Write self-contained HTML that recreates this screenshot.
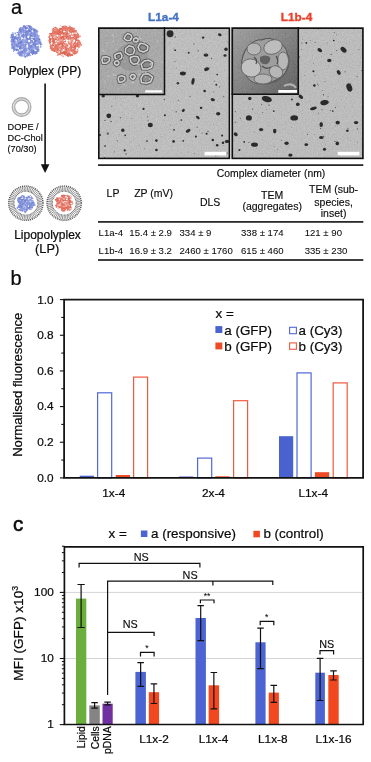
<!DOCTYPE html>
<html><head><meta charset="utf-8"><style>
html,body{margin:0;padding:0;background:#fff;width:371px;height:762px;overflow:hidden}
svg{display:block;font-family:"Liberation Sans",sans-serif;will-change:transform}
text{stroke:#0a0a0a;stroke-width:0.22px}
text[fill="#4472c4"]{stroke:#4472c4;stroke-width:0.35px}
text[fill="#e8402a"]{stroke:#e8402a;stroke-width:0.35px}
</style></head><body>
<svg width="371" height="762" viewBox="0 0 371 762" font-family="Liberation Sans, sans-serif"><text x="11" y="14.2" font-size="20" fill="#0a0a0a" text-anchor="start" font-weight="normal" style="stroke-width:0.22px" >a</text>
<g><circle cx="21.88" cy="52.40" r="4.22" fill="#8090dc"/><circle cx="16.15" cy="46.99" r="4.20" fill="#8090dc"/><circle cx="15.40" cy="41.22" r="4.76" fill="#8090dc"/><circle cx="16.22" cy="37.31" r="4.74" fill="#8090dc"/><circle cx="22.82" cy="31.66" r="4.45" fill="#8090dc"/><circle cx="28.22" cy="29.91" r="4.97" fill="#8090dc"/><circle cx="33.34" cy="32.43" r="4.19" fill="#8090dc"/><circle cx="36.07" cy="40.46" r="4.33" fill="#8090dc"/><circle cx="36.03" cy="43.38" r="5.32" fill="#8090dc"/><circle cx="33.62" cy="49.37" r="5.06" fill="#8090dc"/><circle cx="27.27" cy="52.63" r="4.21" fill="#8090dc"/><circle cx="28.79" cy="42.89" r="5.18" fill="#8090dc"/><circle cx="21.58" cy="43.52" r="4.97" fill="#8090dc"/><circle cx="21.42" cy="42.84" r="5.43" fill="#8090dc"/><circle cx="24.29" cy="37.95" r="4.94" fill="#8090dc"/><circle cx="18.31" cy="40.45" r="5.29" fill="#8090dc"/><circle cx="23.68" cy="49.09" r="3.94" fill="#8090dc"/><circle cx="19.60" cy="44.93" r="4.01" fill="#8090dc"/><circle cx="23.96" cy="41.71" r="5.15" fill="#8090dc"/><circle cx="26.04" cy="35.73" r="5.61" fill="#8090dc"/><circle cx="22.97" cy="47.58" r="4.99" fill="#8090dc"/><circle cx="20.89" cy="39.07" r="5.53" fill="#8090dc"/><circle cx="25.50" cy="41.60" r="8.09" fill="#8090dc"/><circle cx="30.99" cy="44.20" r="0.94" fill="#7f8fda"/><circle cx="30.05" cy="44.64" r="0.67" fill="#6a7acc"/><circle cx="24.19" cy="41.27" r="0.71" fill="#6a7acc"/><circle cx="27.23" cy="36.81" r="0.58" fill="#93a0e2"/><circle cx="32.17" cy="43.37" r="0.55" fill="#6a7acc"/><circle cx="21.79" cy="39.73" r="0.99" fill="#7383d4"/><circle cx="19.06" cy="47.93" r="0.91" fill="#93a0e2"/><circle cx="23.77" cy="42.92" r="0.59" fill="#7383d4"/><circle cx="21.36" cy="43.57" r="0.61" fill="#a3aee6"/><circle cx="37.47" cy="49.47" r="0.87" fill="#93a0e2"/><circle cx="31.21" cy="51.43" r="1.07" fill="#a3aee6"/><circle cx="22.36" cy="46.36" r="0.98" fill="#ffffff"/><circle cx="18.64" cy="45.71" r="0.88" fill="#6a7acc"/><circle cx="17.93" cy="51.55" r="0.60" fill="#6a7acc"/><circle cx="26.00" cy="51.69" r="0.59" fill="#a3aee6"/><circle cx="20.37" cy="35.93" r="1.02" fill="#7f8fda"/><circle cx="22.29" cy="39.42" r="0.86" fill="#93a0e2"/><circle cx="22.41" cy="44.45" r="0.79" fill="#6a7acc"/><circle cx="35.25" cy="50.35" r="0.94" fill="#93a0e2"/><circle cx="19.50" cy="38.25" r="0.62" fill="#7f8fda"/><circle cx="21.20" cy="52.03" r="0.95" fill="#7f8fda"/><circle cx="39.10" cy="48.63" r="1.01" fill="#ffffff"/><circle cx="22.41" cy="50.50" r="0.82" fill="#7383d4"/><circle cx="22.63" cy="51.01" r="0.98" fill="#7383d4"/><circle cx="21.40" cy="40.74" r="0.80" fill="#a3aee6"/><circle cx="26.29" cy="52.11" r="0.66" fill="#6a7acc"/><circle cx="21.09" cy="38.17" r="1.09" fill="#ffffff"/><circle cx="30.49" cy="43.84" r="0.62" fill="#6a7acc"/><circle cx="28.48" cy="32.96" r="1.00" fill="#a3aee6"/><circle cx="21.38" cy="38.48" r="0.55" fill="#ffffff"/><circle cx="23.85" cy="41.84" r="0.95" fill="#ffffff"/><circle cx="21.45" cy="37.82" r="0.70" fill="#ffffff"/><circle cx="16.68" cy="44.67" r="0.93" fill="#7f8fda"/><circle cx="29.18" cy="29.87" r="1.04" fill="#a3aee6"/><circle cx="26.21" cy="51.82" r="0.89" fill="#6a7acc"/><circle cx="31.30" cy="46.64" r="0.51" fill="#7f8fda"/><circle cx="27.03" cy="50.63" r="0.76" fill="#7383d4"/><circle cx="34.38" cy="30.42" r="0.63" fill="#93a0e2"/><circle cx="23.89" cy="52.63" r="0.83" fill="#93a0e2"/><circle cx="27.00" cy="33.34" r="0.90" fill="#6a7acc"/><circle cx="19.78" cy="51.21" r="0.58" fill="#a3aee6"/><circle cx="22.12" cy="31.56" r="0.97" fill="#6a7acc"/><circle cx="31.93" cy="35.88" r="0.58" fill="#7383d4"/><circle cx="25.27" cy="30.87" r="0.91" fill="#93a0e2"/><circle cx="19.82" cy="47.69" r="1.03" fill="#7f8fda"/><circle cx="16.17" cy="49.59" r="0.80" fill="#7f8fda"/><circle cx="24.00" cy="45.71" r="0.77" fill="#7f8fda"/><circle cx="31.10" cy="34.88" r="0.92" fill="#7383d4"/><circle cx="19.07" cy="37.68" r="1.06" fill="#a3aee6"/><circle cx="16.69" cy="40.31" r="1.05" fill="#93a0e2"/><circle cx="34.31" cy="30.89" r="0.74" fill="#7f8fda"/><circle cx="29.45" cy="53.70" r="0.63" fill="#7f8fda"/><circle cx="34.81" cy="43.87" r="1.06" fill="#7383d4"/><circle cx="21.78" cy="45.70" r="1.08" fill="#7383d4"/><circle cx="36.04" cy="38.89" r="0.60" fill="#6a7acc"/><circle cx="22.18" cy="36.80" r="1.10" fill="#6a7acc"/><circle cx="20.21" cy="45.71" r="0.56" fill="#93a0e2"/><circle cx="33.29" cy="43.45" r="0.92" fill="#6a7acc"/><circle cx="19.32" cy="47.54" r="1.08" fill="#a3aee6"/><circle cx="21.16" cy="36.84" r="0.55" fill="#7f8fda"/><circle cx="41.38" cy="44.74" r="0.95" fill="#93a0e2"/><circle cx="24.50" cy="38.58" r="0.74" fill="#93a0e2"/><circle cx="22.72" cy="43.20" r="0.70" fill="#ffffff"/><circle cx="40.88" cy="45.21" r="1.04" fill="#6a7acc"/><circle cx="40.64" cy="41.49" r="0.55" fill="#93a0e2"/><circle cx="40.40" cy="42.38" r="0.51" fill="#6a7acc"/><circle cx="15.68" cy="47.16" r="0.58" fill="#a3aee6"/><circle cx="22.55" cy="44.75" r="0.66" fill="#7383d4"/><circle cx="29.19" cy="33.02" r="0.82" fill="#93a0e2"/><circle cx="32.47" cy="35.80" r="0.66" fill="#7383d4"/><circle cx="22.84" cy="52.36" r="0.94" fill="#7f8fda"/><circle cx="22.95" cy="44.47" r="1.06" fill="#7383d4"/><circle cx="13.77" cy="33.53" r="0.80" fill="#ffffff"/><circle cx="24.77" cy="42.92" r="1.09" fill="#7383d4"/><circle cx="28.75" cy="57.04" r="0.88" fill="#ffffff"/><circle cx="27.36" cy="43.13" r="0.51" fill="#7383d4"/><circle cx="22.80" cy="44.62" r="0.53" fill="#7383d4"/><circle cx="24.18" cy="33.97" r="1.08" fill="#ffffff"/><circle cx="26.21" cy="39.30" r="0.61" fill="#6a7acc"/><circle cx="33.00" cy="44.45" r="1.08" fill="#93a0e2"/><circle cx="19.21" cy="45.72" r="0.63" fill="#93a0e2"/><circle cx="31.82" cy="29.93" r="0.67" fill="#6a7acc"/><circle cx="24.23" cy="51.55" r="0.55" fill="#7f8fda"/><circle cx="18.05" cy="44.59" r="0.51" fill="#6a7acc"/><circle cx="32.43" cy="48.12" r="1.01" fill="#a3aee6"/><circle cx="20.39" cy="27.96" r="0.73" fill="#a3aee6"/><circle cx="26.63" cy="49.21" r="0.93" fill="#93a0e2"/><circle cx="26.24" cy="51.78" r="1.04" fill="#ffffff"/><circle cx="18.53" cy="49.69" r="0.58" fill="#a3aee6"/><circle cx="23.74" cy="45.60" r="1.00" fill="#7f8fda"/><circle cx="25.48" cy="36.83" r="0.89" fill="#ffffff"/><circle cx="17.40" cy="41.62" r="1.08" fill="#93a0e2"/><circle cx="23.82" cy="39.77" r="0.51" fill="#ffffff"/><circle cx="18.21" cy="41.94" r="0.77" fill="#7f8fda"/><circle cx="15.35" cy="37.25" r="0.56" fill="#a3aee6"/><circle cx="27.32" cy="50.69" r="0.99" fill="#93a0e2"/><circle cx="36.54" cy="48.79" r="0.94" fill="#7383d4"/><circle cx="20.69" cy="38.09" r="1.05" fill="#6a7acc"/><circle cx="34.12" cy="44.73" r="0.62" fill="#ffffff"/><circle cx="28.04" cy="38.39" r="0.92" fill="#ffffff"/><circle cx="25.37" cy="35.43" r="0.79" fill="#7f8fda"/><circle cx="23.35" cy="40.85" r="0.67" fill="#6a7acc"/><circle cx="22.98" cy="52.17" r="1.10" fill="#7f8fda"/><circle cx="21.07" cy="49.37" r="0.51" fill="#6a7acc"/><circle cx="27.96" cy="39.86" r="1.10" fill="#6a7acc"/><circle cx="23.00" cy="49.02" r="0.54" fill="#7383d4"/><circle cx="17.94" cy="44.37" r="0.58" fill="#93a0e2"/><circle cx="17.45" cy="47.27" r="0.72" fill="#ffffff"/><circle cx="21.78" cy="37.85" r="0.60" fill="#7f8fda"/><circle cx="16.66" cy="36.85" r="0.58" fill="#ffffff"/><circle cx="27.28" cy="44.38" r="0.50" fill="#93a0e2"/><circle cx="28.18" cy="51.18" r="0.93" fill="#7383d4"/><circle cx="33.59" cy="50.89" r="1.10" fill="#6a7acc"/><circle cx="29.13" cy="44.40" r="1.01" fill="#93a0e2"/><circle cx="40.61" cy="46.79" r="0.88" fill="#93a0e2"/><circle cx="22.83" cy="34.36" r="0.69" fill="#a3aee6"/><circle cx="29.66" cy="39.01" r="0.99" fill="#7f8fda"/><circle cx="18.53" cy="50.80" r="0.83" fill="#a3aee6"/><circle cx="19.95" cy="42.69" r="0.87" fill="#6a7acc"/><circle cx="21.10" cy="29.46" r="1.05" fill="#7f8fda"/><circle cx="21.86" cy="47.26" r="0.67" fill="#93a0e2"/><circle cx="35.60" cy="37.21" r="0.74" fill="#93a0e2"/><circle cx="34.88" cy="44.07" r="0.57" fill="#6a7acc"/><circle cx="24.38" cy="49.85" r="0.83" fill="#6a7acc"/><circle cx="29.12" cy="34.72" r="0.76" fill="#6a7acc"/><circle cx="20.11" cy="46.26" r="0.83" fill="#93a0e2"/><circle cx="27.44" cy="55.14" r="0.62" fill="#a3aee6"/><circle cx="21.88" cy="49.20" r="0.95" fill="#6a7acc"/><circle cx="31.29" cy="34.43" r="0.80" fill="#7f8fda"/><circle cx="26.07" cy="41.27" r="0.82" fill="#a3aee6"/><circle cx="37.23" cy="34.99" r="0.74" fill="#6a7acc"/><circle cx="21.33" cy="39.30" r="0.58" fill="#7f8fda"/><circle cx="19.90" cy="36.99" r="1.08" fill="#6a7acc"/><circle cx="22.20" cy="40.46" r="1.01" fill="#a3aee6"/><circle cx="24.31" cy="39.87" r="0.59" fill="#7383d4"/><circle cx="25.47" cy="42.80" r="0.89" fill="#ffffff"/><circle cx="28.70" cy="40.56" r="0.97" fill="#7f8fda"/><circle cx="35.18" cy="40.04" r="0.68" fill="#ffffff"/><circle cx="20.16" cy="28.95" r="0.92" fill="#6a7acc"/><circle cx="18.70" cy="39.09" r="0.62" fill="#a3aee6"/><circle cx="36.83" cy="48.16" r="0.82" fill="#7f8fda"/><circle cx="23.70" cy="41.17" r="0.79" fill="#7383d4"/><circle cx="35.24" cy="40.20" r="0.92" fill="#6a7acc"/><circle cx="36.09" cy="50.27" r="0.89" fill="#ffffff"/><circle cx="15.19" cy="45.79" r="0.64" fill="#93a0e2"/><circle cx="14.75" cy="43.04" r="0.91" fill="#93a0e2"/><circle cx="35.99" cy="32.54" r="0.54" fill="#a3aee6"/><circle cx="21.72" cy="39.80" r="0.64" fill="#7383d4"/><circle cx="35.62" cy="45.24" r="1.07" fill="#7f8fda"/><circle cx="13.77" cy="36.70" r="0.75" fill="#6a7acc"/><circle cx="25.60" cy="40.81" r="0.53" fill="#6a7acc"/><circle cx="23.73" cy="52.09" r="0.93" fill="#7f8fda"/><circle cx="23.88" cy="33.35" r="0.94" fill="#93a0e2"/><circle cx="18.31" cy="39.88" r="0.89" fill="#7383d4"/><circle cx="23.66" cy="48.26" r="0.94" fill="#ffffff"/><circle cx="32.82" cy="42.51" r="0.50" fill="#7f8fda"/><circle cx="39.57" cy="45.35" r="0.84" fill="#7f8fda"/><circle cx="30.19" cy="35.38" r="0.99" fill="#93a0e2"/><circle cx="25.99" cy="45.65" r="0.72" fill="#7383d4"/><circle cx="25.52" cy="41.24" r="0.52" fill="#6a7acc"/><circle cx="21.48" cy="47.89" r="0.52" fill="#6a7acc"/><circle cx="11.83" cy="47.98" r="0.65" fill="#7f8fda"/><circle cx="18.01" cy="39.28" r="0.70" fill="#93a0e2"/><circle cx="31.53" cy="37.27" r="0.69" fill="#ffffff"/><circle cx="34.47" cy="48.46" r="1.05" fill="#a3aee6"/><circle cx="24.38" cy="47.08" r="0.56" fill="#7383d4"/><circle cx="34.45" cy="39.11" r="0.97" fill="#6a7acc"/><circle cx="22.34" cy="40.70" r="0.61" fill="#6a7acc"/><circle cx="35.93" cy="44.68" r="0.64" fill="#a3aee6"/><circle cx="23.02" cy="53.70" r="0.55" fill="#a3aee6"/><circle cx="31.80" cy="33.67" r="0.54" fill="#6a7acc"/><circle cx="12.52" cy="47.40" r="1.09" fill="#7383d4"/><circle cx="19.09" cy="37.09" r="0.63" fill="#7f8fda"/><circle cx="16.04" cy="42.89" r="0.60" fill="#6a7acc"/><circle cx="19.25" cy="33.72" r="0.64" fill="#ffffff"/><circle cx="21.80" cy="41.78" r="0.97" fill="#7f8fda"/><circle cx="32.40" cy="53.68" r="0.65" fill="#93a0e2"/><circle cx="37.00" cy="46.33" r="0.64" fill="#7383d4"/><circle cx="37.00" cy="46.36" r="0.54" fill="#93a0e2"/><circle cx="40.48" cy="43.17" r="0.89" fill="#7383d4"/><circle cx="13.05" cy="32.75" r="0.50" fill="#7f8fda"/><circle cx="38.70" cy="36.35" r="1.03" fill="#7f8fda"/><circle cx="37.70" cy="41.97" r="0.62" fill="#a3aee6"/><circle cx="11.78" cy="44.97" r="0.86" fill="#6a7acc"/><circle cx="22.88" cy="38.36" r="0.93" fill="#a3aee6"/><circle cx="29.53" cy="46.51" r="0.53" fill="#7383d4"/><circle cx="41.23" cy="44.65" r="0.99" fill="#7383d4"/><circle cx="24.73" cy="54.26" r="0.69" fill="#a3aee6"/><circle cx="36.73" cy="33.11" r="0.54" fill="#6a7acc"/><circle cx="17.52" cy="32.95" r="0.88" fill="#7383d4"/><circle cx="13.38" cy="38.33" r="0.75" fill="#93a0e2"/><circle cx="31.72" cy="46.03" r="0.69" fill="#7f8fda"/><circle cx="26.87" cy="39.10" r="1.02" fill="#7f8fda"/><circle cx="26.44" cy="39.89" r="0.62" fill="#6a7acc"/><circle cx="20.08" cy="53.19" r="0.99" fill="#7f8fda"/><circle cx="18.46" cy="41.86" r="0.58" fill="#7383d4"/><circle cx="12.39" cy="45.73" r="0.55" fill="#6a7acc"/><circle cx="31.12" cy="33.23" r="0.59" fill="#7383d4"/><circle cx="34.92" cy="51.47" r="0.57" fill="#7f8fda"/><circle cx="18.43" cy="34.92" r="0.68" fill="#7383d4"/><circle cx="19.54" cy="46.46" r="0.86" fill="#7f8fda"/><circle cx="18.72" cy="51.19" r="0.91" fill="#a3aee6"/><circle cx="24.78" cy="25.74" r="0.74" fill="#a3aee6"/><circle cx="34.34" cy="30.58" r="0.53" fill="#7383d4"/><circle cx="25.22" cy="51.40" r="0.65" fill="#7383d4"/><circle cx="36.91" cy="33.37" r="0.52" fill="#ffffff"/><circle cx="30.11" cy="55.21" r="1.01" fill="#a3aee6"/><circle cx="31.66" cy="46.71" r="0.76" fill="#7383d4"/><circle cx="17.78" cy="42.48" r="0.51" fill="#7383d4"/><circle cx="30.52" cy="35.34" r="0.96" fill="#6a7acc"/><circle cx="27.00" cy="33.47" r="0.56" fill="#6a7acc"/><circle cx="20.83" cy="34.12" r="0.80" fill="#6a7acc"/><circle cx="25.91" cy="40.38" r="1.05" fill="#7f8fda"/><circle cx="27.88" cy="49.14" r="0.95" fill="#7f8fda"/><circle cx="18.61" cy="39.28" r="1.01" fill="#7f8fda"/><circle cx="25.37" cy="29.81" r="0.58" fill="#7383d4"/><circle cx="16.99" cy="45.89" r="0.91" fill="#7383d4"/><circle cx="38.84" cy="41.66" r="0.60" fill="#93a0e2"/><circle cx="25.11" cy="41.62" r="0.65" fill="#7383d4"/><circle cx="19.13" cy="43.53" r="0.64" fill="#a3aee6"/><circle cx="31.32" cy="43.49" r="0.88" fill="#7383d4"/><circle cx="33.49" cy="38.03" r="0.98" fill="#7383d4"/><circle cx="39.44" cy="46.39" r="1.01" fill="#ffffff"/><circle cx="20.12" cy="36.44" r="0.65" fill="#7f8fda"/><circle cx="17.57" cy="42.78" r="0.66" fill="#93a0e2"/><circle cx="25.56" cy="41.18" r="0.77" fill="#7f8fda"/><circle cx="23.94" cy="26.12" r="0.99" fill="#93a0e2"/><circle cx="33.76" cy="49.09" r="1.06" fill="#a3aee6"/><circle cx="26.82" cy="48.37" r="0.59" fill="#7383d4"/><circle cx="23.04" cy="32.71" r="1.04" fill="#93a0e2"/><circle cx="18.74" cy="31.96" r="0.51" fill="#7f8fda"/><circle cx="19.39" cy="51.27" r="0.71" fill="#a3aee6"/><circle cx="33.68" cy="41.91" r="0.62" fill="#7383d4"/><circle cx="27.28" cy="33.42" r="1.06" fill="#7f8fda"/><circle cx="35.17" cy="37.16" r="0.88" fill="#7f8fda"/><circle cx="21.72" cy="35.03" r="1.08" fill="#93a0e2"/><circle cx="13.87" cy="44.06" r="0.86" fill="#93a0e2"/><circle cx="18.46" cy="43.74" r="0.80" fill="#ffffff"/><circle cx="29.22" cy="29.21" r="0.52" fill="#a3aee6"/><circle cx="28.32" cy="31.32" r="0.51" fill="#7f8fda"/><circle cx="18.44" cy="43.19" r="0.62" fill="#6a7acc"/><circle cx="22.72" cy="31.58" r="0.99" fill="#6a7acc"/><circle cx="26.74" cy="29.83" r="0.53" fill="#ffffff"/><circle cx="18.20" cy="39.97" r="0.95" fill="#6a7acc"/><circle cx="28.41" cy="40.23" r="0.64" fill="#7383d4"/><circle cx="15.90" cy="41.77" r="0.70" fill="#7f8fda"/><circle cx="30.07" cy="39.88" r="0.66" fill="#7f8fda"/><circle cx="17.92" cy="41.41" r="1.08" fill="#a3aee6"/><circle cx="29.95" cy="44.82" r="0.55" fill="#7383d4"/><circle cx="26.03" cy="49.32" r="1.01" fill="#7383d4"/><circle cx="37.34" cy="30.98" r="0.62" fill="#93a0e2"/><circle cx="20.23" cy="46.03" r="1.05" fill="#ffffff"/><circle cx="23.48" cy="35.07" r="1.00" fill="#6a7acc"/><circle cx="27.05" cy="41.66" r="0.64" fill="#ffffff"/><circle cx="34.53" cy="45.76" r="0.55" fill="#a3aee6"/><circle cx="28.80" cy="30.67" r="0.87" fill="#7f8fda"/><circle cx="26.98" cy="31.73" r="0.52" fill="#7f8fda"/><circle cx="21.35" cy="27.77" r="0.54" fill="#ffffff"/><circle cx="19.63" cy="48.51" r="0.62" fill="#93a0e2"/><circle cx="20.54" cy="44.17" r="1.07" fill="#ffffff"/><circle cx="16.28" cy="39.82" r="0.52" fill="#7f8fda"/><circle cx="27.31" cy="50.23" r="0.67" fill="#ffffff"/><circle cx="19.56" cy="40.98" r="0.62" fill="#ffffff"/><circle cx="25.96" cy="54.80" r="0.65" fill="#93a0e2"/><circle cx="38.57" cy="50.93" r="0.96" fill="#93a0e2"/><circle cx="19.95" cy="35.59" r="0.95" fill="#a3aee6"/><circle cx="25.93" cy="43.73" r="0.71" fill="#7f8fda"/><circle cx="32.33" cy="43.73" r="1.02" fill="#ffffff"/><circle cx="12.72" cy="39.87" r="0.50" fill="#6a7acc"/><circle cx="32.32" cy="36.57" r="0.50" fill="#7f8fda"/><circle cx="22.58" cy="43.38" r="1.08" fill="#7383d4"/><circle cx="20.79" cy="46.23" r="0.85" fill="#93a0e2"/><circle cx="27.65" cy="32.56" r="0.64" fill="#ffffff"/><circle cx="31.81" cy="32.88" r="0.79" fill="#7f8fda"/><circle cx="22.65" cy="40.44" r="0.71" fill="#93a0e2"/><circle cx="26.55" cy="41.12" r="0.55" fill="#ffffff"/><circle cx="25.60" cy="48.00" r="0.76" fill="#93a0e2"/><circle cx="16.70" cy="44.91" r="0.64" fill="#ffffff"/><circle cx="27.42" cy="41.16" r="0.95" fill="#ffffff"/><circle cx="27.34" cy="48.52" r="0.59" fill="#a3aee6"/><circle cx="21.66" cy="33.68" r="0.78" fill="#7383d4"/><circle cx="26.56" cy="34.44" r="0.70" fill="#7383d4"/><circle cx="25.12" cy="45.69" r="0.66" fill="#7383d4"/><circle cx="28.96" cy="34.97" r="0.59" fill="#ffffff"/><circle cx="35.41" cy="36.56" r="0.60" fill="#93a0e2"/><circle cx="29.70" cy="51.94" r="1.10" fill="#ffffff"/><circle cx="30.03" cy="29.47" r="0.59" fill="#6a7acc"/><circle cx="24.07" cy="27.36" r="0.66" fill="#6a7acc"/><circle cx="15.04" cy="35.91" r="1.03" fill="#7383d4"/><circle cx="27.88" cy="38.73" r="0.92" fill="#6a7acc"/><circle cx="26.18" cy="48.79" r="0.59" fill="#7f8fda"/><circle cx="26.00" cy="35.24" r="1.04" fill="#7383d4"/><circle cx="19.94" cy="38.17" r="0.75" fill="#ffffff"/><circle cx="34.04" cy="36.88" r="0.92" fill="#ffffff"/><circle cx="34.33" cy="36.77" r="0.76" fill="#6a7acc"/><circle cx="34.67" cy="41.96" r="0.65" fill="#6a7acc"/><circle cx="20.52" cy="39.00" r="1.01" fill="#93a0e2"/><circle cx="13.60" cy="41.81" r="0.81" fill="#6a7acc"/><circle cx="23.41" cy="37.89" r="0.70" fill="#ffffff"/><circle cx="19.22" cy="54.63" r="0.52" fill="#7f8fda"/><circle cx="20.40" cy="48.85" r="0.81" fill="#7383d4"/><circle cx="18.39" cy="34.22" r="0.93" fill="#7383d4"/><circle cx="27.78" cy="49.51" r="0.81" fill="#93a0e2"/><circle cx="21.21" cy="38.52" r="0.61" fill="#ffffff"/><circle cx="23.81" cy="47.47" r="0.71" fill="#a3aee6"/><circle cx="16.10" cy="50.04" r="0.51" fill="#7f8fda"/><circle cx="25.79" cy="40.27" r="0.71" fill="#ffffff"/><circle cx="38.69" cy="45.56" r="1.06" fill="#6a7acc"/><circle cx="28.22" cy="48.27" r="0.78" fill="#6a7acc"/><circle cx="31.76" cy="33.65" r="0.62" fill="#ffffff"/><circle cx="20.39" cy="46.52" r="0.71" fill="#7383d4"/><circle cx="25.51" cy="43.00" r="0.78" fill="#6a7acc"/><circle cx="33.92" cy="44.59" r="0.71" fill="#6a7acc"/><circle cx="35.73" cy="43.56" r="1.09" fill="#93a0e2"/><circle cx="21.02" cy="39.38" r="0.98" fill="#ffffff"/><circle cx="28.89" cy="46.24" r="0.79" fill="#6a7acc"/><circle cx="22.56" cy="31.66" r="0.59" fill="#93a0e2"/><circle cx="34.49" cy="48.25" r="1.04" fill="#a3aee6"/><circle cx="19.81" cy="31.08" r="0.51" fill="#a3aee6"/><circle cx="22.22" cy="53.69" r="0.65" fill="#93a0e2"/><circle cx="11.68" cy="34.86" r="0.97" fill="#7383d4"/><circle cx="29.39" cy="40.18" r="0.98" fill="#6a7acc"/><circle cx="24.47" cy="26.83" r="0.90" fill="#7f8fda"/><circle cx="20.63" cy="40.73" r="0.80" fill="#7383d4"/><circle cx="29.17" cy="31.62" r="0.90" fill="#6a7acc"/><circle cx="13.52" cy="36.33" r="1.00" fill="#7383d4"/><circle cx="16.81" cy="40.52" r="1.04" fill="#6a7acc"/><circle cx="18.79" cy="41.96" r="0.86" fill="#a3aee6"/><circle cx="23.39" cy="54.78" r="0.84" fill="#ffffff"/><circle cx="19.60" cy="43.32" r="0.75" fill="#6a7acc"/><circle cx="25.51" cy="41.44" r="0.89" fill="#ffffff"/><circle cx="18.72" cy="49.79" r="0.99" fill="#93a0e2"/><circle cx="12.35" cy="37.05" r="0.52" fill="#7383d4"/><circle cx="22.58" cy="43.31" r="1.02" fill="#7f8fda"/><circle cx="25.87" cy="47.41" r="0.96" fill="#a3aee6"/><circle cx="32.72" cy="35.24" r="0.83" fill="#93a0e2"/><circle cx="32.18" cy="54.59" r="0.70" fill="#6a7acc"/><circle cx="38.59" cy="40.75" r="0.89" fill="#7383d4"/><circle cx="14.69" cy="40.05" r="0.58" fill="#93a0e2"/><circle cx="27.96" cy="50.64" r="0.93" fill="#6a7acc"/><circle cx="20.33" cy="43.15" r="0.57" fill="#93a0e2"/><circle cx="17.90" cy="51.40" r="0.96" fill="#a3aee6"/><circle cx="17.29" cy="42.41" r="0.73" fill="#a3aee6"/><circle cx="19.77" cy="28.54" r="1.03" fill="#a3aee6"/><circle cx="16.46" cy="45.66" r="0.88" fill="#6a7acc"/><circle cx="30.22" cy="31.39" r="0.75" fill="#7f8fda"/><circle cx="20.10" cy="34.98" r="1.02" fill="#93a0e2"/><circle cx="23.72" cy="27.84" r="1.02" fill="#93a0e2"/><circle cx="25.31" cy="31.47" r="0.84" fill="#6a7acc"/><circle cx="25.26" cy="41.14" r="0.81" fill="#a3aee6"/><circle cx="16.76" cy="33.73" r="1.05" fill="#ffffff"/><circle cx="28.66" cy="39.92" r="0.86" fill="#a3aee6"/><circle cx="25.34" cy="38.53" r="0.83" fill="#6a7acc"/><circle cx="13.81" cy="39.19" r="0.88" fill="#7383d4"/><circle cx="26.70" cy="42.99" r="1.09" fill="#7f8fda"/><circle cx="15.78" cy="43.13" r="0.51" fill="#6a7acc"/><circle cx="24.21" cy="46.89" r="1.05" fill="#7383d4"/><circle cx="29.56" cy="37.81" r="0.94" fill="#7383d4"/><circle cx="14.28" cy="45.25" r="0.78" fill="#6a7acc"/><circle cx="37.25" cy="42.63" r="0.51" fill="#7f8fda"/><circle cx="24.94" cy="49.64" r="0.55" fill="#a3aee6"/><circle cx="31.86" cy="53.63" r="0.87" fill="#6a7acc"/><circle cx="24.74" cy="55.41" r="0.78" fill="#6a7acc"/><circle cx="31.42" cy="34.03" r="1.07" fill="#93a0e2"/><circle cx="25.62" cy="27.16" r="0.97" fill="#6a7acc"/><circle cx="29.13" cy="36.20" r="0.70" fill="#a3aee6"/><circle cx="41.76" cy="45.67" r="0.98" fill="#ffffff"/><circle cx="23.51" cy="40.20" r="1.00" fill="#7f8fda"/><circle cx="28.54" cy="31.35" r="0.73" fill="#7383d4"/><circle cx="16.82" cy="43.08" r="0.98" fill="#7383d4"/><circle cx="32.35" cy="46.25" r="0.75" fill="#93a0e2"/><circle cx="28.61" cy="39.17" r="0.67" fill="#7f8fda"/><circle cx="24.67" cy="27.15" r="0.59" fill="#a3aee6"/><circle cx="17.80" cy="40.80" r="0.82" fill="#93a0e2"/><circle cx="15.63" cy="43.54" r="0.97" fill="#7383d4"/><circle cx="35.63" cy="41.59" r="0.78" fill="#6a7acc"/><circle cx="36.71" cy="30.74" r="0.97" fill="#7f8fda"/><circle cx="20.17" cy="36.88" r="0.96" fill="#93a0e2"/><circle cx="33.12" cy="42.65" r="1.03" fill="#93a0e2"/><circle cx="22.26" cy="52.06" r="0.61" fill="#7383d4"/><circle cx="37.04" cy="34.85" r="0.72" fill="#93a0e2"/><circle cx="20.58" cy="45.85" r="0.65" fill="#7383d4"/><circle cx="16.88" cy="41.89" r="0.78" fill="#ffffff"/><circle cx="17.80" cy="44.81" r="0.67" fill="#93a0e2"/><circle cx="27.24" cy="35.89" r="0.79" fill="#a3aee6"/><circle cx="25.28" cy="47.38" r="0.76" fill="#93a0e2"/><circle cx="24.86" cy="32.72" r="0.65" fill="#7383d4"/><circle cx="13.53" cy="51.17" r="0.55" fill="#6a7acc"/><circle cx="19.08" cy="47.64" r="0.77" fill="#ffffff"/><circle cx="18.31" cy="37.83" r="0.92" fill="#7f8fda"/><circle cx="15.21" cy="45.42" r="0.55" fill="#ffffff"/><circle cx="18.11" cy="38.96" r="0.72" fill="#7383d4"/><circle cx="38.47" cy="40.33" r="1.07" fill="#7f8fda"/><circle cx="33.01" cy="44.54" r="1.00" fill="#7f8fda"/><circle cx="15.97" cy="50.52" r="0.89" fill="#ffffff"/><circle cx="20.53" cy="41.26" r="1.06" fill="#7f8fda"/><circle cx="20.83" cy="34.07" r="0.95" fill="#6a7acc"/><circle cx="12.88" cy="37.93" r="0.57" fill="#6a7acc"/><circle cx="15.30" cy="43.29" r="1.05" fill="#7383d4"/><circle cx="17.23" cy="53.35" r="0.59" fill="#7f8fda"/><circle cx="39.61" cy="42.34" r="1.03" fill="#93a0e2"/><circle cx="23.73" cy="26.63" r="1.01" fill="#6a7acc"/><circle cx="28.12" cy="50.21" r="0.99" fill="#93a0e2"/><circle cx="21.12" cy="42.95" r="0.63" fill="#93a0e2"/><circle cx="17.56" cy="49.99" r="0.76" fill="#7383d4"/><circle cx="22.48" cy="35.00" r="0.52" fill="#7383d4"/><circle cx="25.83" cy="38.74" r="0.66" fill="#7383d4"/><circle cx="14.02" cy="42.13" r="0.59" fill="#7f8fda"/><circle cx="27.79" cy="50.62" r="1.06" fill="#ffffff"/><circle cx="17.10" cy="45.29" r="0.95" fill="#93a0e2"/><circle cx="25.95" cy="44.18" r="1.06" fill="#7383d4"/><circle cx="13.45" cy="39.59" r="0.53" fill="#7383d4"/><circle cx="36.55" cy="53.12" r="0.98" fill="#6a7acc"/><circle cx="23.98" cy="52.41" r="0.67" fill="#a3aee6"/><circle cx="23.45" cy="45.19" r="0.67" fill="#7383d4"/><circle cx="29.82" cy="31.80" r="0.93" fill="#7383d4"/><circle cx="29.72" cy="29.78" r="0.94" fill="#a3aee6"/><circle cx="37.07" cy="45.44" r="0.92" fill="#ffffff"/><circle cx="31.41" cy="31.33" r="0.92" fill="#7f8fda"/><circle cx="20.38" cy="51.24" r="0.81" fill="#7f8fda"/><circle cx="25.94" cy="47.70" r="0.55" fill="#6a7acc"/><circle cx="25.15" cy="40.48" r="0.66" fill="#ffffff"/><circle cx="22.87" cy="27.67" r="0.60" fill="#7f8fda"/><circle cx="23.76" cy="40.33" r="0.81" fill="#93a0e2"/><circle cx="25.81" cy="37.65" r="0.93" fill="#93a0e2"/><circle cx="28.11" cy="48.09" r="0.95" fill="#a3aee6"/><circle cx="15.73" cy="48.55" r="0.80" fill="#ffffff"/><circle cx="27.78" cy="49.76" r="0.51" fill="#7383d4"/><circle cx="15.79" cy="43.58" r="0.69" fill="#7f8fda"/><circle cx="19.94" cy="44.19" r="1.06" fill="#7f8fda"/><circle cx="33.01" cy="36.93" r="0.85" fill="#ffffff"/><circle cx="23.91" cy="52.17" r="1.02" fill="#93a0e2"/><circle cx="27.65" cy="46.08" r="0.80" fill="#6a7acc"/><circle cx="23.79" cy="47.56" r="0.74" fill="#7f8fda"/><circle cx="20.41" cy="31.02" r="0.59" fill="#7383d4"/><circle cx="20.25" cy="42.61" r="1.06" fill="#7f8fda"/><circle cx="20.02" cy="39.28" r="0.82" fill="#a3aee6"/><circle cx="22.89" cy="43.27" r="0.70" fill="#93a0e2"/><circle cx="38.35" cy="36.80" r="0.98" fill="#a3aee6"/><circle cx="29.08" cy="48.45" r="0.69" fill="#7f8fda"/><circle cx="27.70" cy="30.34" r="1.02" fill="#7383d4"/><circle cx="18.25" cy="36.16" r="0.61" fill="#a3aee6"/><circle cx="24.06" cy="54.07" r="0.64" fill="#7f8fda"/><circle cx="26.95" cy="41.77" r="0.88" fill="#6a7acc"/><circle cx="20.01" cy="47.83" r="1.05" fill="#93a0e2"/><circle cx="25.33" cy="40.54" r="0.87" fill="#7f8fda"/><circle cx="36.55" cy="43.88" r="1.07" fill="#7383d4"/><circle cx="36.28" cy="51.66" r="0.57" fill="#7383d4"/><circle cx="32.16" cy="34.12" r="0.55" fill="#93a0e2"/><circle cx="21.68" cy="41.21" r="0.81" fill="#7f8fda"/><circle cx="37.52" cy="47.09" r="0.65" fill="#93a0e2"/><circle cx="15.21" cy="38.23" r="0.87" fill="#6a7acc"/><circle cx="24.63" cy="45.41" r="0.93" fill="#a3aee6"/><circle cx="26.78" cy="35.93" r="0.78" fill="#6a7acc"/><circle cx="36.99" cy="50.04" r="0.81" fill="#7383d4"/><circle cx="25.19" cy="42.82" r="0.60" fill="#93a0e2"/><circle cx="34.77" cy="43.05" r="0.67" fill="#93a0e2"/><circle cx="32.11" cy="36.58" r="0.83" fill="#7383d4"/><circle cx="29.06" cy="32.57" r="0.81" fill="#7f8fda"/><circle cx="21.20" cy="41.98" r="0.64" fill="#a3aee6"/><circle cx="20.71" cy="36.52" r="0.90" fill="#93a0e2"/><circle cx="20.97" cy="28.00" r="0.99" fill="#93a0e2"/><circle cx="27.22" cy="51.50" r="0.66" fill="#6a7acc"/><circle cx="21.52" cy="42.16" r="0.75" fill="#7383d4"/><circle cx="21.10" cy="37.44" r="0.57" fill="#a3aee6"/><circle cx="25.88" cy="42.49" r="1.01" fill="#6a7acc"/><circle cx="39.42" cy="39.88" r="1.01" fill="#6a7acc"/><circle cx="17.69" cy="43.72" r="0.71" fill="#93a0e2"/><circle cx="20.98" cy="48.11" r="0.50" fill="#93a0e2"/><circle cx="15.82" cy="42.77" r="0.68" fill="#a3aee6"/><circle cx="19.87" cy="32.93" r="0.55" fill="#7383d4"/><circle cx="25.24" cy="56.70" r="1.08" fill="#7383d4"/><circle cx="37.91" cy="31.62" r="0.52" fill="#7f8fda"/><circle cx="31.98" cy="41.63" r="0.96" fill="#a3aee6"/><circle cx="17.33" cy="42.80" r="0.94" fill="#a3aee6"/><circle cx="18.49" cy="45.28" r="0.91" fill="#a3aee6"/><circle cx="28.82" cy="36.41" r="0.64" fill="#a3aee6"/><circle cx="18.57" cy="45.71" r="1.06" fill="#a3aee6"/><circle cx="26.56" cy="28.14" r="0.74" fill="#6a7acc"/><circle cx="30.11" cy="32.74" r="0.82" fill="#ffffff"/><circle cx="16.90" cy="43.99" r="1.00" fill="#7f8fda"/><circle cx="25.37" cy="52.44" r="0.91" fill="#93a0e2"/><circle cx="25.97" cy="47.15" r="0.81" fill="#7383d4"/><circle cx="24.83" cy="53.31" r="0.61" fill="#6a7acc"/><circle cx="21.21" cy="46.82" r="1.10" fill="#a3aee6"/><circle cx="22.14" cy="42.77" r="0.97" fill="#7f8fda"/><circle cx="32.54" cy="45.08" r="0.74" fill="#93a0e2"/><circle cx="12.32" cy="34.95" r="0.61" fill="#7383d4"/><circle cx="15.58" cy="43.13" r="0.81" fill="#a3aee6"/><circle cx="19.83" cy="30.15" r="0.59" fill="#7f8fda"/><circle cx="23.77" cy="47.58" r="0.55" fill="#7f8fda"/><circle cx="20.52" cy="49.28" r="0.98" fill="#6a7acc"/><circle cx="13.74" cy="43.67" r="0.69" fill="#a3aee6"/><circle cx="25.87" cy="46.58" r="0.66" fill="#7f8fda"/><circle cx="19.67" cy="33.11" r="0.71" fill="#7f8fda"/><circle cx="23.71" cy="37.38" r="1.03" fill="#7383d4"/><circle cx="24.07" cy="40.44" r="0.87" fill="#7f8fda"/><circle cx="36.42" cy="42.46" r="1.01" fill="#a3aee6"/><circle cx="31.88" cy="52.81" r="0.68" fill="#6a7acc"/><circle cx="25.96" cy="41.94" r="0.65" fill="#7f8fda"/><circle cx="19.55" cy="39.54" r="0.69" fill="#6a7acc"/><circle cx="17.07" cy="42.43" r="0.55" fill="#7383d4"/><circle cx="26.63" cy="31.87" r="0.74" fill="#93a0e2"/><circle cx="32.13" cy="45.83" r="0.70" fill="#6a7acc"/><circle cx="24.86" cy="48.40" r="0.83" fill="#93a0e2"/><circle cx="22.70" cy="46.42" r="0.76" fill="#7383d4"/><circle cx="34.15" cy="40.24" r="0.65" fill="#7383d4"/><circle cx="25.09" cy="33.16" r="0.83" fill="#7383d4"/><circle cx="26.98" cy="33.48" r="0.72" fill="#7383d4"/><circle cx="32.82" cy="29.45" r="0.62" fill="#a3aee6"/><circle cx="15.35" cy="40.36" r="0.91" fill="#6a7acc"/><circle cx="32.84" cy="41.50" r="0.85" fill="#6a7acc"/><circle cx="25.01" cy="42.06" r="0.63" fill="#a3aee6"/><circle cx="15.48" cy="35.79" r="0.94" fill="#93a0e2"/><circle cx="26.45" cy="44.41" r="0.69" fill="#7383d4"/><circle cx="20.39" cy="38.79" r="0.69" fill="#7383d4"/><circle cx="22.21" cy="38.00" r="0.98" fill="#93a0e2"/><circle cx="35.39" cy="54.10" r="0.64" fill="#7f8fda"/><circle cx="24.17" cy="28.65" r="0.74" fill="#93a0e2"/><circle cx="25.14" cy="32.55" r="1.06" fill="#7383d4"/><circle cx="32.95" cy="30.80" r="0.91" fill="#ffffff"/><circle cx="26.71" cy="43.68" r="0.65" fill="#6a7acc"/><circle cx="18.81" cy="47.23" r="0.67" fill="#7383d4"/><circle cx="40.60" cy="40.58" r="0.91" fill="#ffffff"/><circle cx="23.86" cy="44.10" r="0.95" fill="#7383d4"/><circle cx="22.06" cy="32.37" r="0.88" fill="#93a0e2"/><circle cx="25.65" cy="28.81" r="0.93" fill="#6a7acc"/><circle cx="40.60" cy="41.07" r="0.71" fill="#a3aee6"/><circle cx="25.20" cy="55.20" r="0.67" fill="#ffffff"/><circle cx="18.82" cy="44.31" r="0.53" fill="#ffffff"/><circle cx="35.66" cy="39.57" r="0.63" fill="#93a0e2"/><circle cx="28.78" cy="41.10" r="0.95" fill="#ffffff"/><circle cx="27.70" cy="32.65" r="0.71" fill="#7f8fda"/><circle cx="17.94" cy="44.15" r="0.94" fill="#a3aee6"/><circle cx="20.03" cy="44.60" r="0.92" fill="#ffffff"/><circle cx="18.69" cy="37.63" r="0.79" fill="#7383d4"/><circle cx="37.31" cy="33.55" r="0.66" fill="#a3aee6"/><circle cx="21.75" cy="48.51" r="0.83" fill="#7383d4"/><circle cx="38.11" cy="39.98" r="0.75" fill="#93a0e2"/><circle cx="32.14" cy="31.05" r="0.92" fill="#ffffff"/><circle cx="15.46" cy="39.66" r="0.81" fill="#7f8fda"/><circle cx="27.41" cy="41.40" r="0.68" fill="#ffffff"/><circle cx="29.99" cy="47.16" r="0.88" fill="#93a0e2"/><circle cx="11.58" cy="35.85" r="0.91" fill="#7383d4"/><circle cx="19.93" cy="29.60" r="1.00" fill="#6a7acc"/><circle cx="16.00" cy="36.73" r="0.62" fill="#6a7acc"/><circle cx="18.31" cy="45.33" r="0.92" fill="#7f8fda"/><circle cx="26.56" cy="37.41" r="0.78" fill="#6a7acc"/><circle cx="27.67" cy="47.30" r="0.51" fill="#7f8fda"/><circle cx="22.86" cy="43.10" r="0.84" fill="#ffffff"/><circle cx="12.88" cy="32.99" r="0.61" fill="#6a7acc"/><circle cx="18.37" cy="47.48" r="0.89" fill="#7f8fda"/><circle cx="19.17" cy="44.30" r="0.65" fill="#ffffff"/><circle cx="39.96" cy="42.53" r="0.96" fill="#7f8fda"/><circle cx="22.18" cy="33.82" r="0.82" fill="#ffffff"/><circle cx="23.72" cy="44.09" r="0.95" fill="#93a0e2"/><circle cx="24.38" cy="55.37" r="0.69" fill="#93a0e2"/><circle cx="32.61" cy="47.31" r="0.64" fill="#93a0e2"/><circle cx="19.61" cy="49.75" r="0.74" fill="#ffffff"/><circle cx="19.42" cy="45.81" r="0.94" fill="#6a7acc"/><circle cx="29.86" cy="46.54" r="0.91" fill="#7383d4"/><circle cx="31.23" cy="33.47" r="0.55" fill="#6a7acc"/><circle cx="18.17" cy="44.22" r="0.93" fill="#7383d4"/><circle cx="25.69" cy="53.17" r="0.76" fill="#a3aee6"/><circle cx="34.88" cy="49.98" r="0.75" fill="#ffffff"/><circle cx="27.70" cy="52.81" r="1.04" fill="#7383d4"/><circle cx="27.94" cy="30.17" r="0.91" fill="#a3aee6"/><circle cx="24.56" cy="43.37" r="0.81" fill="#93a0e2"/><circle cx="27.41" cy="41.74" r="1.08" fill="#7383d4"/><circle cx="21.70" cy="31.67" r="0.93" fill="#7f8fda"/><circle cx="25.18" cy="50.92" r="0.75" fill="#a3aee6"/><circle cx="23.92" cy="43.48" r="1.02" fill="#93a0e2"/><circle cx="24.26" cy="48.58" r="0.63" fill="#7383d4"/><circle cx="23.49" cy="35.87" r="0.72" fill="#a3aee6"/><circle cx="27.37" cy="40.44" r="0.84" fill="#7383d4"/><circle cx="21.39" cy="46.30" r="0.83" fill="#7383d4"/><circle cx="17.14" cy="42.33" r="0.56" fill="#ffffff"/><circle cx="21.81" cy="45.67" r="0.83" fill="#7383d4"/><circle cx="31.96" cy="39.37" r="0.81" fill="#ffffff"/><circle cx="18.86" cy="39.43" r="0.54" fill="#ffffff"/><circle cx="27.03" cy="41.03" r="0.93" fill="#a3aee6"/><circle cx="12.40" cy="33.40" r="0.56" fill="#a3aee6"/><circle cx="18.80" cy="40.76" r="0.84" fill="#7383d4"/><circle cx="18.61" cy="44.96" r="0.74" fill="#7f8fda"/><circle cx="15.72" cy="47.42" r="1.07" fill="#a3aee6"/><circle cx="22.78" cy="42.60" r="1.05" fill="#6a7acc"/><circle cx="11.61" cy="37.62" r="0.57" fill="#a3aee6"/><circle cx="31.38" cy="47.47" r="0.98" fill="#93a0e2"/><circle cx="24.17" cy="39.31" r="0.72" fill="#7383d4"/><circle cx="27.41" cy="47.83" r="0.99" fill="#7f8fda"/><circle cx="32.44" cy="45.54" r="0.57" fill="#a3aee6"/><circle cx="21.07" cy="42.94" r="0.77" fill="#ffffff"/><circle cx="18.95" cy="43.69" r="0.57" fill="#6a7acc"/><circle cx="37.87" cy="47.65" r="1.02" fill="#93a0e2"/><circle cx="19.08" cy="40.75" r="0.82" fill="#93a0e2"/><circle cx="25.85" cy="36.68" r="0.51" fill="#6a7acc"/><circle cx="30.73" cy="52.51" r="1.02" fill="#6a7acc"/><circle cx="19.62" cy="48.74" r="0.91" fill="#ffffff"/><circle cx="24.75" cy="38.72" r="1.01" fill="#ffffff"/><circle cx="22.33" cy="49.19" r="0.55" fill="#a3aee6"/><circle cx="24.55" cy="52.14" r="0.85" fill="#7383d4"/><circle cx="17.22" cy="51.33" r="0.78" fill="#ffffff"/><circle cx="18.21" cy="42.86" r="0.50" fill="#93a0e2"/><circle cx="21.09" cy="42.01" r="0.78" fill="#7383d4"/><circle cx="28.46" cy="36.44" r="0.59" fill="#ffffff"/><circle cx="20.98" cy="47.61" r="0.71" fill="#93a0e2"/><circle cx="18.13" cy="40.66" r="0.52" fill="#ffffff"/><circle cx="20.80" cy="44.10" r="0.96" fill="#7383d4"/><circle cx="21.31" cy="46.77" r="0.98" fill="#93a0e2"/><circle cx="39.51" cy="36.92" r="0.54" fill="#ffffff"/><circle cx="27.04" cy="49.10" r="0.65" fill="#ffffff"/><circle cx="19.02" cy="42.27" r="0.70" fill="#ffffff"/><circle cx="30.53" cy="49.70" r="0.72" fill="#a3aee6"/><circle cx="37.92" cy="35.72" r="0.58" fill="#7383d4"/><circle cx="25.00" cy="49.78" r="0.77" fill="#6a7acc"/><circle cx="24.78" cy="35.92" r="0.54" fill="#a3aee6"/><circle cx="33.06" cy="46.44" r="0.83" fill="#a3aee6"/><circle cx="29.21" cy="53.59" r="0.85" fill="#7f8fda"/><circle cx="28.45" cy="46.51" r="1.08" fill="#93a0e2"/><circle cx="17.52" cy="45.46" r="1.00" fill="#7f8fda"/><circle cx="29.37" cy="51.09" r="0.83" fill="#93a0e2"/><circle cx="26.22" cy="27.88" r="0.63" fill="#7f8fda"/><circle cx="16.35" cy="45.29" r="1.02" fill="#93a0e2"/><circle cx="25.31" cy="49.27" r="1.08" fill="#7f8fda"/><circle cx="27.74" cy="36.27" r="0.70" fill="#a3aee6"/><circle cx="25.54" cy="31.75" r="1.03" fill="#ffffff"/><circle cx="22.54" cy="48.45" r="0.70" fill="#93a0e2"/><circle cx="20.01" cy="49.85" r="0.98" fill="#ffffff"/><circle cx="31.73" cy="31.24" r="0.55" fill="#7f8fda"/><circle cx="23.69" cy="39.73" r="0.74" fill="#a3aee6"/><circle cx="24.94" cy="37.28" r="0.84" fill="#93a0e2"/><circle cx="30.92" cy="53.97" r="1.00" fill="#ffffff"/><circle cx="30.14" cy="31.19" r="0.82" fill="#7383d4"/><circle cx="13.29" cy="43.84" r="0.82" fill="#93a0e2"/><circle cx="25.54" cy="39.94" r="0.84" fill="#a3aee6"/><circle cx="35.93" cy="37.87" r="0.79" fill="#ffffff"/><circle cx="16.59" cy="44.27" r="1.09" fill="#a3aee6"/><circle cx="21.03" cy="36.68" r="1.06" fill="#a3aee6"/><circle cx="22.75" cy="35.57" r="0.89" fill="#7f8fda"/><circle cx="31.61" cy="46.81" r="0.95" fill="#6a7acc"/><circle cx="19.47" cy="39.52" r="0.54" fill="#7f8fda"/><circle cx="24.82" cy="53.01" r="1.06" fill="#93a0e2"/><circle cx="28.34" cy="37.12" r="1.01" fill="#ffffff"/><circle cx="24.81" cy="29.29" r="0.65" fill="#ffffff"/><circle cx="19.67" cy="46.23" r="0.78" fill="#6a7acc"/><circle cx="27.47" cy="51.85" r="0.94" fill="#ffffff"/><circle cx="17.26" cy="36.21" r="1.02" fill="#ffffff"/><circle cx="16.56" cy="49.99" r="1.07" fill="#6a7acc"/><circle cx="23.63" cy="46.79" r="0.66" fill="#7f8fda"/><circle cx="21.62" cy="46.63" r="0.96" fill="#93a0e2"/><circle cx="21.98" cy="52.99" r="0.63" fill="#6a7acc"/><circle cx="25.02" cy="37.66" r="1.07" fill="#93a0e2"/><circle cx="24.05" cy="29.17" r="0.50" fill="#93a0e2"/><circle cx="38.29" cy="44.03" r="1.07" fill="#a3aee6"/><circle cx="29.27" cy="30.22" r="1.01" fill="#7383d4"/><circle cx="33.92" cy="44.43" r="0.61" fill="#6a7acc"/><circle cx="25.67" cy="31.57" r="0.98" fill="#7f8fda"/><circle cx="23.32" cy="31.58" r="0.59" fill="#93a0e2"/><circle cx="30.83" cy="44.33" r="0.74" fill="#ffffff"/><circle cx="18.16" cy="48.01" r="0.74" fill="#ffffff"/><circle cx="28.16" cy="52.51" r="0.62" fill="#7383d4"/><circle cx="22.54" cy="46.52" r="0.86" fill="#a3aee6"/><circle cx="22.18" cy="42.54" r="0.53" fill="#7f8fda"/><circle cx="28.78" cy="53.28" r="1.08" fill="#6a7acc"/><circle cx="21.92" cy="49.94" r="0.82" fill="#ffffff"/><circle cx="22.66" cy="43.44" r="0.82" fill="#7f8fda"/><circle cx="19.98" cy="39.99" r="1.01" fill="#7383d4"/><circle cx="35.76" cy="37.81" r="0.51" fill="#7383d4"/><circle cx="37.21" cy="43.92" r="0.53" fill="#a3aee6"/><circle cx="21.93" cy="44.21" r="0.91" fill="#93a0e2"/><circle cx="19.98" cy="48.47" r="0.91" fill="#93a0e2"/><circle cx="24.78" cy="47.74" r="0.75" fill="#a3aee6"/><circle cx="20.36" cy="33.78" r="0.98" fill="#6a7acc"/><circle cx="27.54" cy="47.73" r="0.92" fill="#93a0e2"/><circle cx="26.88" cy="43.22" r="0.57" fill="#ffffff"/><circle cx="27.37" cy="29.59" r="0.74" fill="#7f8fda"/><circle cx="17.89" cy="48.32" r="0.90" fill="#a3aee6"/><circle cx="24.46" cy="37.92" r="0.89" fill="#ffffff"/><circle cx="13.53" cy="40.15" r="0.64" fill="#6a7acc"/><circle cx="24.38" cy="42.29" r="0.93" fill="#93a0e2"/><circle cx="24.56" cy="43.06" r="0.91" fill="#ffffff"/><circle cx="31.25" cy="54.56" r="0.63" fill="#ffffff"/><circle cx="26.36" cy="32.37" r="1.01" fill="#6a7acc"/><circle cx="24.62" cy="42.31" r="1.10" fill="#7383d4"/><circle cx="19.05" cy="39.43" r="0.62" fill="#a3aee6"/><circle cx="29.32" cy="27.28" r="0.59" fill="#7383d4"/><circle cx="15.85" cy="40.36" r="1.02" fill="#ffffff"/><circle cx="14.85" cy="49.66" r="0.57" fill="#6a7acc"/><circle cx="21.88" cy="28.60" r="0.71" fill="#93a0e2"/><circle cx="20.59" cy="48.67" r="0.67" fill="#7f8fda"/><circle cx="38.58" cy="49.28" r="0.88" fill="#6a7acc"/><circle cx="28.34" cy="27.65" r="0.58" fill="#ffffff"/><circle cx="15.30" cy="40.06" r="0.81" fill="#93a0e2"/><circle cx="21.50" cy="47.88" r="0.84" fill="#7f8fda"/><circle cx="13.84" cy="45.51" r="0.66" fill="#a3aee6"/><circle cx="27.18" cy="55.18" r="0.55" fill="#6a7acc"/><circle cx="21.22" cy="47.65" r="0.75" fill="#7383d4"/><circle cx="30.94" cy="46.93" r="0.93" fill="#7f8fda"/><circle cx="18.27" cy="47.17" r="1.08" fill="#93a0e2"/><circle cx="17.99" cy="38.22" r="0.64" fill="#93a0e2"/><circle cx="27.24" cy="45.17" r="0.85" fill="#ffffff"/><circle cx="13.77" cy="38.45" r="0.55" fill="#7f8fda"/><circle cx="21.23" cy="40.85" r="1.06" fill="#6a7acc"/><circle cx="23.01" cy="46.64" r="0.84" fill="#a3aee6"/><circle cx="23.12" cy="34.29" r="0.61" fill="#6a7acc"/><circle cx="11.75" cy="42.67" r="0.95" fill="#a3aee6"/><circle cx="19.83" cy="48.64" r="0.82" fill="#6a7acc"/><circle cx="19.87" cy="42.67" r="0.96" fill="#6a7acc"/><circle cx="20.56" cy="40.06" r="0.99" fill="#a3aee6"/><circle cx="11.09" cy="37.40" r="0.84" fill="#7383d4"/><circle cx="17.14" cy="45.01" r="0.79" fill="#93a0e2"/><circle cx="12.08" cy="45.65" r="0.58" fill="#a3aee6"/><circle cx="23.85" cy="37.39" r="0.69" fill="#7383d4"/><circle cx="32.96" cy="32.39" r="0.66" fill="#a3aee6"/><circle cx="39.34" cy="45.38" r="1.02" fill="#ffffff"/><circle cx="16.10" cy="47.66" r="0.53" fill="#ffffff"/><circle cx="33.65" cy="53.04" r="1.01" fill="#6a7acc"/><circle cx="35.26" cy="45.51" r="0.82" fill="#7383d4"/><circle cx="33.28" cy="40.86" r="0.85" fill="#ffffff"/><circle cx="32.01" cy="41.39" r="1.05" fill="#6a7acc"/><circle cx="17.53" cy="41.48" r="0.82" fill="#7f8fda"/><circle cx="26.95" cy="41.09" r="0.66" fill="#7f8fda"/><circle cx="23.02" cy="42.69" r="0.87" fill="#a3aee6"/><circle cx="25.16" cy="41.97" r="0.53" fill="#7383d4"/><circle cx="22.84" cy="41.08" r="1.02" fill="#7383d4"/><circle cx="16.95" cy="37.59" r="1.05" fill="#7f8fda"/><circle cx="19.45" cy="43.03" r="0.90" fill="#7383d4"/><circle cx="20.84" cy="33.25" r="1.00" fill="#a3aee6"/><circle cx="23.58" cy="27.31" r="0.56" fill="#a3aee6"/><circle cx="16.73" cy="38.92" r="0.75" fill="#7f8fda"/><circle cx="23.63" cy="34.34" r="0.91" fill="#6a7acc"/><circle cx="26.22" cy="27.96" r="0.53" fill="#7383d4"/><circle cx="23.53" cy="40.65" r="0.98" fill="#a3aee6"/><circle cx="22.03" cy="40.21" r="0.69" fill="#93a0e2"/><circle cx="35.88" cy="36.02" r="0.73" fill="#7383d4"/><circle cx="15.23" cy="48.71" r="0.63" fill="#93a0e2"/><circle cx="18.88" cy="42.96" r="0.94" fill="#7383d4"/><circle cx="19.40" cy="46.34" r="1.00" fill="#7f8fda"/><circle cx="14.82" cy="35.17" r="1.06" fill="#ffffff"/><circle cx="26.59" cy="50.52" r="0.95" fill="#7f8fda"/><circle cx="22.87" cy="36.65" r="0.79" fill="#7383d4"/><circle cx="30.05" cy="46.85" r="0.62" fill="#7f8fda"/><circle cx="17.53" cy="46.28" r="0.85" fill="#7383d4"/><circle cx="38.13" cy="50.30" r="0.71" fill="#7f8fda"/><circle cx="22.17" cy="30.69" r="0.71" fill="#93a0e2"/><circle cx="18.40" cy="45.81" r="0.57" fill="#7383d4"/><circle cx="35.45" cy="44.66" r="0.56" fill="#6a7acc"/><circle cx="21.04" cy="46.17" r="0.78" fill="#6a7acc"/><circle cx="19.79" cy="47.91" r="0.89" fill="#6a7acc"/><circle cx="18.70" cy="34.09" r="0.72" fill="#7f8fda"/><circle cx="20.51" cy="35.19" r="1.06" fill="#ffffff"/><circle cx="31.25" cy="52.75" r="0.68" fill="#6a7acc"/><circle cx="40.90" cy="46.64" r="0.59" fill="#7f8fda"/><circle cx="33.94" cy="42.90" r="0.65" fill="#6a7acc"/><circle cx="19.76" cy="40.75" r="1.07" fill="#93a0e2"/><circle cx="31.41" cy="50.90" r="1.05" fill="#7383d4"/><circle cx="15.15" cy="44.88" r="0.56" fill="#7f8fda"/><circle cx="11.76" cy="47.31" r="0.63" fill="#a3aee6"/><circle cx="37.87" cy="41.55" r="1.10" fill="#93a0e2"/><circle cx="17.82" cy="45.69" r="0.84" fill="#93a0e2"/><circle cx="19.88" cy="39.45" r="0.65" fill="#7383d4"/><circle cx="23.40" cy="47.97" r="0.54" fill="#7383d4"/><circle cx="28.27" cy="52.52" r="0.96" fill="#a3aee6"/><circle cx="29.57" cy="26.77" r="0.86" fill="#6a7acc"/><circle cx="33.87" cy="30.29" r="0.97" fill="#6a7acc"/><circle cx="18.23" cy="48.27" r="0.81" fill="#ffffff"/><circle cx="30.21" cy="32.70" r="0.62" fill="#7383d4"/><circle cx="34.40" cy="36.51" r="1.10" fill="#7f8fda"/><circle cx="22.69" cy="41.51" r="1.04" fill="#93a0e2"/><circle cx="24.11" cy="33.51" r="0.53" fill="#ffffff"/><circle cx="29.21" cy="41.09" r="1.08" fill="#ffffff"/><circle cx="27.08" cy="46.78" r="0.96" fill="#ffffff"/><circle cx="22.05" cy="44.70" r="1.04" fill="#93a0e2"/><circle cx="26.87" cy="33.42" r="0.60" fill="#a3aee6"/><circle cx="23.94" cy="38.91" r="0.68" fill="#a3aee6"/><circle cx="18.19" cy="40.54" r="0.54" fill="#7f8fda"/><circle cx="36.05" cy="37.62" r="0.62" fill="#7383d4"/><circle cx="19.24" cy="35.89" r="1.04" fill="#a3aee6"/><circle cx="22.01" cy="38.14" r="0.97" fill="#ffffff"/><circle cx="20.64" cy="42.38" r="0.74" fill="#6a7acc"/><circle cx="16.02" cy="45.76" r="0.90" fill="#93a0e2"/><circle cx="21.53" cy="42.42" r="0.86" fill="#6a7acc"/><circle cx="19.00" cy="34.64" r="0.86" fill="#6a7acc"/><circle cx="26.90" cy="41.36" r="0.71" fill="#7f8fda"/><circle cx="21.99" cy="35.81" r="1.10" fill="#7f8fda"/><circle cx="27.04" cy="26.21" r="0.82" fill="#ffffff"/><circle cx="39.13" cy="43.35" r="0.73" fill="#7f8fda"/><circle cx="25.62" cy="32.06" r="0.72" fill="#7383d4"/><circle cx="33.33" cy="44.15" r="0.69" fill="#6a7acc"/><circle cx="30.66" cy="51.66" r="0.61" fill="#a3aee6"/><circle cx="27.79" cy="30.26" r="0.56" fill="#7383d4"/><circle cx="31.68" cy="41.75" r="0.94" fill="#93a0e2"/><circle cx="24.79" cy="41.93" r="0.90" fill="#a3aee6"/><circle cx="27.28" cy="29.52" r="0.75" fill="#ffffff"/><circle cx="21.48" cy="46.92" r="0.72" fill="#93a0e2"/><circle cx="19.53" cy="33.86" r="0.99" fill="#a3aee6"/><circle cx="19.06" cy="45.06" r="0.91" fill="#93a0e2"/><circle cx="26.14" cy="53.99" r="0.57" fill="#ffffff"/><circle cx="16.79" cy="45.15" r="0.94" fill="#7383d4"/><circle cx="27.52" cy="38.68" r="0.50" fill="#7383d4"/></g>
<g><circle cx="73.88" cy="36.67" r="5.47" fill="#e47866"/><circle cx="76.62" cy="43.68" r="4.37" fill="#e47866"/><circle cx="73.31" cy="50.06" r="5.04" fill="#e47866"/><circle cx="68.82" cy="52.48" r="4.16" fill="#e47866"/><circle cx="61.16" cy="51.89" r="4.24" fill="#e47866"/><circle cx="54.77" cy="47.12" r="4.84" fill="#e47866"/><circle cx="53.95" cy="40.80" r="5.45" fill="#e47866"/><circle cx="53.80" cy="37.18" r="4.85" fill="#e47866"/><circle cx="57.31" cy="33.26" r="5.43" fill="#e47866"/><circle cx="63.61" cy="29.94" r="4.21" fill="#e47866"/><circle cx="70.23" cy="31.96" r="5.12" fill="#e47866"/><circle cx="69.69" cy="38.33" r="5.82" fill="#e47866"/><circle cx="65.49" cy="37.00" r="5.21" fill="#e47866"/><circle cx="63.67" cy="48.88" r="4.72" fill="#e47866"/><circle cx="59.26" cy="36.44" r="4.57" fill="#e47866"/><circle cx="62.75" cy="37.34" r="4.38" fill="#e47866"/><circle cx="66.14" cy="36.44" r="3.92" fill="#e47866"/><circle cx="70.19" cy="38.84" r="4.78" fill="#e47866"/><circle cx="62.09" cy="43.30" r="5.64" fill="#e47866"/><circle cx="68.66" cy="42.72" r="4.86" fill="#e47866"/><circle cx="60.91" cy="35.51" r="4.58" fill="#e47866"/><circle cx="69.02" cy="43.85" r="5.26" fill="#e47866"/><circle cx="64.70" cy="41.60" r="8.09" fill="#e47866"/><circle cx="62.26" cy="36.39" r="0.57" fill="#ffffff"/><circle cx="59.40" cy="35.36" r="0.84" fill="#ffffff"/><circle cx="66.40" cy="35.87" r="1.03" fill="#de6a5a"/><circle cx="73.78" cy="41.33" r="1.00" fill="#d86454"/><circle cx="68.73" cy="44.99" r="0.61" fill="#ffffff"/><circle cx="60.82" cy="33.66" r="0.74" fill="#d86454"/><circle cx="66.79" cy="34.46" r="0.71" fill="#ec8c7e"/><circle cx="54.26" cy="45.02" r="0.81" fill="#ffffff"/><circle cx="72.00" cy="42.38" r="0.70" fill="#de6a5a"/><circle cx="74.67" cy="49.36" r="1.01" fill="#e6786a"/><circle cx="69.39" cy="47.90" r="0.84" fill="#de6a5a"/><circle cx="58.47" cy="28.12" r="0.59" fill="#de6a5a"/><circle cx="70.79" cy="41.40" r="1.04" fill="#e6786a"/><circle cx="76.42" cy="39.02" r="0.73" fill="#ffffff"/><circle cx="66.43" cy="32.99" r="0.73" fill="#ffffff"/><circle cx="55.99" cy="27.81" r="0.99" fill="#f2a296"/><circle cx="52.58" cy="29.46" r="0.56" fill="#ec8c7e"/><circle cx="63.73" cy="41.40" r="0.72" fill="#e6786a"/><circle cx="61.40" cy="41.24" r="0.63" fill="#ec8c7e"/><circle cx="57.88" cy="34.99" r="0.80" fill="#ec8c7e"/><circle cx="55.76" cy="34.22" r="0.52" fill="#e6786a"/><circle cx="61.21" cy="38.07" r="1.06" fill="#ffffff"/><circle cx="67.40" cy="31.41" r="0.98" fill="#f2a296"/><circle cx="52.70" cy="47.00" r="0.82" fill="#f2a296"/><circle cx="74.33" cy="39.30" r="0.66" fill="#f2a296"/><circle cx="74.70" cy="40.42" r="0.55" fill="#ffffff"/><circle cx="65.99" cy="54.54" r="0.75" fill="#f2a296"/><circle cx="73.18" cy="39.29" r="1.08" fill="#ec8c7e"/><circle cx="68.58" cy="29.43" r="0.79" fill="#ffffff"/><circle cx="56.69" cy="53.94" r="0.87" fill="#ffffff"/><circle cx="52.43" cy="43.15" r="0.60" fill="#d86454"/><circle cx="59.33" cy="43.61" r="0.76" fill="#e6786a"/><circle cx="55.33" cy="35.46" r="0.62" fill="#ec8c7e"/><circle cx="67.42" cy="37.19" r="1.05" fill="#e6786a"/><circle cx="68.38" cy="41.32" r="0.75" fill="#de6a5a"/><circle cx="60.16" cy="31.30" r="0.83" fill="#ec8c7e"/><circle cx="63.12" cy="39.19" r="0.68" fill="#ec8c7e"/><circle cx="76.34" cy="39.41" r="1.04" fill="#d86454"/><circle cx="61.78" cy="42.45" r="1.01" fill="#e6786a"/><circle cx="70.50" cy="33.70" r="1.05" fill="#e6786a"/><circle cx="64.83" cy="32.77" r="1.01" fill="#de6a5a"/><circle cx="63.10" cy="35.17" r="0.71" fill="#de6a5a"/><circle cx="74.87" cy="44.64" r="0.67" fill="#ffffff"/><circle cx="62.49" cy="37.97" r="0.60" fill="#d86454"/><circle cx="64.09" cy="49.35" r="0.94" fill="#de6a5a"/><circle cx="69.80" cy="39.21" r="0.78" fill="#e6786a"/><circle cx="77.74" cy="47.41" r="1.02" fill="#e6786a"/><circle cx="66.22" cy="27.96" r="0.96" fill="#d86454"/><circle cx="56.84" cy="40.94" r="0.73" fill="#ec8c7e"/><circle cx="72.56" cy="55.13" r="0.76" fill="#de6a5a"/><circle cx="57.54" cy="40.58" r="1.05" fill="#ffffff"/><circle cx="68.76" cy="47.92" r="0.60" fill="#d86454"/><circle cx="58.79" cy="31.48" r="0.93" fill="#de6a5a"/><circle cx="61.49" cy="34.04" r="0.57" fill="#de6a5a"/><circle cx="61.70" cy="36.59" r="0.98" fill="#de6a5a"/><circle cx="58.08" cy="37.32" r="0.99" fill="#ffffff"/><circle cx="60.60" cy="31.18" r="0.56" fill="#de6a5a"/><circle cx="54.35" cy="39.62" r="0.74" fill="#e6786a"/><circle cx="53.99" cy="36.00" r="0.88" fill="#f2a296"/><circle cx="63.49" cy="51.05" r="0.79" fill="#e6786a"/><circle cx="69.10" cy="47.90" r="0.61" fill="#e6786a"/><circle cx="67.86" cy="39.27" r="0.81" fill="#e6786a"/><circle cx="65.74" cy="36.85" r="0.83" fill="#e6786a"/><circle cx="68.64" cy="49.99" r="0.98" fill="#f2a296"/><circle cx="71.35" cy="39.45" r="0.87" fill="#f2a296"/><circle cx="58.88" cy="36.72" r="0.63" fill="#ffffff"/><circle cx="57.23" cy="42.62" r="0.63" fill="#d86454"/><circle cx="62.16" cy="38.10" r="1.09" fill="#d86454"/><circle cx="72.83" cy="42.10" r="0.91" fill="#ec8c7e"/><circle cx="72.63" cy="44.64" r="0.55" fill="#e6786a"/><circle cx="55.50" cy="38.54" r="0.80" fill="#de6a5a"/><circle cx="67.86" cy="42.51" r="0.55" fill="#e6786a"/><circle cx="79.86" cy="46.49" r="0.63" fill="#f2a296"/><circle cx="61.73" cy="38.07" r="0.84" fill="#f2a296"/><circle cx="58.69" cy="38.06" r="1.05" fill="#e6786a"/><circle cx="76.44" cy="42.80" r="0.58" fill="#ffffff"/><circle cx="64.08" cy="47.64" r="1.07" fill="#f2a296"/><circle cx="59.19" cy="38.41" r="1.01" fill="#ec8c7e"/><circle cx="72.99" cy="38.43" r="0.60" fill="#d86454"/><circle cx="58.84" cy="32.43" r="1.00" fill="#f2a296"/><circle cx="69.78" cy="34.94" r="0.82" fill="#d86454"/><circle cx="70.92" cy="37.59" r="0.50" fill="#ec8c7e"/><circle cx="57.71" cy="33.94" r="0.60" fill="#f2a296"/><circle cx="77.94" cy="41.12" r="0.70" fill="#ffffff"/><circle cx="67.64" cy="48.71" r="0.63" fill="#de6a5a"/><circle cx="74.41" cy="40.63" r="1.06" fill="#d86454"/><circle cx="64.46" cy="32.22" r="0.89" fill="#e6786a"/><circle cx="52.53" cy="46.74" r="0.93" fill="#e6786a"/><circle cx="62.49" cy="43.48" r="0.87" fill="#de6a5a"/><circle cx="66.82" cy="38.34" r="0.67" fill="#ffffff"/><circle cx="65.52" cy="40.10" r="0.56" fill="#e6786a"/><circle cx="50.76" cy="36.90" r="0.89" fill="#ffffff"/><circle cx="63.19" cy="44.66" r="0.92" fill="#e6786a"/><circle cx="67.35" cy="31.93" r="0.51" fill="#f2a296"/><circle cx="74.25" cy="40.63" r="0.80" fill="#ffffff"/><circle cx="65.21" cy="34.21" r="0.61" fill="#d86454"/><circle cx="68.73" cy="55.55" r="0.91" fill="#ffffff"/><circle cx="64.28" cy="36.10" r="0.71" fill="#d86454"/><circle cx="59.67" cy="41.92" r="0.56" fill="#de6a5a"/><circle cx="55.66" cy="35.85" r="0.87" fill="#ec8c7e"/><circle cx="55.67" cy="41.65" r="0.90" fill="#ffffff"/><circle cx="62.50" cy="28.16" r="0.79" fill="#de6a5a"/><circle cx="73.54" cy="46.47" r="0.85" fill="#f2a296"/><circle cx="77.20" cy="43.93" r="1.06" fill="#de6a5a"/><circle cx="65.88" cy="42.73" r="0.72" fill="#de6a5a"/><circle cx="55.52" cy="35.16" r="0.57" fill="#ffffff"/><circle cx="55.75" cy="35.93" r="1.06" fill="#d86454"/><circle cx="74.34" cy="39.46" r="0.96" fill="#de6a5a"/><circle cx="70.06" cy="44.79" r="1.02" fill="#ec8c7e"/><circle cx="79.19" cy="45.53" r="0.64" fill="#ec8c7e"/><circle cx="69.46" cy="37.44" r="0.78" fill="#e6786a"/><circle cx="58.65" cy="41.90" r="0.79" fill="#d86454"/><circle cx="57.91" cy="45.12" r="0.57" fill="#e6786a"/><circle cx="72.91" cy="53.99" r="1.06" fill="#de6a5a"/><circle cx="73.95" cy="40.25" r="0.95" fill="#d86454"/><circle cx="57.00" cy="39.03" r="0.57" fill="#d86454"/><circle cx="60.98" cy="48.45" r="0.81" fill="#de6a5a"/><circle cx="70.64" cy="33.65" r="0.78" fill="#ec8c7e"/><circle cx="59.68" cy="34.54" r="0.88" fill="#d86454"/><circle cx="69.93" cy="56.31" r="0.54" fill="#ec8c7e"/><circle cx="71.27" cy="40.94" r="0.81" fill="#de6a5a"/><circle cx="58.69" cy="32.34" r="0.89" fill="#e6786a"/><circle cx="68.75" cy="39.33" r="0.96" fill="#de6a5a"/><circle cx="65.07" cy="40.79" r="0.73" fill="#de6a5a"/><circle cx="69.90" cy="26.39" r="0.89" fill="#ec8c7e"/><circle cx="61.98" cy="37.85" r="0.78" fill="#f2a296"/><circle cx="68.12" cy="51.77" r="0.76" fill="#ec8c7e"/><circle cx="62.62" cy="49.56" r="0.85" fill="#ec8c7e"/><circle cx="69.32" cy="52.88" r="0.72" fill="#e6786a"/><circle cx="63.13" cy="40.88" r="1.01" fill="#f2a296"/><circle cx="61.64" cy="35.24" r="0.62" fill="#de6a5a"/><circle cx="64.28" cy="42.26" r="0.66" fill="#d86454"/><circle cx="72.72" cy="32.46" r="0.90" fill="#d86454"/><circle cx="68.75" cy="34.31" r="1.00" fill="#de6a5a"/><circle cx="77.15" cy="41.46" r="0.77" fill="#f2a296"/><circle cx="66.85" cy="37.80" r="0.64" fill="#ec8c7e"/><circle cx="68.35" cy="55.60" r="1.10" fill="#de6a5a"/><circle cx="57.06" cy="49.59" r="0.60" fill="#e6786a"/><circle cx="65.78" cy="52.57" r="0.97" fill="#d86454"/><circle cx="61.28" cy="29.91" r="1.07" fill="#de6a5a"/><circle cx="62.59" cy="32.18" r="0.53" fill="#e6786a"/><circle cx="73.37" cy="51.54" r="0.67" fill="#e6786a"/><circle cx="57.30" cy="44.43" r="0.73" fill="#f2a296"/><circle cx="65.02" cy="26.19" r="0.85" fill="#f2a296"/><circle cx="59.43" cy="40.80" r="0.91" fill="#f2a296"/><circle cx="75.09" cy="34.34" r="0.76" fill="#de6a5a"/><circle cx="66.10" cy="40.29" r="1.02" fill="#de6a5a"/><circle cx="54.77" cy="30.05" r="0.65" fill="#f2a296"/><circle cx="72.88" cy="48.71" r="0.78" fill="#ffffff"/><circle cx="66.22" cy="49.09" r="0.79" fill="#d86454"/><circle cx="69.43" cy="37.82" r="0.78" fill="#de6a5a"/><circle cx="70.88" cy="29.13" r="0.55" fill="#d86454"/><circle cx="50.03" cy="39.73" r="1.04" fill="#de6a5a"/><circle cx="50.49" cy="40.66" r="0.90" fill="#d86454"/><circle cx="71.93" cy="40.65" r="1.03" fill="#de6a5a"/><circle cx="70.58" cy="52.88" r="0.87" fill="#d86454"/><circle cx="64.54" cy="37.45" r="0.85" fill="#ec8c7e"/><circle cx="66.33" cy="43.26" r="0.61" fill="#ec8c7e"/><circle cx="61.26" cy="33.37" r="0.74" fill="#de6a5a"/><circle cx="72.99" cy="51.48" r="0.89" fill="#f2a296"/><circle cx="60.95" cy="39.66" r="0.72" fill="#de6a5a"/><circle cx="62.42" cy="28.33" r="0.86" fill="#e6786a"/><circle cx="72.38" cy="40.50" r="1.04" fill="#de6a5a"/><circle cx="63.90" cy="41.66" r="0.52" fill="#ec8c7e"/><circle cx="74.86" cy="35.06" r="0.50" fill="#de6a5a"/><circle cx="56.27" cy="42.00" r="0.51" fill="#de6a5a"/><circle cx="70.09" cy="53.20" r="0.59" fill="#de6a5a"/><circle cx="73.42" cy="33.54" r="0.75" fill="#ec8c7e"/><circle cx="64.85" cy="35.24" r="0.66" fill="#e6786a"/><circle cx="61.55" cy="36.00" r="1.08" fill="#ffffff"/><circle cx="62.26" cy="47.77" r="0.80" fill="#ec8c7e"/><circle cx="62.97" cy="56.34" r="0.98" fill="#f2a296"/><circle cx="62.88" cy="49.14" r="0.93" fill="#ec8c7e"/><circle cx="53.22" cy="38.60" r="0.56" fill="#d86454"/><circle cx="65.50" cy="48.13" r="0.98" fill="#d86454"/><circle cx="50.08" cy="33.58" r="0.84" fill="#d86454"/><circle cx="65.96" cy="52.28" r="0.56" fill="#de6a5a"/><circle cx="56.40" cy="36.75" r="0.75" fill="#f2a296"/><circle cx="69.53" cy="40.01" r="0.93" fill="#de6a5a"/><circle cx="51.18" cy="36.97" r="0.91" fill="#ffffff"/><circle cx="69.52" cy="45.01" r="1.10" fill="#ec8c7e"/><circle cx="58.39" cy="34.43" r="0.96" fill="#d86454"/><circle cx="62.74" cy="32.49" r="0.74" fill="#ec8c7e"/><circle cx="65.94" cy="35.37" r="0.69" fill="#f2a296"/><circle cx="66.99" cy="31.02" r="0.61" fill="#de6a5a"/><circle cx="63.54" cy="32.96" r="0.69" fill="#de6a5a"/><circle cx="65.29" cy="32.22" r="0.93" fill="#ffffff"/><circle cx="65.67" cy="37.62" r="0.54" fill="#ffffff"/><circle cx="64.03" cy="37.60" r="0.81" fill="#ffffff"/><circle cx="57.71" cy="39.81" r="0.75" fill="#ffffff"/><circle cx="60.30" cy="46.19" r="1.06" fill="#ffffff"/><circle cx="73.41" cy="44.30" r="0.88" fill="#e6786a"/><circle cx="61.28" cy="37.65" r="0.58" fill="#f2a296"/><circle cx="58.85" cy="35.52" r="0.54" fill="#ffffff"/><circle cx="69.55" cy="39.80" r="0.59" fill="#e6786a"/><circle cx="72.46" cy="46.80" r="0.52" fill="#e6786a"/><circle cx="70.36" cy="45.37" r="0.69" fill="#e6786a"/><circle cx="67.34" cy="36.66" r="0.60" fill="#de6a5a"/><circle cx="62.80" cy="45.65" r="0.77" fill="#de6a5a"/><circle cx="72.31" cy="40.76" r="1.06" fill="#ffffff"/><circle cx="59.59" cy="38.02" r="0.99" fill="#f2a296"/><circle cx="57.37" cy="37.94" r="0.95" fill="#de6a5a"/><circle cx="66.38" cy="40.24" r="0.98" fill="#ec8c7e"/><circle cx="73.74" cy="41.07" r="0.59" fill="#ffffff"/><circle cx="67.63" cy="44.86" r="1.01" fill="#ffffff"/><circle cx="70.55" cy="47.55" r="1.02" fill="#e6786a"/><circle cx="58.81" cy="48.20" r="0.86" fill="#ec8c7e"/><circle cx="79.43" cy="42.81" r="0.99" fill="#ec8c7e"/><circle cx="60.65" cy="32.17" r="0.71" fill="#f2a296"/><circle cx="64.23" cy="42.81" r="1.05" fill="#e6786a"/><circle cx="63.86" cy="44.01" r="0.95" fill="#f2a296"/><circle cx="55.67" cy="33.01" r="1.09" fill="#e6786a"/><circle cx="54.92" cy="41.98" r="0.80" fill="#ec8c7e"/><circle cx="66.20" cy="35.72" r="0.64" fill="#de6a5a"/><circle cx="60.25" cy="48.98" r="1.04" fill="#ec8c7e"/><circle cx="57.85" cy="42.76" r="1.01" fill="#de6a5a"/><circle cx="63.33" cy="42.29" r="1.09" fill="#f2a296"/><circle cx="66.21" cy="32.72" r="1.02" fill="#ffffff"/><circle cx="53.45" cy="36.99" r="0.56" fill="#e6786a"/><circle cx="74.57" cy="28.22" r="0.64" fill="#e6786a"/><circle cx="70.17" cy="47.29" r="0.62" fill="#e6786a"/><circle cx="57.35" cy="34.13" r="1.07" fill="#d86454"/><circle cx="60.61" cy="26.37" r="0.78" fill="#f2a296"/><circle cx="69.30" cy="34.53" r="0.84" fill="#ec8c7e"/><circle cx="64.87" cy="49.62" r="0.54" fill="#f2a296"/><circle cx="54.90" cy="38.97" r="0.64" fill="#ffffff"/><circle cx="51.44" cy="43.74" r="0.92" fill="#ffffff"/><circle cx="66.75" cy="49.44" r="0.85" fill="#d86454"/><circle cx="65.66" cy="49.17" r="0.61" fill="#e6786a"/><circle cx="65.50" cy="25.97" r="0.56" fill="#ec8c7e"/><circle cx="69.51" cy="40.19" r="0.76" fill="#ffffff"/><circle cx="64.38" cy="35.71" r="0.62" fill="#d86454"/><circle cx="67.16" cy="29.75" r="0.79" fill="#de6a5a"/><circle cx="70.44" cy="36.74" r="1.07" fill="#f2a296"/><circle cx="72.03" cy="37.50" r="1.05" fill="#e6786a"/><circle cx="71.56" cy="37.54" r="0.72" fill="#f2a296"/><circle cx="76.83" cy="44.44" r="1.01" fill="#f2a296"/><circle cx="72.24" cy="36.16" r="0.78" fill="#f2a296"/><circle cx="59.40" cy="51.19" r="0.76" fill="#ffffff"/><circle cx="69.45" cy="38.96" r="0.86" fill="#ec8c7e"/><circle cx="50.21" cy="39.14" r="0.53" fill="#d86454"/><circle cx="75.87" cy="30.89" r="0.95" fill="#de6a5a"/><circle cx="51.13" cy="36.52" r="0.64" fill="#de6a5a"/><circle cx="56.88" cy="45.67" r="0.93" fill="#f2a296"/><circle cx="68.80" cy="48.36" r="0.63" fill="#ffffff"/><circle cx="64.81" cy="48.30" r="0.77" fill="#e6786a"/><circle cx="77.12" cy="45.93" r="0.91" fill="#f2a296"/><circle cx="60.28" cy="53.76" r="1.10" fill="#de6a5a"/><circle cx="65.94" cy="34.75" r="0.64" fill="#de6a5a"/><circle cx="61.39" cy="51.75" r="0.60" fill="#ec8c7e"/><circle cx="51.67" cy="41.62" r="0.69" fill="#f2a296"/><circle cx="65.28" cy="39.30" r="0.96" fill="#d86454"/><circle cx="55.66" cy="43.85" r="0.81" fill="#d86454"/><circle cx="61.11" cy="36.27" r="0.64" fill="#de6a5a"/><circle cx="67.66" cy="31.91" r="0.56" fill="#d86454"/><circle cx="61.28" cy="52.88" r="0.89" fill="#d86454"/><circle cx="61.93" cy="33.38" r="0.52" fill="#e6786a"/><circle cx="60.25" cy="40.58" r="0.74" fill="#ffffff"/><circle cx="62.07" cy="47.37" r="0.90" fill="#ffffff"/><circle cx="76.21" cy="35.90" r="0.91" fill="#ec8c7e"/><circle cx="66.69" cy="32.45" r="0.63" fill="#ffffff"/><circle cx="51.33" cy="46.01" r="0.67" fill="#de6a5a"/><circle cx="64.73" cy="49.21" r="0.87" fill="#e6786a"/><circle cx="60.23" cy="38.33" r="1.04" fill="#f2a296"/><circle cx="63.88" cy="36.48" r="0.88" fill="#ec8c7e"/><circle cx="64.68" cy="39.08" r="0.87" fill="#f2a296"/><circle cx="63.00" cy="33.86" r="0.72" fill="#e6786a"/><circle cx="58.16" cy="34.83" r="0.67" fill="#ec8c7e"/><circle cx="65.04" cy="40.96" r="0.55" fill="#e6786a"/><circle cx="59.30" cy="42.90" r="0.69" fill="#de6a5a"/><circle cx="56.54" cy="38.22" r="1.08" fill="#ffffff"/><circle cx="72.25" cy="51.30" r="0.96" fill="#e6786a"/><circle cx="59.15" cy="52.77" r="0.80" fill="#ffffff"/><circle cx="61.20" cy="39.28" r="0.95" fill="#ffffff"/><circle cx="70.86" cy="44.96" r="0.53" fill="#e6786a"/><circle cx="71.54" cy="53.16" r="0.88" fill="#ffffff"/><circle cx="67.27" cy="52.85" r="0.87" fill="#de6a5a"/><circle cx="71.59" cy="42.86" r="1.09" fill="#e6786a"/><circle cx="62.05" cy="52.04" r="0.64" fill="#d86454"/><circle cx="79.28" cy="36.49" r="0.60" fill="#de6a5a"/><circle cx="62.23" cy="48.09" r="0.54" fill="#ffffff"/><circle cx="62.98" cy="33.39" r="0.83" fill="#d86454"/><circle cx="66.47" cy="43.68" r="0.86" fill="#e6786a"/><circle cx="67.93" cy="28.32" r="1.02" fill="#de6a5a"/><circle cx="66.24" cy="38.43" r="0.73" fill="#ffffff"/><circle cx="60.61" cy="36.25" r="0.81" fill="#ffffff"/><circle cx="76.05" cy="33.46" r="0.90" fill="#ffffff"/><circle cx="58.14" cy="46.98" r="1.08" fill="#ec8c7e"/><circle cx="66.79" cy="41.05" r="1.04" fill="#ec8c7e"/><circle cx="53.22" cy="46.85" r="0.97" fill="#ffffff"/><circle cx="79.21" cy="36.36" r="0.89" fill="#ec8c7e"/><circle cx="69.85" cy="43.22" r="0.84" fill="#de6a5a"/><circle cx="67.24" cy="39.05" r="0.80" fill="#e6786a"/><circle cx="79.28" cy="47.30" r="0.75" fill="#f2a296"/><circle cx="60.84" cy="28.27" r="0.55" fill="#e6786a"/><circle cx="63.25" cy="53.47" r="0.86" fill="#e6786a"/><circle cx="59.25" cy="50.57" r="0.55" fill="#ec8c7e"/><circle cx="58.26" cy="35.09" r="1.00" fill="#d86454"/><circle cx="64.50" cy="33.85" r="0.97" fill="#ec8c7e"/><circle cx="59.40" cy="37.81" r="0.76" fill="#f2a296"/><circle cx="60.21" cy="38.30" r="0.77" fill="#ec8c7e"/><circle cx="65.46" cy="35.37" r="1.07" fill="#d86454"/><circle cx="76.61" cy="41.72" r="0.68" fill="#ffffff"/><circle cx="72.85" cy="42.41" r="1.06" fill="#ffffff"/><circle cx="66.95" cy="35.14" r="0.66" fill="#de6a5a"/><circle cx="69.26" cy="37.11" r="0.55" fill="#e6786a"/><circle cx="77.48" cy="47.57" r="0.55" fill="#ffffff"/><circle cx="60.97" cy="33.92" r="1.07" fill="#de6a5a"/><circle cx="61.65" cy="33.80" r="1.00" fill="#de6a5a"/><circle cx="55.98" cy="35.48" r="0.78" fill="#de6a5a"/><circle cx="53.79" cy="42.63" r="0.60" fill="#de6a5a"/><circle cx="66.83" cy="48.12" r="0.88" fill="#e6786a"/><circle cx="66.27" cy="34.93" r="0.56" fill="#de6a5a"/><circle cx="64.20" cy="33.34" r="0.73" fill="#ffffff"/><circle cx="56.15" cy="36.63" r="1.05" fill="#de6a5a"/><circle cx="52.81" cy="46.86" r="0.74" fill="#ec8c7e"/><circle cx="59.42" cy="44.37" r="0.80" fill="#d86454"/><circle cx="55.46" cy="32.49" r="0.96" fill="#d86454"/><circle cx="60.25" cy="46.72" r="0.72" fill="#e6786a"/><circle cx="70.64" cy="52.27" r="0.67" fill="#f2a296"/><circle cx="66.89" cy="34.91" r="0.96" fill="#ec8c7e"/><circle cx="70.83" cy="34.00" r="0.77" fill="#ec8c7e"/><circle cx="63.54" cy="35.76" r="0.92" fill="#ffffff"/><circle cx="66.65" cy="36.06" r="1.07" fill="#f2a296"/><circle cx="67.23" cy="40.60" r="0.61" fill="#f2a296"/><circle cx="66.01" cy="29.47" r="0.54" fill="#f2a296"/><circle cx="74.31" cy="38.32" r="0.80" fill="#f2a296"/><circle cx="68.87" cy="50.10" r="0.91" fill="#e6786a"/><circle cx="72.84" cy="52.28" r="0.90" fill="#ffffff"/><circle cx="61.29" cy="34.53" r="0.69" fill="#ec8c7e"/><circle cx="60.42" cy="38.83" r="1.04" fill="#ec8c7e"/><circle cx="59.33" cy="42.72" r="0.62" fill="#f2a296"/><circle cx="57.01" cy="45.62" r="1.06" fill="#de6a5a"/><circle cx="52.59" cy="30.45" r="0.90" fill="#ec8c7e"/><circle cx="61.26" cy="39.87" r="0.86" fill="#e6786a"/><circle cx="67.84" cy="41.23" r="1.04" fill="#ffffff"/><circle cx="67.80" cy="38.68" r="0.51" fill="#ffffff"/><circle cx="80.29" cy="36.42" r="0.82" fill="#f2a296"/><circle cx="68.26" cy="41.42" r="0.58" fill="#f2a296"/><circle cx="69.61" cy="40.90" r="0.59" fill="#de6a5a"/><circle cx="65.11" cy="50.17" r="0.69" fill="#de6a5a"/><circle cx="57.65" cy="41.06" r="0.78" fill="#d86454"/><circle cx="73.44" cy="33.57" r="0.64" fill="#de6a5a"/><circle cx="74.18" cy="42.50" r="0.96" fill="#de6a5a"/><circle cx="59.88" cy="35.55" r="0.96" fill="#d86454"/><circle cx="59.41" cy="36.31" r="0.77" fill="#e6786a"/><circle cx="66.20" cy="37.34" r="0.62" fill="#de6a5a"/><circle cx="60.51" cy="35.08" r="0.70" fill="#e6786a"/><circle cx="70.39" cy="51.58" r="0.97" fill="#f2a296"/><circle cx="59.33" cy="38.55" r="0.76" fill="#ec8c7e"/><circle cx="67.95" cy="49.40" r="0.85" fill="#de6a5a"/><circle cx="66.16" cy="40.64" r="0.95" fill="#ffffff"/><circle cx="61.63" cy="32.73" r="0.70" fill="#e6786a"/><circle cx="64.63" cy="51.93" r="0.81" fill="#de6a5a"/><circle cx="55.11" cy="49.70" r="0.90" fill="#ec8c7e"/><circle cx="73.56" cy="54.11" r="0.63" fill="#ffffff"/><circle cx="68.64" cy="39.31" r="0.91" fill="#f2a296"/><circle cx="67.89" cy="41.37" r="0.70" fill="#ffffff"/><circle cx="73.16" cy="46.17" r="0.54" fill="#d86454"/><circle cx="77.26" cy="51.93" r="1.05" fill="#ec8c7e"/><circle cx="65.84" cy="55.20" r="0.62" fill="#ec8c7e"/><circle cx="73.15" cy="41.74" r="0.68" fill="#d86454"/><circle cx="63.89" cy="39.10" r="0.54" fill="#de6a5a"/><circle cx="66.88" cy="52.17" r="0.61" fill="#ffffff"/><circle cx="77.75" cy="39.25" r="0.57" fill="#e6786a"/><circle cx="70.41" cy="34.79" r="0.66" fill="#ffffff"/><circle cx="53.61" cy="43.87" r="1.00" fill="#ffffff"/><circle cx="58.50" cy="46.60" r="0.58" fill="#e6786a"/><circle cx="69.41" cy="33.67" r="1.04" fill="#ffffff"/><circle cx="72.65" cy="40.08" r="0.98" fill="#e6786a"/><circle cx="73.14" cy="49.75" r="1.02" fill="#e6786a"/><circle cx="77.49" cy="45.87" r="1.01" fill="#ec8c7e"/><circle cx="73.04" cy="35.60" r="0.97" fill="#ffffff"/><circle cx="58.47" cy="42.53" r="0.79" fill="#de6a5a"/><circle cx="72.75" cy="34.52" r="0.85" fill="#f2a296"/><circle cx="50.41" cy="34.02" r="0.80" fill="#de6a5a"/><circle cx="59.79" cy="50.71" r="0.82" fill="#e6786a"/><circle cx="61.03" cy="36.70" r="0.97" fill="#d86454"/><circle cx="62.31" cy="37.02" r="0.83" fill="#f2a296"/><circle cx="69.29" cy="42.29" r="0.52" fill="#ffffff"/><circle cx="51.88" cy="33.86" r="0.94" fill="#de6a5a"/><circle cx="68.52" cy="33.86" r="0.95" fill="#e6786a"/><circle cx="61.60" cy="38.03" r="0.89" fill="#d86454"/><circle cx="68.88" cy="47.59" r="0.66" fill="#e6786a"/><circle cx="74.83" cy="46.44" r="1.08" fill="#d86454"/><circle cx="69.45" cy="33.70" r="0.98" fill="#ec8c7e"/><circle cx="51.69" cy="40.49" r="0.98" fill="#ffffff"/><circle cx="51.32" cy="47.39" r="1.04" fill="#ec8c7e"/><circle cx="75.48" cy="38.95" r="1.02" fill="#d86454"/><circle cx="58.75" cy="38.50" r="1.08" fill="#de6a5a"/><circle cx="53.99" cy="43.83" r="1.05" fill="#e6786a"/><circle cx="51.22" cy="41.77" r="0.76" fill="#e6786a"/><circle cx="57.21" cy="45.44" r="0.57" fill="#f2a296"/><circle cx="53.57" cy="34.76" r="1.09" fill="#f2a296"/><circle cx="71.72" cy="38.41" r="0.94" fill="#e6786a"/><circle cx="69.02" cy="49.67" r="0.52" fill="#ffffff"/><circle cx="65.21" cy="42.86" r="0.84" fill="#ffffff"/><circle cx="53.10" cy="39.64" r="0.64" fill="#de6a5a"/><circle cx="62.96" cy="37.12" r="0.52" fill="#e6786a"/><circle cx="64.71" cy="31.40" r="0.81" fill="#e6786a"/><circle cx="69.08" cy="55.72" r="1.05" fill="#d86454"/><circle cx="75.67" cy="35.40" r="0.64" fill="#d86454"/><circle cx="63.84" cy="53.13" r="0.88" fill="#d86454"/><circle cx="67.33" cy="32.46" r="0.78" fill="#ec8c7e"/><circle cx="55.33" cy="42.83" r="0.90" fill="#e6786a"/><circle cx="59.85" cy="40.65" r="1.01" fill="#f2a296"/><circle cx="72.35" cy="38.23" r="1.09" fill="#e6786a"/><circle cx="63.92" cy="34.55" r="0.78" fill="#ec8c7e"/><circle cx="53.37" cy="39.25" r="0.61" fill="#e6786a"/><circle cx="69.70" cy="38.55" r="1.05" fill="#ec8c7e"/><circle cx="62.94" cy="37.64" r="0.56" fill="#de6a5a"/><circle cx="63.32" cy="36.56" r="0.63" fill="#f2a296"/><circle cx="63.27" cy="39.76" r="0.84" fill="#f2a296"/><circle cx="56.92" cy="35.08" r="0.72" fill="#ffffff"/><circle cx="65.59" cy="56.10" r="0.70" fill="#ffffff"/><circle cx="69.30" cy="30.16" r="0.75" fill="#de6a5a"/><circle cx="69.76" cy="38.74" r="0.62" fill="#ffffff"/><circle cx="66.81" cy="40.02" r="0.60" fill="#de6a5a"/><circle cx="56.33" cy="43.90" r="0.99" fill="#ec8c7e"/><circle cx="79.00" cy="44.11" r="0.91" fill="#ec8c7e"/><circle cx="73.43" cy="45.05" r="0.82" fill="#de6a5a"/><circle cx="70.29" cy="46.15" r="0.99" fill="#ec8c7e"/><circle cx="68.51" cy="39.17" r="0.90" fill="#de6a5a"/><circle cx="69.13" cy="36.22" r="0.79" fill="#ffffff"/><circle cx="70.94" cy="44.65" r="0.91" fill="#ec8c7e"/><circle cx="75.11" cy="38.01" r="1.00" fill="#f2a296"/><circle cx="63.75" cy="45.84" r="0.58" fill="#f2a296"/><circle cx="64.62" cy="38.53" r="0.99" fill="#de6a5a"/><circle cx="62.32" cy="34.91" r="0.52" fill="#f2a296"/><circle cx="72.69" cy="40.18" r="0.98" fill="#ec8c7e"/><circle cx="75.69" cy="54.90" r="0.51" fill="#f2a296"/><circle cx="71.58" cy="40.31" r="0.77" fill="#ffffff"/><circle cx="55.46" cy="35.23" r="0.70" fill="#ffffff"/><circle cx="76.54" cy="39.56" r="0.51" fill="#e6786a"/><circle cx="72.71" cy="53.76" r="0.67" fill="#ffffff"/><circle cx="77.35" cy="45.76" r="0.86" fill="#d86454"/><circle cx="56.86" cy="33.11" r="0.94" fill="#e6786a"/><circle cx="51.82" cy="42.37" r="0.83" fill="#ffffff"/><circle cx="64.32" cy="39.55" r="0.92" fill="#d86454"/><circle cx="55.81" cy="39.82" r="1.06" fill="#de6a5a"/><circle cx="52.84" cy="42.01" r="0.65" fill="#f2a296"/><circle cx="64.00" cy="43.51" r="0.63" fill="#e6786a"/><circle cx="65.77" cy="39.29" r="0.52" fill="#d86454"/><circle cx="61.99" cy="45.01" r="0.80" fill="#ec8c7e"/><circle cx="71.26" cy="42.86" r="0.76" fill="#de6a5a"/><circle cx="50.78" cy="47.83" r="0.89" fill="#de6a5a"/><circle cx="50.69" cy="41.28" r="0.66" fill="#e6786a"/><circle cx="66.56" cy="34.75" r="0.86" fill="#d86454"/><circle cx="51.64" cy="46.08" r="0.65" fill="#ec8c7e"/><circle cx="57.49" cy="50.64" r="1.04" fill="#ffffff"/><circle cx="65.58" cy="36.53" r="0.97" fill="#e6786a"/><circle cx="65.14" cy="45.52" r="0.93" fill="#ffffff"/><circle cx="64.33" cy="50.51" r="0.60" fill="#d86454"/><circle cx="59.50" cy="55.54" r="0.73" fill="#d86454"/><circle cx="64.59" cy="54.37" r="0.60" fill="#de6a5a"/><circle cx="57.81" cy="42.26" r="0.79" fill="#f2a296"/><circle cx="73.51" cy="52.98" r="0.77" fill="#de6a5a"/><circle cx="57.33" cy="33.83" r="1.01" fill="#de6a5a"/><circle cx="61.01" cy="27.15" r="0.60" fill="#f2a296"/><circle cx="66.41" cy="41.75" r="1.09" fill="#e6786a"/><circle cx="53.96" cy="45.04" r="0.99" fill="#f2a296"/><circle cx="72.26" cy="53.84" r="0.62" fill="#e6786a"/><circle cx="56.73" cy="42.43" r="0.66" fill="#e6786a"/><circle cx="54.76" cy="50.24" r="0.63" fill="#d86454"/><circle cx="54.96" cy="32.48" r="0.95" fill="#e6786a"/><circle cx="78.07" cy="40.34" r="0.92" fill="#d86454"/><circle cx="76.82" cy="36.59" r="0.69" fill="#e6786a"/><circle cx="60.47" cy="40.11" r="0.63" fill="#d86454"/><circle cx="68.53" cy="51.26" r="0.95" fill="#f2a296"/><circle cx="64.02" cy="45.94" r="0.66" fill="#d86454"/><circle cx="67.85" cy="46.06" r="0.90" fill="#de6a5a"/><circle cx="71.36" cy="44.20" r="1.10" fill="#de6a5a"/><circle cx="67.00" cy="35.46" r="1.04" fill="#ec8c7e"/><circle cx="64.31" cy="48.79" r="0.79" fill="#ffffff"/><circle cx="56.92" cy="43.86" r="1.02" fill="#de6a5a"/><circle cx="62.57" cy="44.26" r="0.59" fill="#de6a5a"/><circle cx="62.74" cy="32.86" r="0.73" fill="#e6786a"/><circle cx="67.36" cy="31.60" r="0.58" fill="#e6786a"/><circle cx="70.15" cy="44.46" r="0.68" fill="#ec8c7e"/><circle cx="69.33" cy="36.74" r="0.94" fill="#e6786a"/><circle cx="76.55" cy="49.97" r="1.05" fill="#ffffff"/><circle cx="67.26" cy="47.01" r="0.94" fill="#f2a296"/><circle cx="71.28" cy="54.73" r="1.08" fill="#d86454"/><circle cx="70.11" cy="40.66" r="1.08" fill="#d86454"/><circle cx="65.19" cy="32.59" r="0.74" fill="#d86454"/><circle cx="69.85" cy="40.67" r="0.89" fill="#e6786a"/><circle cx="59.34" cy="31.21" r="0.73" fill="#d86454"/><circle cx="68.29" cy="44.92" r="0.60" fill="#f2a296"/><circle cx="65.54" cy="50.11" r="0.57" fill="#de6a5a"/><circle cx="72.86" cy="37.26" r="0.90" fill="#d86454"/><circle cx="66.40" cy="28.20" r="0.56" fill="#e6786a"/><circle cx="65.95" cy="54.44" r="0.99" fill="#e6786a"/><circle cx="72.98" cy="41.69" r="0.52" fill="#e6786a"/><circle cx="66.36" cy="37.74" r="0.83" fill="#e6786a"/><circle cx="66.55" cy="42.49" r="0.76" fill="#d86454"/><circle cx="62.44" cy="49.37" r="0.84" fill="#e6786a"/><circle cx="65.01" cy="51.42" r="0.86" fill="#ec8c7e"/><circle cx="69.82" cy="53.21" r="0.63" fill="#ffffff"/><circle cx="55.80" cy="30.17" r="0.76" fill="#f2a296"/><circle cx="60.90" cy="30.70" r="0.66" fill="#f2a296"/><circle cx="59.26" cy="35.42" r="0.80" fill="#f2a296"/><circle cx="51.62" cy="39.54" r="0.67" fill="#f2a296"/><circle cx="61.38" cy="32.20" r="0.66" fill="#f2a296"/><circle cx="73.10" cy="39.17" r="0.65" fill="#d86454"/><circle cx="69.32" cy="40.73" r="0.89" fill="#f2a296"/><circle cx="73.03" cy="39.11" r="0.61" fill="#ffffff"/><circle cx="55.04" cy="27.54" r="0.78" fill="#d86454"/><circle cx="61.65" cy="37.37" r="0.61" fill="#e6786a"/><circle cx="58.27" cy="31.91" r="1.04" fill="#e6786a"/><circle cx="62.40" cy="39.52" r="0.90" fill="#ec8c7e"/><circle cx="69.92" cy="34.31" r="0.90" fill="#d86454"/><circle cx="62.85" cy="36.74" r="1.08" fill="#de6a5a"/><circle cx="74.34" cy="31.77" r="0.64" fill="#e6786a"/><circle cx="72.06" cy="44.46" r="1.03" fill="#ec8c7e"/><circle cx="60.69" cy="30.55" r="0.69" fill="#ec8c7e"/><circle cx="76.11" cy="37.67" r="1.01" fill="#de6a5a"/><circle cx="69.84" cy="45.50" r="0.82" fill="#f2a296"/><circle cx="61.89" cy="38.76" r="0.59" fill="#de6a5a"/><circle cx="71.04" cy="43.95" r="1.08" fill="#ec8c7e"/><circle cx="62.78" cy="32.36" r="1.05" fill="#d86454"/><circle cx="64.38" cy="52.60" r="1.02" fill="#d86454"/><circle cx="65.92" cy="35.17" r="0.74" fill="#de6a5a"/><circle cx="55.57" cy="37.46" r="0.75" fill="#ffffff"/><circle cx="65.95" cy="43.77" r="0.63" fill="#ec8c7e"/><circle cx="73.07" cy="47.36" r="0.96" fill="#e6786a"/><circle cx="67.64" cy="44.03" r="0.79" fill="#ffffff"/><circle cx="61.91" cy="50.08" r="0.78" fill="#f2a296"/><circle cx="67.28" cy="40.10" r="1.09" fill="#ffffff"/><circle cx="65.70" cy="40.40" r="0.99" fill="#de6a5a"/><circle cx="61.50" cy="41.98" r="0.72" fill="#f2a296"/><circle cx="71.22" cy="53.07" r="1.06" fill="#ffffff"/><circle cx="60.73" cy="38.33" r="0.97" fill="#d86454"/><circle cx="55.77" cy="37.59" r="0.69" fill="#f2a296"/><circle cx="68.05" cy="50.59" r="0.65" fill="#e6786a"/><circle cx="66.73" cy="39.18" r="0.58" fill="#de6a5a"/><circle cx="61.64" cy="35.40" r="1.10" fill="#ec8c7e"/><circle cx="58.10" cy="36.57" r="0.99" fill="#de6a5a"/><circle cx="77.27" cy="44.94" r="0.52" fill="#d86454"/><circle cx="62.59" cy="33.69" r="0.75" fill="#e6786a"/><circle cx="61.87" cy="48.13" r="0.70" fill="#de6a5a"/><circle cx="57.53" cy="35.70" r="1.03" fill="#ffffff"/><circle cx="71.66" cy="41.16" r="0.62" fill="#d86454"/><circle cx="71.22" cy="31.88" r="1.01" fill="#e6786a"/><circle cx="61.11" cy="32.55" r="0.85" fill="#e6786a"/><circle cx="59.49" cy="49.25" r="0.66" fill="#ffffff"/><circle cx="72.56" cy="41.69" r="0.73" fill="#f2a296"/><circle cx="66.16" cy="39.76" r="0.94" fill="#d86454"/><circle cx="64.86" cy="35.54" r="0.78" fill="#f2a296"/><circle cx="68.06" cy="31.26" r="0.86" fill="#ffffff"/><circle cx="73.95" cy="41.15" r="0.71" fill="#de6a5a"/><circle cx="57.14" cy="38.46" r="0.87" fill="#f2a296"/><circle cx="69.21" cy="34.70" r="0.74" fill="#f2a296"/><circle cx="63.72" cy="38.16" r="0.78" fill="#d86454"/><circle cx="67.34" cy="35.63" r="0.87" fill="#de6a5a"/><circle cx="61.12" cy="41.96" r="0.92" fill="#e6786a"/><circle cx="72.51" cy="44.16" r="0.54" fill="#ffffff"/><circle cx="58.30" cy="38.07" r="0.64" fill="#ec8c7e"/><circle cx="68.25" cy="32.48" r="0.82" fill="#ffffff"/><circle cx="69.21" cy="38.27" r="1.07" fill="#de6a5a"/><circle cx="68.88" cy="56.00" r="1.07" fill="#d86454"/><circle cx="61.84" cy="49.92" r="1.08" fill="#f2a296"/><circle cx="64.23" cy="29.67" r="0.98" fill="#ec8c7e"/><circle cx="78.54" cy="42.87" r="0.74" fill="#e6786a"/><circle cx="68.16" cy="34.42" r="0.70" fill="#ec8c7e"/><circle cx="57.65" cy="55.19" r="0.92" fill="#f2a296"/><circle cx="66.51" cy="39.05" r="0.80" fill="#d86454"/><circle cx="56.61" cy="52.25" r="0.63" fill="#e6786a"/><circle cx="62.04" cy="49.67" r="0.53" fill="#e6786a"/><circle cx="61.89" cy="36.48" r="0.88" fill="#d86454"/><circle cx="72.38" cy="31.66" r="0.69" fill="#de6a5a"/><circle cx="67.18" cy="45.32" r="0.84" fill="#ffffff"/><circle cx="59.02" cy="28.60" r="0.58" fill="#de6a5a"/><circle cx="72.27" cy="36.17" r="0.51" fill="#ffffff"/><circle cx="69.63" cy="55.07" r="0.68" fill="#e6786a"/><circle cx="68.55" cy="47.80" r="0.78" fill="#ffffff"/><circle cx="71.18" cy="40.39" r="0.74" fill="#ec8c7e"/><circle cx="55.58" cy="48.43" r="0.55" fill="#e6786a"/><circle cx="67.24" cy="45.13" r="0.90" fill="#d86454"/><circle cx="62.34" cy="47.53" r="0.70" fill="#d86454"/><circle cx="50.59" cy="35.21" r="0.97" fill="#ec8c7e"/><circle cx="66.83" cy="42.79" r="0.54" fill="#d86454"/><circle cx="62.71" cy="53.56" r="0.76" fill="#de6a5a"/><circle cx="58.25" cy="41.33" r="0.98" fill="#ffffff"/><circle cx="60.15" cy="33.20" r="0.77" fill="#e6786a"/><circle cx="58.01" cy="44.79" r="0.66" fill="#d86454"/><circle cx="69.29" cy="56.55" r="0.59" fill="#ffffff"/><circle cx="63.83" cy="49.28" r="1.00" fill="#d86454"/><circle cx="68.73" cy="33.45" r="0.93" fill="#ffffff"/><circle cx="77.58" cy="47.83" r="0.75" fill="#ec8c7e"/><circle cx="60.37" cy="55.13" r="0.67" fill="#d86454"/><circle cx="55.63" cy="44.19" r="0.60" fill="#de6a5a"/><circle cx="53.52" cy="28.66" r="0.93" fill="#d86454"/><circle cx="73.16" cy="41.32" r="0.72" fill="#d86454"/><circle cx="53.13" cy="41.21" r="0.94" fill="#d86454"/><circle cx="67.22" cy="33.86" r="0.88" fill="#e6786a"/><circle cx="52.85" cy="39.57" r="0.85" fill="#ec8c7e"/><circle cx="73.65" cy="42.19" r="0.73" fill="#ec8c7e"/><circle cx="57.53" cy="38.90" r="0.95" fill="#f2a296"/><circle cx="61.45" cy="45.32" r="0.60" fill="#ffffff"/><circle cx="57.57" cy="33.36" r="0.70" fill="#d86454"/><circle cx="63.77" cy="40.94" r="0.52" fill="#d86454"/><circle cx="60.58" cy="36.44" r="0.99" fill="#e6786a"/><circle cx="74.05" cy="47.43" r="0.64" fill="#de6a5a"/><circle cx="60.23" cy="31.24" r="0.55" fill="#f2a296"/><circle cx="74.57" cy="52.45" r="0.73" fill="#e6786a"/><circle cx="67.22" cy="34.15" r="0.58" fill="#e6786a"/><circle cx="68.62" cy="29.61" r="0.55" fill="#e6786a"/><circle cx="75.29" cy="33.06" r="0.94" fill="#ffffff"/><circle cx="66.57" cy="39.43" r="0.78" fill="#de6a5a"/><circle cx="56.31" cy="43.60" r="1.04" fill="#ffffff"/><circle cx="57.83" cy="49.60" r="0.96" fill="#d86454"/><circle cx="75.44" cy="55.51" r="0.66" fill="#ffffff"/><circle cx="52.64" cy="35.80" r="0.73" fill="#ec8c7e"/><circle cx="69.01" cy="42.18" r="0.91" fill="#d86454"/><circle cx="64.63" cy="44.26" r="0.80" fill="#ec8c7e"/><circle cx="61.06" cy="39.82" r="0.88" fill="#ffffff"/><circle cx="70.47" cy="34.59" r="1.09" fill="#ffffff"/><circle cx="70.43" cy="39.83" r="1.03" fill="#f2a296"/><circle cx="69.35" cy="33.82" r="0.96" fill="#ffffff"/><circle cx="66.26" cy="32.01" r="0.83" fill="#ffffff"/><circle cx="52.72" cy="40.89" r="0.70" fill="#de6a5a"/><circle cx="72.71" cy="33.39" r="0.96" fill="#ffffff"/><circle cx="61.15" cy="30.69" r="0.90" fill="#f2a296"/><circle cx="52.97" cy="45.19" r="0.94" fill="#de6a5a"/><circle cx="57.98" cy="40.50" r="0.56" fill="#e6786a"/><circle cx="72.28" cy="36.80" r="0.60" fill="#de6a5a"/><circle cx="66.80" cy="32.81" r="1.08" fill="#de6a5a"/><circle cx="63.58" cy="33.49" r="0.89" fill="#ec8c7e"/><circle cx="61.90" cy="35.36" r="0.91" fill="#ffffff"/><circle cx="67.66" cy="42.64" r="0.51" fill="#ffffff"/><circle cx="70.92" cy="37.23" r="0.66" fill="#d86454"/><circle cx="75.68" cy="32.78" r="0.67" fill="#ec8c7e"/><circle cx="68.08" cy="35.03" r="0.72" fill="#de6a5a"/><circle cx="59.66" cy="36.90" r="0.76" fill="#de6a5a"/><circle cx="69.82" cy="48.19" r="0.72" fill="#ec8c7e"/><circle cx="66.73" cy="32.56" r="0.75" fill="#ec8c7e"/><circle cx="69.75" cy="38.58" r="0.80" fill="#d86454"/><circle cx="61.25" cy="54.42" r="0.56" fill="#ffffff"/><circle cx="54.59" cy="36.50" r="0.81" fill="#ffffff"/><circle cx="56.71" cy="50.88" r="1.02" fill="#ec8c7e"/><circle cx="68.16" cy="35.74" r="0.64" fill="#ffffff"/><circle cx="68.13" cy="36.23" r="0.71" fill="#ffffff"/><circle cx="73.00" cy="52.07" r="0.81" fill="#de6a5a"/><circle cx="59.10" cy="45.82" r="0.87" fill="#f2a296"/><circle cx="67.49" cy="39.04" r="0.78" fill="#ec8c7e"/><circle cx="61.04" cy="40.11" r="0.51" fill="#ec8c7e"/><circle cx="64.53" cy="35.88" r="0.80" fill="#f2a296"/><circle cx="67.59" cy="49.41" r="0.63" fill="#ffffff"/><circle cx="67.84" cy="54.10" r="0.97" fill="#de6a5a"/><circle cx="59.08" cy="39.58" r="0.56" fill="#d86454"/><circle cx="75.42" cy="40.30" r="0.98" fill="#d86454"/><circle cx="54.49" cy="37.30" r="0.99" fill="#ec8c7e"/><circle cx="74.92" cy="39.17" r="1.02" fill="#de6a5a"/><circle cx="66.68" cy="42.53" r="1.07" fill="#ffffff"/><circle cx="73.53" cy="46.42" r="0.53" fill="#ffffff"/><circle cx="65.93" cy="52.36" r="1.06" fill="#d86454"/><circle cx="70.30" cy="40.87" r="0.75" fill="#e6786a"/><circle cx="61.92" cy="44.63" r="0.78" fill="#de6a5a"/><circle cx="53.76" cy="37.88" r="0.52" fill="#de6a5a"/><circle cx="58.81" cy="31.97" r="0.79" fill="#de6a5a"/><circle cx="70.06" cy="38.20" r="0.92" fill="#d86454"/><circle cx="67.63" cy="36.42" r="1.00" fill="#f2a296"/><circle cx="75.05" cy="44.75" r="0.60" fill="#d86454"/><circle cx="62.58" cy="38.90" r="1.03" fill="#f2a296"/><circle cx="63.39" cy="50.47" r="0.78" fill="#e6786a"/><circle cx="59.80" cy="36.79" r="0.82" fill="#f2a296"/><circle cx="57.41" cy="46.93" r="0.56" fill="#e6786a"/><circle cx="53.02" cy="39.03" r="0.61" fill="#d86454"/><circle cx="76.94" cy="48.09" r="0.92" fill="#ffffff"/><circle cx="54.14" cy="37.29" r="0.88" fill="#ffffff"/><circle cx="57.53" cy="50.59" r="0.60" fill="#d86454"/><circle cx="66.75" cy="37.26" r="1.09" fill="#ec8c7e"/><circle cx="68.45" cy="49.26" r="0.93" fill="#e6786a"/><circle cx="67.06" cy="27.70" r="0.85" fill="#f2a296"/><circle cx="64.69" cy="49.97" r="0.66" fill="#ffffff"/><circle cx="68.29" cy="36.88" r="0.53" fill="#f2a296"/><circle cx="66.74" cy="33.72" r="0.64" fill="#d86454"/><circle cx="64.27" cy="38.65" r="0.66" fill="#d86454"/><circle cx="65.08" cy="29.68" r="0.69" fill="#e6786a"/><circle cx="66.23" cy="54.49" r="0.57" fill="#f2a296"/><circle cx="76.67" cy="44.32" r="1.06" fill="#e6786a"/><circle cx="66.40" cy="26.98" r="1.05" fill="#e6786a"/><circle cx="55.24" cy="34.79" r="1.00" fill="#ec8c7e"/><circle cx="61.09" cy="37.95" r="0.98" fill="#de6a5a"/><circle cx="73.66" cy="41.80" r="0.93" fill="#ffffff"/><circle cx="63.80" cy="33.75" r="0.94" fill="#d86454"/><circle cx="72.68" cy="46.16" r="0.78" fill="#f2a296"/><circle cx="71.91" cy="46.20" r="0.75" fill="#e6786a"/><circle cx="48.97" cy="37.08" r="0.85" fill="#e6786a"/><circle cx="57.02" cy="39.84" r="0.55" fill="#ec8c7e"/><circle cx="69.60" cy="40.47" r="0.81" fill="#ffffff"/><circle cx="71.15" cy="54.14" r="0.65" fill="#e6786a"/><circle cx="70.49" cy="46.32" r="0.77" fill="#e6786a"/><circle cx="67.92" cy="31.04" r="0.82" fill="#ec8c7e"/><circle cx="64.06" cy="49.79" r="1.05" fill="#ec8c7e"/><circle cx="68.14" cy="49.25" r="0.68" fill="#de6a5a"/><circle cx="56.30" cy="45.01" r="0.85" fill="#de6a5a"/><circle cx="60.94" cy="38.27" r="0.60" fill="#ec8c7e"/><circle cx="60.81" cy="31.88" r="0.59" fill="#d86454"/><circle cx="73.35" cy="35.78" r="0.65" fill="#ffffff"/><circle cx="65.09" cy="38.26" r="1.00" fill="#ec8c7e"/><circle cx="63.41" cy="49.91" r="0.99" fill="#ffffff"/><circle cx="64.07" cy="36.09" r="0.89" fill="#de6a5a"/><circle cx="69.42" cy="40.69" r="0.93" fill="#ffffff"/><circle cx="65.79" cy="53.90" r="0.63" fill="#e6786a"/><circle cx="60.92" cy="29.07" r="1.09" fill="#de6a5a"/><circle cx="58.53" cy="28.15" r="0.97" fill="#ffffff"/><circle cx="64.48" cy="34.45" r="0.57" fill="#ffffff"/><circle cx="80.46" cy="44.24" r="0.55" fill="#f2a296"/><circle cx="57.88" cy="33.70" r="0.79" fill="#de6a5a"/><circle cx="70.26" cy="35.55" r="1.01" fill="#e6786a"/><circle cx="63.44" cy="34.49" r="0.74" fill="#e6786a"/><circle cx="70.72" cy="33.34" r="0.56" fill="#ffffff"/><circle cx="59.59" cy="39.05" r="0.89" fill="#f2a296"/><circle cx="67.57" cy="46.75" r="0.55" fill="#f2a296"/><circle cx="79.36" cy="45.30" r="0.61" fill="#f2a296"/><circle cx="62.13" cy="51.31" r="0.60" fill="#ffffff"/><circle cx="64.67" cy="34.57" r="0.61" fill="#ec8c7e"/><circle cx="68.01" cy="52.20" r="0.81" fill="#ec8c7e"/><circle cx="66.05" cy="41.13" r="1.04" fill="#d86454"/><circle cx="60.92" cy="39.27" r="0.51" fill="#e6786a"/><circle cx="70.73" cy="31.14" r="0.97" fill="#e6786a"/><circle cx="59.64" cy="56.14" r="1.08" fill="#ffffff"/><circle cx="64.54" cy="32.65" r="0.89" fill="#d86454"/><circle cx="68.47" cy="36.17" r="0.77" fill="#de6a5a"/><circle cx="57.69" cy="37.54" r="0.58" fill="#d86454"/><circle cx="66.61" cy="30.73" r="0.82" fill="#e6786a"/><circle cx="73.51" cy="40.56" r="0.96" fill="#e6786a"/><circle cx="65.99" cy="37.35" r="0.84" fill="#e6786a"/><circle cx="73.03" cy="45.79" r="1.02" fill="#ec8c7e"/><circle cx="71.90" cy="36.18" r="1.06" fill="#ffffff"/><circle cx="65.16" cy="43.88" r="0.53" fill="#ec8c7e"/><circle cx="55.95" cy="29.61" r="0.89" fill="#ec8c7e"/><circle cx="54.56" cy="37.63" r="0.68" fill="#ec8c7e"/><circle cx="56.51" cy="40.92" r="0.71" fill="#e6786a"/><circle cx="56.98" cy="40.10" r="0.96" fill="#ec8c7e"/><circle cx="67.01" cy="36.80" r="1.03" fill="#de6a5a"/><circle cx="60.76" cy="26.96" r="1.08" fill="#ffffff"/><circle cx="81.42" cy="44.92" r="0.83" fill="#ec8c7e"/><circle cx="72.46" cy="43.71" r="0.55" fill="#f2a296"/><circle cx="55.49" cy="38.46" r="0.77" fill="#ffffff"/><circle cx="70.31" cy="38.26" r="0.53" fill="#de6a5a"/><circle cx="72.95" cy="31.16" r="0.73" fill="#de6a5a"/><circle cx="63.17" cy="54.90" r="0.85" fill="#ffffff"/><circle cx="62.88" cy="37.02" r="0.91" fill="#de6a5a"/><circle cx="59.53" cy="28.35" r="0.72" fill="#e6786a"/><circle cx="59.82" cy="48.82" r="0.86" fill="#f2a296"/><circle cx="63.06" cy="42.75" r="0.93" fill="#e6786a"/><circle cx="62.75" cy="34.81" r="0.59" fill="#f2a296"/><circle cx="64.81" cy="32.71" r="0.72" fill="#d86454"/><circle cx="73.07" cy="35.57" r="0.78" fill="#e6786a"/><circle cx="70.27" cy="48.63" r="0.89" fill="#ec8c7e"/><circle cx="65.44" cy="37.94" r="1.06" fill="#f2a296"/><circle cx="60.24" cy="48.11" r="0.79" fill="#ec8c7e"/><circle cx="54.76" cy="39.24" r="0.81" fill="#e6786a"/><circle cx="69.04" cy="46.01" r="1.00" fill="#ffffff"/><circle cx="54.27" cy="39.83" r="0.74" fill="#e6786a"/><circle cx="66.99" cy="31.19" r="1.05" fill="#ec8c7e"/><circle cx="66.50" cy="41.91" r="0.84" fill="#ffffff"/><circle cx="60.09" cy="31.91" r="1.01" fill="#d86454"/><circle cx="69.54" cy="38.04" r="0.69" fill="#f2a296"/><circle cx="64.13" cy="31.62" r="0.99" fill="#ffffff"/><circle cx="64.42" cy="35.51" r="0.94" fill="#ec8c7e"/><circle cx="69.00" cy="43.01" r="1.05" fill="#ec8c7e"/><circle cx="63.81" cy="35.81" r="0.70" fill="#ec8c7e"/><circle cx="62.19" cy="46.22" r="0.97" fill="#de6a5a"/><circle cx="68.94" cy="33.55" r="0.78" fill="#e6786a"/><circle cx="76.03" cy="31.37" r="0.50" fill="#e6786a"/><circle cx="58.63" cy="40.77" r="0.65" fill="#ec8c7e"/><circle cx="78.07" cy="38.80" r="0.84" fill="#ffffff"/><circle cx="74.27" cy="40.58" r="1.07" fill="#ffffff"/><circle cx="61.84" cy="49.31" r="0.71" fill="#e6786a"/><circle cx="76.93" cy="35.55" r="0.53" fill="#ec8c7e"/><circle cx="76.99" cy="48.00" r="0.78" fill="#ffffff"/><circle cx="70.00" cy="41.99" r="0.65" fill="#ffffff"/><circle cx="69.67" cy="53.56" r="0.77" fill="#d86454"/><circle cx="59.19" cy="36.15" r="0.99" fill="#f2a296"/><circle cx="63.89" cy="39.97" r="0.90" fill="#d86454"/><circle cx="53.30" cy="35.85" r="0.55" fill="#de6a5a"/><circle cx="68.14" cy="35.09" r="0.59" fill="#e6786a"/><circle cx="57.35" cy="39.30" r="0.68" fill="#f2a296"/><circle cx="55.89" cy="40.84" r="0.83" fill="#ffffff"/><circle cx="61.00" cy="56.37" r="1.03" fill="#ffffff"/><circle cx="53.52" cy="41.61" r="0.86" fill="#e6786a"/><circle cx="68.97" cy="39.85" r="0.64" fill="#ec8c7e"/><circle cx="65.60" cy="46.05" r="0.88" fill="#e6786a"/><circle cx="55.90" cy="38.87" r="0.85" fill="#d86454"/><circle cx="67.59" cy="54.94" r="1.06" fill="#d86454"/><circle cx="63.10" cy="37.44" r="0.98" fill="#d86454"/><circle cx="50.19" cy="46.09" r="0.77" fill="#e6786a"/><circle cx="66.26" cy="40.08" r="0.98" fill="#ffffff"/><circle cx="64.70" cy="53.95" r="0.78" fill="#d86454"/><circle cx="61.38" cy="38.67" r="0.80" fill="#d86454"/><circle cx="58.87" cy="38.05" r="1.10" fill="#f2a296"/><circle cx="72.03" cy="41.73" r="0.88" fill="#f2a296"/><circle cx="53.86" cy="41.92" r="0.80" fill="#d86454"/><circle cx="58.91" cy="38.96" r="0.62" fill="#de6a5a"/><circle cx="71.68" cy="34.93" r="0.68" fill="#e6786a"/><circle cx="64.23" cy="40.52" r="0.78" fill="#ffffff"/><circle cx="66.55" cy="37.50" r="0.61" fill="#d86454"/></g>
<text x="45" y="74.6" font-size="12" fill="#0a0a0a" text-anchor="middle" font-weight="normal" style="stroke-width:0.22px" >Polyplex (PP)</text>
<line x1="45.1" y1="83.5" x2="45.1" y2="166" stroke="#111" stroke-width="1.6"/>
<path d="M40.8 164.3 L49.4 164.3 L45.1 173.0 Z" fill="#111"/>
<circle cx="21.6" cy="107" r="8.2" fill="none" stroke="#dedede" stroke-width="2.6"/>
<circle cx="21.6" cy="107" r="9.4" fill="none" stroke="#a8a8a8" stroke-width="1.1"/>
<circle cx="21.6" cy="107" r="6.9" fill="none" stroke="#a8a8a8" stroke-width="1.1"/>
<text x="7.5" y="130.3" font-size="9.2" fill="#0a0a0a" text-anchor="start" font-weight="normal" style="stroke-width:0.16px">DOPE /</text>
<text x="7.5" y="141.0" font-size="9.2" fill="#0a0a0a" text-anchor="start" font-weight="normal" style="stroke-width:0.16px">DC-Chol</text>
<text x="7.5" y="151.6" font-size="9.2" fill="#0a0a0a" text-anchor="start" font-weight="normal" style="stroke-width:0.16px">(70/30)</text>
<g><circle cx="25.9" cy="203.2" r="17.1" fill="none" stroke="#5a5a5a" stroke-width="1.5" stroke-dasharray="1.1 0.85"/><circle cx="25.9" cy="203.2" r="12.0" fill="none" stroke="#666" stroke-width="1.2" stroke-dasharray="0.9 0.6"/><line x1="38.40" y1="203.20" x2="42.50" y2="203.20" stroke="#707070" stroke-width="0.75"/><line x1="38.32" y1="204.60" x2="42.40" y2="205.06" stroke="#707070" stroke-width="0.75"/><line x1="38.09" y1="205.98" x2="42.08" y2="206.89" stroke="#707070" stroke-width="0.75"/><line x1="37.70" y1="207.33" x2="41.57" y2="208.68" stroke="#707070" stroke-width="0.75"/><line x1="37.16" y1="208.62" x2="40.86" y2="210.40" stroke="#707070" stroke-width="0.75"/><line x1="36.48" y1="209.85" x2="39.96" y2="212.03" stroke="#707070" stroke-width="0.75"/><line x1="35.67" y1="210.99" x2="38.88" y2="213.55" stroke="#707070" stroke-width="0.75"/><line x1="34.74" y1="212.04" x2="37.64" y2="214.94" stroke="#707070" stroke-width="0.75"/><line x1="33.69" y1="212.97" x2="36.25" y2="216.18" stroke="#707070" stroke-width="0.75"/><line x1="32.55" y1="213.78" x2="34.73" y2="217.26" stroke="#707070" stroke-width="0.75"/><line x1="31.32" y1="214.46" x2="33.10" y2="218.16" stroke="#707070" stroke-width="0.75"/><line x1="30.03" y1="215.00" x2="31.38" y2="218.87" stroke="#707070" stroke-width="0.75"/><line x1="28.68" y1="215.39" x2="29.59" y2="219.38" stroke="#707070" stroke-width="0.75"/><line x1="27.30" y1="215.62" x2="27.76" y2="219.70" stroke="#707070" stroke-width="0.75"/><line x1="25.90" y1="215.70" x2="25.90" y2="219.80" stroke="#707070" stroke-width="0.75"/><line x1="24.50" y1="215.62" x2="24.04" y2="219.70" stroke="#707070" stroke-width="0.75"/><line x1="23.12" y1="215.39" x2="22.21" y2="219.38" stroke="#707070" stroke-width="0.75"/><line x1="21.77" y1="215.00" x2="20.42" y2="218.87" stroke="#707070" stroke-width="0.75"/><line x1="20.48" y1="214.46" x2="18.70" y2="218.16" stroke="#707070" stroke-width="0.75"/><line x1="19.25" y1="213.78" x2="17.07" y2="217.26" stroke="#707070" stroke-width="0.75"/><line x1="18.11" y1="212.97" x2="15.55" y2="216.18" stroke="#707070" stroke-width="0.75"/><line x1="17.06" y1="212.04" x2="14.16" y2="214.94" stroke="#707070" stroke-width="0.75"/><line x1="16.13" y1="210.99" x2="12.92" y2="213.55" stroke="#707070" stroke-width="0.75"/><line x1="15.32" y1="209.85" x2="11.84" y2="212.03" stroke="#707070" stroke-width="0.75"/><line x1="14.64" y1="208.62" x2="10.94" y2="210.40" stroke="#707070" stroke-width="0.75"/><line x1="14.10" y1="207.33" x2="10.23" y2="208.68" stroke="#707070" stroke-width="0.75"/><line x1="13.71" y1="205.98" x2="9.72" y2="206.89" stroke="#707070" stroke-width="0.75"/><line x1="13.48" y1="204.60" x2="9.40" y2="205.06" stroke="#707070" stroke-width="0.75"/><line x1="13.40" y1="203.20" x2="9.30" y2="203.20" stroke="#707070" stroke-width="0.75"/><line x1="13.48" y1="201.80" x2="9.40" y2="201.34" stroke="#707070" stroke-width="0.75"/><line x1="13.71" y1="200.42" x2="9.72" y2="199.51" stroke="#707070" stroke-width="0.75"/><line x1="14.10" y1="199.07" x2="10.23" y2="197.72" stroke="#707070" stroke-width="0.75"/><line x1="14.64" y1="197.78" x2="10.94" y2="196.00" stroke="#707070" stroke-width="0.75"/><line x1="15.32" y1="196.55" x2="11.84" y2="194.37" stroke="#707070" stroke-width="0.75"/><line x1="16.13" y1="195.41" x2="12.92" y2="192.85" stroke="#707070" stroke-width="0.75"/><line x1="17.06" y1="194.36" x2="14.16" y2="191.46" stroke="#707070" stroke-width="0.75"/><line x1="18.11" y1="193.43" x2="15.55" y2="190.22" stroke="#707070" stroke-width="0.75"/><line x1="19.25" y1="192.62" x2="17.07" y2="189.14" stroke="#707070" stroke-width="0.75"/><line x1="20.48" y1="191.94" x2="18.70" y2="188.24" stroke="#707070" stroke-width="0.75"/><line x1="21.77" y1="191.40" x2="20.42" y2="187.53" stroke="#707070" stroke-width="0.75"/><line x1="23.12" y1="191.01" x2="22.21" y2="187.02" stroke="#707070" stroke-width="0.75"/><line x1="24.50" y1="190.78" x2="24.04" y2="186.70" stroke="#707070" stroke-width="0.75"/><line x1="25.90" y1="190.70" x2="25.90" y2="186.60" stroke="#707070" stroke-width="0.75"/><line x1="27.30" y1="190.78" x2="27.76" y2="186.70" stroke="#707070" stroke-width="0.75"/><line x1="28.68" y1="191.01" x2="29.59" y2="187.02" stroke="#707070" stroke-width="0.75"/><line x1="30.03" y1="191.40" x2="31.38" y2="187.53" stroke="#707070" stroke-width="0.75"/><line x1="31.32" y1="191.94" x2="33.10" y2="188.24" stroke="#707070" stroke-width="0.75"/><line x1="32.55" y1="192.62" x2="34.73" y2="189.14" stroke="#707070" stroke-width="0.75"/><line x1="33.69" y1="193.43" x2="36.25" y2="190.22" stroke="#707070" stroke-width="0.75"/><line x1="34.74" y1="194.36" x2="37.64" y2="191.46" stroke="#707070" stroke-width="0.75"/><line x1="35.67" y1="195.41" x2="38.88" y2="192.85" stroke="#707070" stroke-width="0.75"/><line x1="36.48" y1="196.55" x2="39.96" y2="194.37" stroke="#707070" stroke-width="0.75"/><line x1="37.16" y1="197.78" x2="40.86" y2="196.00" stroke="#707070" stroke-width="0.75"/><line x1="37.70" y1="199.07" x2="41.57" y2="197.72" stroke="#707070" stroke-width="0.75"/><line x1="38.09" y1="200.42" x2="42.08" y2="199.51" stroke="#707070" stroke-width="0.75"/><line x1="38.32" y1="201.80" x2="42.40" y2="201.34" stroke="#707070" stroke-width="0.75"/></g>
<g><circle cx="31.72" cy="203.63" r="2.96" fill="#7f8fda"/><circle cx="30.41" cy="207.26" r="2.51" fill="#7f8fda"/><circle cx="24.83" cy="209.01" r="3.11" fill="#7f8fda"/><circle cx="20.61" cy="207.39" r="3.12" fill="#7f8fda"/><circle cx="20.24" cy="199.89" r="3.04" fill="#7f8fda"/><circle cx="22.78" cy="197.54" r="2.34" fill="#7f8fda"/><circle cx="30.04" cy="197.80" r="2.35" fill="#7f8fda"/><circle cx="30.13" cy="202.16" r="3.13" fill="#7f8fda"/><circle cx="25.84" cy="200.57" r="3.13" fill="#7f8fda"/><circle cx="29.39" cy="203.56" r="2.86" fill="#7f8fda"/><circle cx="22.67" cy="204.22" r="2.28" fill="#7f8fda"/><circle cx="27.77" cy="199.98" r="2.66" fill="#7f8fda"/><circle cx="22.42" cy="201.53" r="3.16" fill="#7f8fda"/><circle cx="23.58" cy="203.67" r="3.20" fill="#7f8fda"/><circle cx="25.90" cy="203.20" r="4.58" fill="#7f8fda"/><circle cx="34.86" cy="205.05" r="0.81" fill="#6a7acc"/><circle cx="28.53" cy="203.14" r="0.64" fill="#ffffff"/><circle cx="24.40" cy="200.42" r="0.53" fill="#7f8fda"/><circle cx="32.16" cy="199.20" r="0.66" fill="#ffffff"/><circle cx="19.25" cy="208.44" r="0.56" fill="#ffffff"/><circle cx="30.77" cy="201.30" r="0.79" fill="#ffffff"/><circle cx="21.04" cy="200.91" r="0.79" fill="#a3aee6"/><circle cx="25.58" cy="202.84" r="0.78" fill="#7383d4"/><circle cx="22.29" cy="210.65" r="0.89" fill="#6a7acc"/><circle cx="30.11" cy="205.97" r="0.90" fill="#a3aee6"/><circle cx="30.76" cy="204.08" r="0.78" fill="#7f8fda"/><circle cx="24.02" cy="197.38" r="0.75" fill="#6a7acc"/><circle cx="26.02" cy="204.29" r="0.77" fill="#93a0e2"/><circle cx="29.81" cy="206.79" r="0.44" fill="#6a7acc"/><circle cx="32.12" cy="208.60" r="0.42" fill="#6a7acc"/><circle cx="30.00" cy="201.34" r="0.50" fill="#7f8fda"/><circle cx="29.85" cy="202.06" r="0.51" fill="#a3aee6"/><circle cx="27.95" cy="204.35" r="0.47" fill="#93a0e2"/><circle cx="22.23" cy="205.82" r="0.62" fill="#7383d4"/><circle cx="22.50" cy="201.28" r="0.67" fill="#7383d4"/><circle cx="29.01" cy="205.47" r="0.72" fill="#ffffff"/><circle cx="30.02" cy="201.14" r="0.40" fill="#ffffff"/><circle cx="26.18" cy="199.30" r="0.90" fill="#7f8fda"/><circle cx="27.15" cy="199.03" r="0.48" fill="#7f8fda"/><circle cx="26.69" cy="209.08" r="0.81" fill="#6a7acc"/><circle cx="32.00" cy="202.19" r="0.83" fill="#7383d4"/><circle cx="22.95" cy="210.14" r="0.47" fill="#93a0e2"/><circle cx="27.49" cy="197.87" r="0.73" fill="#6a7acc"/><circle cx="22.94" cy="206.75" r="0.73" fill="#6a7acc"/><circle cx="25.09" cy="200.46" r="0.87" fill="#7f8fda"/><circle cx="28.96" cy="201.68" r="0.49" fill="#93a0e2"/><circle cx="24.49" cy="197.98" r="0.80" fill="#a3aee6"/><circle cx="26.26" cy="200.76" r="0.83" fill="#a3aee6"/><circle cx="24.41" cy="208.05" r="0.49" fill="#7f8fda"/><circle cx="24.32" cy="198.91" r="0.54" fill="#6a7acc"/><circle cx="20.44" cy="210.16" r="0.61" fill="#ffffff"/><circle cx="19.40" cy="200.66" r="0.49" fill="#a3aee6"/><circle cx="25.76" cy="207.94" r="0.72" fill="#ffffff"/><circle cx="26.41" cy="197.55" r="0.65" fill="#7383d4"/><circle cx="25.25" cy="210.53" r="0.44" fill="#6a7acc"/><circle cx="22.25" cy="196.07" r="0.44" fill="#ffffff"/><circle cx="23.87" cy="208.77" r="0.41" fill="#7f8fda"/><circle cx="27.83" cy="205.95" r="0.45" fill="#7f8fda"/><circle cx="22.91" cy="199.65" r="0.88" fill="#a3aee6"/><circle cx="24.42" cy="196.96" r="0.68" fill="#6a7acc"/><circle cx="23.05" cy="202.25" r="0.67" fill="#ffffff"/><circle cx="28.72" cy="197.12" r="0.89" fill="#7f8fda"/><circle cx="22.84" cy="202.98" r="0.62" fill="#6a7acc"/><circle cx="18.34" cy="208.45" r="0.75" fill="#ffffff"/><circle cx="30.66" cy="199.85" r="0.76" fill="#93a0e2"/><circle cx="30.48" cy="196.45" r="0.83" fill="#ffffff"/><circle cx="29.72" cy="199.21" r="0.65" fill="#93a0e2"/><circle cx="20.75" cy="204.58" r="0.55" fill="#93a0e2"/><circle cx="29.15" cy="202.26" r="0.62" fill="#7383d4"/><circle cx="21.34" cy="197.74" r="0.59" fill="#93a0e2"/><circle cx="22.03" cy="209.76" r="0.89" fill="#7f8fda"/><circle cx="22.09" cy="202.45" r="0.77" fill="#93a0e2"/><circle cx="27.49" cy="200.12" r="0.47" fill="#7383d4"/><circle cx="22.06" cy="206.42" r="0.59" fill="#93a0e2"/><circle cx="27.03" cy="204.52" r="0.72" fill="#7f8fda"/><circle cx="30.24" cy="202.16" r="0.42" fill="#ffffff"/><circle cx="22.11" cy="208.42" r="0.85" fill="#7f8fda"/><circle cx="18.23" cy="201.93" r="0.59" fill="#93a0e2"/><circle cx="24.52" cy="201.99" r="0.51" fill="#7383d4"/><circle cx="21.58" cy="202.66" r="0.46" fill="#a3aee6"/><circle cx="17.27" cy="208.05" r="0.65" fill="#6a7acc"/><circle cx="27.12" cy="197.26" r="0.78" fill="#7f8fda"/><circle cx="28.75" cy="209.34" r="0.44" fill="#6a7acc"/><circle cx="23.19" cy="203.58" r="0.86" fill="#7383d4"/><circle cx="26.24" cy="209.47" r="0.69" fill="#7383d4"/><circle cx="22.16" cy="202.60" r="0.63" fill="#93a0e2"/><circle cx="28.40" cy="208.76" r="0.76" fill="#ffffff"/><circle cx="26.97" cy="198.97" r="0.88" fill="#7f8fda"/><circle cx="30.41" cy="202.22" r="0.48" fill="#ffffff"/><circle cx="18.84" cy="205.12" r="0.88" fill="#a3aee6"/><circle cx="23.48" cy="209.27" r="0.79" fill="#ffffff"/><circle cx="21.87" cy="199.88" r="0.86" fill="#7f8fda"/><circle cx="32.21" cy="203.12" r="0.48" fill="#6a7acc"/><circle cx="22.28" cy="198.00" r="0.52" fill="#7383d4"/><circle cx="22.50" cy="205.81" r="0.56" fill="#7f8fda"/><circle cx="20.35" cy="197.27" r="0.48" fill="#7383d4"/><circle cx="32.20" cy="197.96" r="0.43" fill="#7f8fda"/><circle cx="27.89" cy="208.57" r="0.77" fill="#7383d4"/><circle cx="30.50" cy="207.90" r="0.73" fill="#7f8fda"/><circle cx="19.61" cy="203.89" r="0.45" fill="#93a0e2"/><circle cx="29.97" cy="200.46" r="0.65" fill="#a3aee6"/><circle cx="27.97" cy="200.98" r="0.45" fill="#93a0e2"/><circle cx="22.43" cy="196.64" r="0.57" fill="#7f8fda"/><circle cx="20.37" cy="210.31" r="0.88" fill="#7f8fda"/><circle cx="21.78" cy="206.04" r="0.88" fill="#6a7acc"/><circle cx="19.59" cy="206.66" r="0.75" fill="#7383d4"/><circle cx="29.60" cy="201.87" r="0.41" fill="#ffffff"/><circle cx="33.01" cy="204.31" r="0.53" fill="#a3aee6"/><circle cx="24.58" cy="203.09" r="0.85" fill="#93a0e2"/><circle cx="29.17" cy="200.18" r="0.70" fill="#7383d4"/><circle cx="27.29" cy="204.70" r="0.46" fill="#7f8fda"/><circle cx="20.97" cy="208.13" r="0.45" fill="#ffffff"/><circle cx="19.99" cy="197.71" r="0.58" fill="#6a7acc"/><circle cx="30.23" cy="202.80" r="0.63" fill="#a3aee6"/><circle cx="30.16" cy="205.32" r="0.59" fill="#a3aee6"/><circle cx="28.47" cy="202.47" r="0.82" fill="#a3aee6"/><circle cx="26.59" cy="204.04" r="0.83" fill="#7f8fda"/><circle cx="19.15" cy="202.43" r="0.86" fill="#6a7acc"/><circle cx="30.05" cy="208.71" r="0.41" fill="#a3aee6"/><circle cx="24.13" cy="206.91" r="0.52" fill="#6a7acc"/><circle cx="22.72" cy="200.06" r="0.87" fill="#ffffff"/><circle cx="19.59" cy="210.01" r="0.41" fill="#a3aee6"/><circle cx="25.11" cy="202.29" r="0.62" fill="#a3aee6"/><circle cx="22.18" cy="205.79" r="0.79" fill="#7383d4"/><circle cx="20.37" cy="204.80" r="0.51" fill="#7f8fda"/><circle cx="21.47" cy="198.36" r="0.69" fill="#ffffff"/><circle cx="21.41" cy="203.63" r="0.63" fill="#6a7acc"/><circle cx="25.44" cy="201.09" r="0.87" fill="#7f8fda"/><circle cx="28.49" cy="203.46" r="0.44" fill="#7383d4"/><circle cx="29.32" cy="203.49" r="0.78" fill="#7383d4"/><circle cx="29.01" cy="208.40" r="0.70" fill="#6a7acc"/><circle cx="22.27" cy="203.83" r="0.63" fill="#6a7acc"/><circle cx="25.01" cy="203.83" r="0.46" fill="#93a0e2"/><circle cx="29.92" cy="205.72" r="0.75" fill="#7383d4"/><circle cx="31.05" cy="203.18" r="0.53" fill="#7f8fda"/><circle cx="19.82" cy="203.13" r="0.83" fill="#7383d4"/><circle cx="27.09" cy="200.81" r="0.82" fill="#a3aee6"/><circle cx="19.85" cy="199.18" r="0.70" fill="#7f8fda"/><circle cx="23.44" cy="198.98" r="0.85" fill="#7383d4"/><circle cx="30.20" cy="200.70" r="0.51" fill="#ffffff"/><circle cx="24.94" cy="208.01" r="0.67" fill="#a3aee6"/><circle cx="22.48" cy="207.33" r="0.75" fill="#93a0e2"/><circle cx="25.62" cy="205.77" r="0.85" fill="#ffffff"/><circle cx="28.33" cy="201.69" r="0.75" fill="#93a0e2"/><circle cx="26.88" cy="200.78" r="0.76" fill="#93a0e2"/><circle cx="21.68" cy="209.08" r="0.73" fill="#93a0e2"/><circle cx="30.57" cy="205.23" r="0.53" fill="#7f8fda"/><circle cx="21.63" cy="200.61" r="0.64" fill="#7f8fda"/><circle cx="25.71" cy="203.64" r="0.88" fill="#ffffff"/><circle cx="27.79" cy="198.05" r="0.69" fill="#a3aee6"/><circle cx="30.05" cy="206.26" r="0.55" fill="#93a0e2"/><circle cx="28.49" cy="206.38" r="0.63" fill="#ffffff"/><circle cx="22.80" cy="210.82" r="0.74" fill="#7f8fda"/><circle cx="32.72" cy="198.48" r="0.73" fill="#7f8fda"/><circle cx="23.04" cy="209.14" r="0.80" fill="#6a7acc"/><circle cx="24.12" cy="206.45" r="0.53" fill="#ffffff"/><circle cx="24.90" cy="200.50" r="0.53" fill="#7383d4"/><circle cx="28.63" cy="199.31" r="0.74" fill="#a3aee6"/><circle cx="27.71" cy="203.19" r="0.43" fill="#6a7acc"/><circle cx="23.73" cy="198.00" r="0.65" fill="#7f8fda"/><circle cx="21.97" cy="197.20" r="0.57" fill="#7f8fda"/><circle cx="22.70" cy="200.03" r="0.54" fill="#93a0e2"/><circle cx="26.17" cy="201.68" r="0.44" fill="#93a0e2"/><circle cx="27.64" cy="202.31" r="0.58" fill="#7383d4"/><circle cx="22.27" cy="197.26" r="0.82" fill="#ffffff"/><circle cx="23.69" cy="206.77" r="0.72" fill="#ffffff"/><circle cx="31.57" cy="197.67" r="0.66" fill="#93a0e2"/><circle cx="21.75" cy="205.75" r="0.40" fill="#7383d4"/><circle cx="19.44" cy="200.42" r="0.44" fill="#a3aee6"/><circle cx="31.35" cy="209.58" r="0.64" fill="#a3aee6"/><circle cx="32.66" cy="206.24" r="0.56" fill="#7f8fda"/><circle cx="25.73" cy="199.11" r="0.81" fill="#93a0e2"/><circle cx="23.88" cy="203.19" r="0.67" fill="#7383d4"/><circle cx="26.15" cy="201.01" r="0.68" fill="#ffffff"/><circle cx="22.45" cy="205.49" r="0.79" fill="#ffffff"/><circle cx="17.63" cy="200.20" r="0.43" fill="#7f8fda"/><circle cx="22.50" cy="195.46" r="0.58" fill="#7383d4"/><circle cx="29.55" cy="198.35" r="0.72" fill="#7383d4"/><circle cx="26.94" cy="201.19" r="0.54" fill="#a3aee6"/><circle cx="24.49" cy="197.14" r="0.47" fill="#7383d4"/><circle cx="27.85" cy="201.77" r="0.43" fill="#7f8fda"/><circle cx="30.04" cy="200.41" r="0.42" fill="#ffffff"/><circle cx="20.32" cy="203.45" r="0.61" fill="#a3aee6"/><circle cx="19.36" cy="202.25" r="0.60" fill="#93a0e2"/><circle cx="26.39" cy="199.84" r="0.50" fill="#a3aee6"/><circle cx="25.51" cy="205.57" r="0.76" fill="#7383d4"/><circle cx="29.90" cy="206.23" r="0.86" fill="#7383d4"/><circle cx="21.68" cy="199.08" r="0.67" fill="#a3aee6"/><circle cx="22.22" cy="198.36" r="0.75" fill="#ffffff"/><circle cx="20.69" cy="202.58" r="0.76" fill="#93a0e2"/><circle cx="24.39" cy="203.93" r="0.46" fill="#93a0e2"/><circle cx="23.16" cy="211.34" r="0.78" fill="#ffffff"/><circle cx="22.10" cy="206.42" r="0.82" fill="#7383d4"/><circle cx="32.00" cy="204.55" r="0.78" fill="#a3aee6"/><circle cx="31.31" cy="205.01" r="0.83" fill="#6a7acc"/><circle cx="21.05" cy="199.47" r="0.82" fill="#7f8fda"/><circle cx="32.25" cy="201.41" r="0.44" fill="#ffffff"/><circle cx="30.42" cy="195.26" r="0.56" fill="#93a0e2"/><circle cx="26.37" cy="200.54" r="0.43" fill="#7383d4"/><circle cx="20.64" cy="202.89" r="0.87" fill="#6a7acc"/><circle cx="20.41" cy="205.09" r="0.89" fill="#7383d4"/><circle cx="23.14" cy="205.57" r="0.62" fill="#93a0e2"/><circle cx="28.06" cy="196.70" r="0.54" fill="#6a7acc"/><circle cx="30.03" cy="209.15" r="0.84" fill="#a3aee6"/><circle cx="21.58" cy="197.34" r="0.82" fill="#7f8fda"/><circle cx="21.34" cy="206.14" r="0.43" fill="#93a0e2"/><circle cx="22.20" cy="209.23" r="0.50" fill="#ffffff"/><circle cx="23.23" cy="208.89" r="0.52" fill="#7f8fda"/><circle cx="23.91" cy="205.68" r="0.67" fill="#ffffff"/><circle cx="24.22" cy="198.77" r="0.75" fill="#6a7acc"/><circle cx="29.54" cy="204.82" r="0.59" fill="#7f8fda"/><circle cx="26.15" cy="199.09" r="0.87" fill="#93a0e2"/><circle cx="25.54" cy="200.15" r="0.87" fill="#6a7acc"/><circle cx="30.24" cy="203.12" r="0.47" fill="#7f8fda"/><circle cx="25.06" cy="206.08" r="0.59" fill="#7f8fda"/><circle cx="25.14" cy="206.28" r="0.46" fill="#a3aee6"/><circle cx="24.41" cy="198.32" r="0.60" fill="#7f8fda"/><circle cx="18.98" cy="201.77" r="0.51" fill="#7f8fda"/><circle cx="31.24" cy="202.80" r="0.69" fill="#7f8fda"/><circle cx="30.72" cy="205.18" r="0.60" fill="#7383d4"/><circle cx="27.83" cy="200.07" r="0.55" fill="#a3aee6"/><circle cx="24.24" cy="204.66" r="0.81" fill="#a3aee6"/><circle cx="20.71" cy="200.91" r="0.85" fill="#6a7acc"/><circle cx="32.04" cy="206.73" r="0.74" fill="#7f8fda"/><circle cx="21.51" cy="201.68" r="0.55" fill="#6a7acc"/><circle cx="28.89" cy="196.12" r="0.42" fill="#7383d4"/><circle cx="31.87" cy="206.33" r="0.82" fill="#a3aee6"/><circle cx="32.61" cy="207.78" r="0.47" fill="#7f8fda"/><circle cx="22.68" cy="197.96" r="0.41" fill="#a3aee6"/><circle cx="24.64" cy="196.91" r="0.61" fill="#a3aee6"/><circle cx="22.25" cy="210.61" r="0.79" fill="#7f8fda"/><circle cx="33.02" cy="200.77" r="0.64" fill="#a3aee6"/><circle cx="23.46" cy="198.02" r="0.78" fill="#a3aee6"/><circle cx="28.67" cy="198.98" r="0.63" fill="#ffffff"/><circle cx="17.24" cy="207.82" r="0.50" fill="#7383d4"/><circle cx="26.54" cy="203.31" r="0.61" fill="#6a7acc"/><circle cx="25.16" cy="201.92" r="0.60" fill="#6a7acc"/><circle cx="21.40" cy="203.68" r="0.83" fill="#93a0e2"/><circle cx="27.43" cy="199.99" r="0.54" fill="#93a0e2"/><circle cx="25.47" cy="202.02" r="0.45" fill="#7f8fda"/><circle cx="24.24" cy="199.62" r="0.47" fill="#a3aee6"/><circle cx="22.42" cy="206.11" r="0.73" fill="#7383d4"/><circle cx="22.63" cy="206.01" r="0.82" fill="#7383d4"/><circle cx="32.02" cy="208.64" r="0.70" fill="#ffffff"/><circle cx="20.44" cy="200.91" r="0.85" fill="#ffffff"/><circle cx="27.23" cy="207.48" r="0.61" fill="#7383d4"/><circle cx="29.65" cy="204.72" r="0.66" fill="#7f8fda"/><circle cx="31.23" cy="205.96" r="0.68" fill="#a3aee6"/><circle cx="30.03" cy="200.28" r="0.71" fill="#7f8fda"/><circle cx="29.97" cy="198.56" r="0.73" fill="#ffffff"/><circle cx="21.59" cy="209.47" r="0.56" fill="#7f8fda"/><circle cx="23.07" cy="200.72" r="0.42" fill="#a3aee6"/><circle cx="25.04" cy="209.66" r="0.48" fill="#7f8fda"/><circle cx="22.15" cy="204.63" r="0.58" fill="#7383d4"/><circle cx="29.35" cy="207.22" r="0.77" fill="#6a7acc"/><circle cx="30.62" cy="199.57" r="0.49" fill="#7f8fda"/><circle cx="28.30" cy="204.24" r="0.66" fill="#ffffff"/><circle cx="25.10" cy="210.27" r="0.50" fill="#ffffff"/><circle cx="30.26" cy="203.70" r="0.69" fill="#93a0e2"/><circle cx="22.12" cy="205.39" r="0.65" fill="#93a0e2"/><circle cx="25.24" cy="203.98" r="0.70" fill="#6a7acc"/><circle cx="29.28" cy="205.16" r="0.47" fill="#7f8fda"/><circle cx="20.53" cy="202.77" r="0.40" fill="#93a0e2"/><circle cx="22.68" cy="201.03" r="0.90" fill="#7f8fda"/><circle cx="24.66" cy="211.82" r="0.64" fill="#93a0e2"/><circle cx="25.23" cy="212.45" r="0.77" fill="#93a0e2"/><circle cx="31.55" cy="201.83" r="0.78" fill="#a3aee6"/><circle cx="25.29" cy="198.31" r="0.66" fill="#ffffff"/><circle cx="26.97" cy="202.76" r="0.85" fill="#a3aee6"/><circle cx="28.09" cy="204.03" r="0.84" fill="#6a7acc"/><circle cx="20.13" cy="201.08" r="0.84" fill="#6a7acc"/><circle cx="30.91" cy="205.85" r="0.80" fill="#7f8fda"/><circle cx="23.25" cy="205.80" r="0.69" fill="#93a0e2"/><circle cx="24.73" cy="199.47" r="0.65" fill="#a3aee6"/><circle cx="22.35" cy="199.71" r="0.82" fill="#6a7acc"/></g>
<g><circle cx="64.2" cy="203.2" r="17.1" fill="none" stroke="#5a5a5a" stroke-width="1.5" stroke-dasharray="1.1 0.85"/><circle cx="64.2" cy="203.2" r="12.0" fill="none" stroke="#666" stroke-width="1.2" stroke-dasharray="0.9 0.6"/><line x1="76.70" y1="203.20" x2="80.80" y2="203.20" stroke="#707070" stroke-width="0.75"/><line x1="76.62" y1="204.60" x2="80.70" y2="205.06" stroke="#707070" stroke-width="0.75"/><line x1="76.39" y1="205.98" x2="80.38" y2="206.89" stroke="#707070" stroke-width="0.75"/><line x1="76.00" y1="207.33" x2="79.87" y2="208.68" stroke="#707070" stroke-width="0.75"/><line x1="75.46" y1="208.62" x2="79.16" y2="210.40" stroke="#707070" stroke-width="0.75"/><line x1="74.78" y1="209.85" x2="78.26" y2="212.03" stroke="#707070" stroke-width="0.75"/><line x1="73.97" y1="210.99" x2="77.18" y2="213.55" stroke="#707070" stroke-width="0.75"/><line x1="73.04" y1="212.04" x2="75.94" y2="214.94" stroke="#707070" stroke-width="0.75"/><line x1="71.99" y1="212.97" x2="74.55" y2="216.18" stroke="#707070" stroke-width="0.75"/><line x1="70.85" y1="213.78" x2="73.03" y2="217.26" stroke="#707070" stroke-width="0.75"/><line x1="69.62" y1="214.46" x2="71.40" y2="218.16" stroke="#707070" stroke-width="0.75"/><line x1="68.33" y1="215.00" x2="69.68" y2="218.87" stroke="#707070" stroke-width="0.75"/><line x1="66.98" y1="215.39" x2="67.89" y2="219.38" stroke="#707070" stroke-width="0.75"/><line x1="65.60" y1="215.62" x2="66.06" y2="219.70" stroke="#707070" stroke-width="0.75"/><line x1="64.20" y1="215.70" x2="64.20" y2="219.80" stroke="#707070" stroke-width="0.75"/><line x1="62.80" y1="215.62" x2="62.34" y2="219.70" stroke="#707070" stroke-width="0.75"/><line x1="61.42" y1="215.39" x2="60.51" y2="219.38" stroke="#707070" stroke-width="0.75"/><line x1="60.07" y1="215.00" x2="58.72" y2="218.87" stroke="#707070" stroke-width="0.75"/><line x1="58.78" y1="214.46" x2="57.00" y2="218.16" stroke="#707070" stroke-width="0.75"/><line x1="57.55" y1="213.78" x2="55.37" y2="217.26" stroke="#707070" stroke-width="0.75"/><line x1="56.41" y1="212.97" x2="53.85" y2="216.18" stroke="#707070" stroke-width="0.75"/><line x1="55.36" y1="212.04" x2="52.46" y2="214.94" stroke="#707070" stroke-width="0.75"/><line x1="54.43" y1="210.99" x2="51.22" y2="213.55" stroke="#707070" stroke-width="0.75"/><line x1="53.62" y1="209.85" x2="50.14" y2="212.03" stroke="#707070" stroke-width="0.75"/><line x1="52.94" y1="208.62" x2="49.24" y2="210.40" stroke="#707070" stroke-width="0.75"/><line x1="52.40" y1="207.33" x2="48.53" y2="208.68" stroke="#707070" stroke-width="0.75"/><line x1="52.01" y1="205.98" x2="48.02" y2="206.89" stroke="#707070" stroke-width="0.75"/><line x1="51.78" y1="204.60" x2="47.70" y2="205.06" stroke="#707070" stroke-width="0.75"/><line x1="51.70" y1="203.20" x2="47.60" y2="203.20" stroke="#707070" stroke-width="0.75"/><line x1="51.78" y1="201.80" x2="47.70" y2="201.34" stroke="#707070" stroke-width="0.75"/><line x1="52.01" y1="200.42" x2="48.02" y2="199.51" stroke="#707070" stroke-width="0.75"/><line x1="52.40" y1="199.07" x2="48.53" y2="197.72" stroke="#707070" stroke-width="0.75"/><line x1="52.94" y1="197.78" x2="49.24" y2="196.00" stroke="#707070" stroke-width="0.75"/><line x1="53.62" y1="196.55" x2="50.14" y2="194.37" stroke="#707070" stroke-width="0.75"/><line x1="54.43" y1="195.41" x2="51.22" y2="192.85" stroke="#707070" stroke-width="0.75"/><line x1="55.36" y1="194.36" x2="52.46" y2="191.46" stroke="#707070" stroke-width="0.75"/><line x1="56.41" y1="193.43" x2="53.85" y2="190.22" stroke="#707070" stroke-width="0.75"/><line x1="57.55" y1="192.62" x2="55.37" y2="189.14" stroke="#707070" stroke-width="0.75"/><line x1="58.78" y1="191.94" x2="57.00" y2="188.24" stroke="#707070" stroke-width="0.75"/><line x1="60.07" y1="191.40" x2="58.72" y2="187.53" stroke="#707070" stroke-width="0.75"/><line x1="61.42" y1="191.01" x2="60.51" y2="187.02" stroke="#707070" stroke-width="0.75"/><line x1="62.80" y1="190.78" x2="62.34" y2="186.70" stroke="#707070" stroke-width="0.75"/><line x1="64.20" y1="190.70" x2="64.20" y2="186.60" stroke="#707070" stroke-width="0.75"/><line x1="65.60" y1="190.78" x2="66.06" y2="186.70" stroke="#707070" stroke-width="0.75"/><line x1="66.98" y1="191.01" x2="67.89" y2="187.02" stroke="#707070" stroke-width="0.75"/><line x1="68.33" y1="191.40" x2="69.68" y2="187.53" stroke="#707070" stroke-width="0.75"/><line x1="69.62" y1="191.94" x2="71.40" y2="188.24" stroke="#707070" stroke-width="0.75"/><line x1="70.85" y1="192.62" x2="73.03" y2="189.14" stroke="#707070" stroke-width="0.75"/><line x1="71.99" y1="193.43" x2="74.55" y2="190.22" stroke="#707070" stroke-width="0.75"/><line x1="73.04" y1="194.36" x2="75.94" y2="191.46" stroke="#707070" stroke-width="0.75"/><line x1="73.97" y1="195.41" x2="77.18" y2="192.85" stroke="#707070" stroke-width="0.75"/><line x1="74.78" y1="196.55" x2="78.26" y2="194.37" stroke="#707070" stroke-width="0.75"/><line x1="75.46" y1="197.78" x2="79.16" y2="196.00" stroke="#707070" stroke-width="0.75"/><line x1="76.00" y1="199.07" x2="79.87" y2="197.72" stroke="#707070" stroke-width="0.75"/><line x1="76.39" y1="200.42" x2="80.38" y2="199.51" stroke="#707070" stroke-width="0.75"/><line x1="76.62" y1="201.80" x2="80.70" y2="201.34" stroke="#707070" stroke-width="0.75"/></g>
<g><circle cx="68.28" cy="198.15" r="2.76" fill="#e6786a"/><circle cx="70.66" cy="202.92" r="2.34" fill="#e6786a"/><circle cx="68.94" cy="208.11" r="2.50" fill="#e6786a"/><circle cx="63.40" cy="208.92" r="2.54" fill="#e6786a"/><circle cx="58.91" cy="205.38" r="3.00" fill="#e6786a"/><circle cx="58.30" cy="200.01" r="2.55" fill="#e6786a"/><circle cx="63.44" cy="197.13" r="2.71" fill="#e6786a"/><circle cx="67.30" cy="202.21" r="2.93" fill="#e6786a"/><circle cx="64.43" cy="203.39" r="2.41" fill="#e6786a"/><circle cx="67.35" cy="205.67" r="2.39" fill="#e6786a"/><circle cx="67.70" cy="202.24" r="2.32" fill="#e6786a"/><circle cx="63.59" cy="200.79" r="2.74" fill="#e6786a"/><circle cx="67.78" cy="205.05" r="3.07" fill="#e6786a"/><circle cx="61.00" cy="201.42" r="2.51" fill="#e6786a"/><circle cx="64.20" cy="203.20" r="4.58" fill="#e6786a"/><circle cx="70.68" cy="206.12" r="0.68" fill="#d86454"/><circle cx="71.30" cy="209.65" r="0.41" fill="#e6786a"/><circle cx="70.25" cy="199.92" r="0.84" fill="#ec8c7e"/><circle cx="67.53" cy="210.22" r="0.78" fill="#ec8c7e"/><circle cx="69.56" cy="205.56" r="0.66" fill="#d86454"/><circle cx="67.18" cy="208.42" r="0.73" fill="#ec8c7e"/><circle cx="60.04" cy="203.60" r="0.46" fill="#ffffff"/><circle cx="70.02" cy="202.10" r="0.88" fill="#f2a296"/><circle cx="62.78" cy="202.84" r="0.79" fill="#ffffff"/><circle cx="67.82" cy="201.36" r="0.69" fill="#ec8c7e"/><circle cx="62.91" cy="198.15" r="0.74" fill="#f2a296"/><circle cx="66.94" cy="203.98" r="0.72" fill="#de6a5a"/><circle cx="66.03" cy="201.19" r="0.75" fill="#de6a5a"/><circle cx="70.77" cy="196.44" r="0.90" fill="#ec8c7e"/><circle cx="55.67" cy="205.39" r="0.65" fill="#de6a5a"/><circle cx="65.88" cy="196.39" r="0.74" fill="#f2a296"/><circle cx="69.87" cy="206.23" r="0.47" fill="#e6786a"/><circle cx="65.89" cy="202.53" r="0.42" fill="#f2a296"/><circle cx="66.02" cy="205.13" r="0.55" fill="#f2a296"/><circle cx="59.35" cy="202.60" r="0.88" fill="#e6786a"/><circle cx="65.29" cy="210.84" r="0.42" fill="#ffffff"/><circle cx="68.48" cy="204.05" r="0.55" fill="#ffffff"/><circle cx="67.58" cy="204.57" r="0.59" fill="#de6a5a"/><circle cx="66.29" cy="200.22" r="0.43" fill="#de6a5a"/><circle cx="60.32" cy="199.56" r="0.70" fill="#de6a5a"/><circle cx="67.18" cy="199.65" r="0.54" fill="#ec8c7e"/><circle cx="65.09" cy="201.59" r="0.66" fill="#d86454"/><circle cx="61.48" cy="200.38" r="0.65" fill="#f2a296"/><circle cx="67.17" cy="204.99" r="0.88" fill="#f2a296"/><circle cx="69.12" cy="200.53" r="0.74" fill="#e6786a"/><circle cx="70.60" cy="201.16" r="0.58" fill="#ec8c7e"/><circle cx="69.58" cy="201.63" r="0.77" fill="#de6a5a"/><circle cx="56.23" cy="199.55" r="0.48" fill="#ec8c7e"/><circle cx="67.05" cy="204.65" r="0.84" fill="#f2a296"/><circle cx="69.52" cy="202.60" r="0.80" fill="#d86454"/><circle cx="61.67" cy="197.85" r="0.61" fill="#ffffff"/><circle cx="65.86" cy="195.73" r="0.85" fill="#de6a5a"/><circle cx="70.26" cy="208.17" r="0.86" fill="#ec8c7e"/><circle cx="66.72" cy="202.39" r="0.73" fill="#ffffff"/><circle cx="63.45" cy="211.40" r="0.54" fill="#ec8c7e"/><circle cx="62.35" cy="199.24" r="0.85" fill="#ec8c7e"/><circle cx="63.02" cy="207.84" r="0.41" fill="#ffffff"/><circle cx="64.91" cy="209.43" r="0.72" fill="#d86454"/><circle cx="65.12" cy="202.75" r="0.79" fill="#e6786a"/><circle cx="63.35" cy="206.22" r="0.48" fill="#ffffff"/><circle cx="63.43" cy="209.51" r="0.76" fill="#f2a296"/><circle cx="63.87" cy="210.08" r="0.54" fill="#e6786a"/><circle cx="71.22" cy="203.79" r="0.71" fill="#d86454"/><circle cx="61.46" cy="207.20" r="0.54" fill="#f2a296"/><circle cx="63.63" cy="204.15" r="0.68" fill="#e6786a"/><circle cx="66.37" cy="208.00" r="0.59" fill="#de6a5a"/><circle cx="64.30" cy="203.68" r="0.46" fill="#ffffff"/><circle cx="68.85" cy="207.54" r="0.76" fill="#d86454"/><circle cx="69.17" cy="205.62" r="0.41" fill="#ffffff"/><circle cx="61.63" cy="206.13" r="0.63" fill="#ffffff"/><circle cx="70.41" cy="205.74" r="0.84" fill="#ec8c7e"/><circle cx="67.29" cy="205.81" r="0.77" fill="#ffffff"/><circle cx="67.58" cy="199.81" r="0.49" fill="#e6786a"/><circle cx="65.59" cy="203.24" r="0.41" fill="#d86454"/><circle cx="60.03" cy="203.78" r="0.63" fill="#ffffff"/><circle cx="60.14" cy="201.34" r="0.77" fill="#de6a5a"/><circle cx="69.74" cy="203.62" r="0.70" fill="#ffffff"/><circle cx="69.80" cy="203.62" r="0.69" fill="#e6786a"/><circle cx="64.44" cy="195.68" r="0.78" fill="#de6a5a"/><circle cx="65.46" cy="204.59" r="0.69" fill="#de6a5a"/><circle cx="69.18" cy="207.68" r="0.75" fill="#ec8c7e"/><circle cx="63.91" cy="198.31" r="0.90" fill="#d86454"/><circle cx="56.78" cy="202.78" r="0.55" fill="#e6786a"/><circle cx="70.84" cy="198.36" r="0.85" fill="#f2a296"/><circle cx="56.39" cy="206.79" r="0.85" fill="#e6786a"/><circle cx="67.62" cy="204.74" r="0.57" fill="#f2a296"/><circle cx="63.83" cy="207.73" r="0.47" fill="#d86454"/><circle cx="60.37" cy="199.14" r="0.61" fill="#d86454"/><circle cx="67.87" cy="201.49" r="0.41" fill="#e6786a"/><circle cx="70.10" cy="207.59" r="0.69" fill="#ec8c7e"/><circle cx="57.79" cy="199.93" r="0.50" fill="#e6786a"/><circle cx="62.65" cy="209.43" r="0.76" fill="#d86454"/><circle cx="68.56" cy="205.05" r="0.44" fill="#de6a5a"/><circle cx="64.73" cy="204.79" r="0.46" fill="#d86454"/><circle cx="61.70" cy="203.13" r="0.75" fill="#ec8c7e"/><circle cx="65.03" cy="206.14" r="0.66" fill="#ec8c7e"/><circle cx="65.32" cy="197.81" r="0.47" fill="#d86454"/><circle cx="69.08" cy="204.08" r="0.81" fill="#ec8c7e"/><circle cx="64.37" cy="200.85" r="0.50" fill="#ffffff"/><circle cx="67.61" cy="207.77" r="0.55" fill="#de6a5a"/><circle cx="64.14" cy="202.42" r="0.45" fill="#e6786a"/><circle cx="60.53" cy="199.27" r="0.87" fill="#e6786a"/><circle cx="67.62" cy="201.72" r="0.79" fill="#de6a5a"/><circle cx="66.98" cy="203.61" r="0.44" fill="#e6786a"/><circle cx="62.80" cy="204.64" r="0.49" fill="#d86454"/><circle cx="66.59" cy="206.73" r="0.81" fill="#de6a5a"/><circle cx="66.66" cy="202.93" r="0.87" fill="#d86454"/><circle cx="67.90" cy="206.21" r="0.79" fill="#ec8c7e"/><circle cx="66.82" cy="201.29" r="0.68" fill="#d86454"/><circle cx="66.67" cy="198.69" r="0.65" fill="#d86454"/><circle cx="66.62" cy="197.44" r="0.60" fill="#e6786a"/><circle cx="58.11" cy="202.57" r="0.89" fill="#de6a5a"/><circle cx="62.70" cy="205.57" r="0.66" fill="#de6a5a"/><circle cx="65.62" cy="207.80" r="0.57" fill="#d86454"/><circle cx="70.29" cy="203.70" r="0.42" fill="#ffffff"/><circle cx="64.78" cy="210.41" r="0.45" fill="#e6786a"/><circle cx="67.50" cy="202.80" r="0.83" fill="#de6a5a"/><circle cx="60.47" cy="200.87" r="0.70" fill="#de6a5a"/><circle cx="61.52" cy="206.74" r="0.67" fill="#e6786a"/><circle cx="65.59" cy="203.81" r="0.57" fill="#d86454"/><circle cx="62.20" cy="202.66" r="0.50" fill="#ec8c7e"/><circle cx="61.54" cy="207.38" r="0.80" fill="#de6a5a"/><circle cx="65.10" cy="204.81" r="0.61" fill="#e6786a"/><circle cx="63.06" cy="201.58" r="0.72" fill="#d86454"/><circle cx="68.98" cy="204.91" r="0.44" fill="#d86454"/><circle cx="63.64" cy="198.47" r="0.71" fill="#de6a5a"/><circle cx="66.48" cy="203.83" r="0.58" fill="#d86454"/><circle cx="69.92" cy="209.27" r="0.57" fill="#ec8c7e"/><circle cx="61.65" cy="207.90" r="0.55" fill="#e6786a"/><circle cx="60.40" cy="202.57" r="0.84" fill="#f2a296"/><circle cx="63.63" cy="208.29" r="0.61" fill="#d86454"/><circle cx="69.99" cy="209.12" r="0.82" fill="#ffffff"/><circle cx="68.38" cy="206.77" r="0.76" fill="#e6786a"/><circle cx="67.98" cy="204.52" r="0.89" fill="#de6a5a"/><circle cx="62.41" cy="206.13" r="0.71" fill="#ec8c7e"/><circle cx="69.80" cy="204.80" r="0.66" fill="#de6a5a"/><circle cx="60.99" cy="198.88" r="0.42" fill="#e6786a"/><circle cx="69.43" cy="203.89" r="0.62" fill="#de6a5a"/><circle cx="62.37" cy="201.96" r="0.69" fill="#de6a5a"/><circle cx="64.54" cy="205.78" r="0.57" fill="#ec8c7e"/><circle cx="59.69" cy="204.96" r="0.87" fill="#ffffff"/><circle cx="67.19" cy="200.36" r="0.77" fill="#de6a5a"/><circle cx="66.67" cy="206.52" r="0.77" fill="#f2a296"/><circle cx="66.97" cy="202.27" r="0.53" fill="#e6786a"/><circle cx="57.77" cy="207.16" r="0.77" fill="#ffffff"/><circle cx="59.58" cy="200.96" r="0.62" fill="#ffffff"/><circle cx="57.92" cy="200.65" r="0.55" fill="#d86454"/><circle cx="62.89" cy="199.53" r="0.74" fill="#de6a5a"/><circle cx="69.16" cy="207.07" r="0.76" fill="#e6786a"/><circle cx="56.79" cy="197.96" r="0.64" fill="#de6a5a"/><circle cx="67.53" cy="208.73" r="0.73" fill="#d86454"/><circle cx="67.37" cy="207.84" r="0.78" fill="#e6786a"/><circle cx="63.96" cy="201.08" r="0.84" fill="#d86454"/><circle cx="68.53" cy="202.34" r="0.52" fill="#e6786a"/><circle cx="57.25" cy="205.14" r="0.64" fill="#f2a296"/><circle cx="70.60" cy="202.97" r="0.60" fill="#e6786a"/><circle cx="62.35" cy="203.29" r="0.79" fill="#ffffff"/><circle cx="67.77" cy="205.55" r="0.48" fill="#e6786a"/><circle cx="69.54" cy="205.31" r="0.78" fill="#ffffff"/><circle cx="64.85" cy="197.63" r="0.43" fill="#ffffff"/><circle cx="64.36" cy="202.88" r="0.69" fill="#ec8c7e"/><circle cx="63.42" cy="198.80" r="0.74" fill="#ffffff"/><circle cx="66.68" cy="199.87" r="0.59" fill="#d86454"/><circle cx="67.53" cy="206.96" r="0.71" fill="#d86454"/><circle cx="69.23" cy="205.03" r="0.45" fill="#f2a296"/><circle cx="68.53" cy="208.36" r="0.72" fill="#d86454"/><circle cx="63.46" cy="202.99" r="0.84" fill="#f2a296"/><circle cx="59.77" cy="200.28" r="0.87" fill="#ec8c7e"/><circle cx="69.88" cy="209.93" r="0.86" fill="#ec8c7e"/><circle cx="57.49" cy="198.01" r="0.71" fill="#ec8c7e"/><circle cx="68.65" cy="204.07" r="0.78" fill="#f2a296"/><circle cx="60.95" cy="206.05" r="0.51" fill="#e6786a"/><circle cx="66.25" cy="200.98" r="0.62" fill="#de6a5a"/><circle cx="66.70" cy="198.82" r="0.52" fill="#e6786a"/><circle cx="64.02" cy="202.60" r="0.54" fill="#ec8c7e"/><circle cx="61.50" cy="200.65" r="0.69" fill="#e6786a"/><circle cx="57.30" cy="199.38" r="0.46" fill="#d86454"/><circle cx="61.87" cy="210.39" r="0.69" fill="#ec8c7e"/><circle cx="65.00" cy="202.89" r="0.41" fill="#e6786a"/><circle cx="63.01" cy="198.21" r="0.52" fill="#d86454"/><circle cx="66.82" cy="198.85" r="0.61" fill="#e6786a"/><circle cx="69.43" cy="201.51" r="0.84" fill="#de6a5a"/><circle cx="63.19" cy="208.26" r="0.85" fill="#de6a5a"/><circle cx="66.49" cy="201.56" r="0.71" fill="#ffffff"/><circle cx="69.67" cy="199.26" r="0.56" fill="#ec8c7e"/><circle cx="58.53" cy="201.88" r="0.55" fill="#f2a296"/><circle cx="66.14" cy="207.90" r="0.58" fill="#d86454"/><circle cx="64.20" cy="211.32" r="0.62" fill="#f2a296"/><circle cx="59.39" cy="204.10" r="0.51" fill="#d86454"/><circle cx="69.21" cy="203.97" r="0.78" fill="#ec8c7e"/><circle cx="64.18" cy="199.73" r="0.67" fill="#ffffff"/><circle cx="64.23" cy="198.81" r="0.58" fill="#ec8c7e"/><circle cx="68.63" cy="198.67" r="0.87" fill="#d86454"/><circle cx="67.50" cy="195.37" r="0.74" fill="#e6786a"/><circle cx="66.40" cy="204.31" r="0.82" fill="#de6a5a"/><circle cx="66.60" cy="202.15" r="0.80" fill="#de6a5a"/><circle cx="66.29" cy="204.61" r="0.77" fill="#ffffff"/><circle cx="61.15" cy="201.12" r="0.59" fill="#de6a5a"/><circle cx="67.80" cy="202.06" r="0.87" fill="#ffffff"/><circle cx="70.53" cy="207.24" r="0.85" fill="#d86454"/><circle cx="69.39" cy="206.11" r="0.43" fill="#f2a296"/><circle cx="64.89" cy="200.80" r="0.76" fill="#ec8c7e"/><circle cx="65.67" cy="201.38" r="0.46" fill="#f2a296"/><circle cx="59.88" cy="201.09" r="0.70" fill="#de6a5a"/><circle cx="65.23" cy="202.02" r="0.80" fill="#d86454"/><circle cx="65.95" cy="196.82" r="0.85" fill="#ffffff"/><circle cx="68.98" cy="208.71" r="0.70" fill="#f2a296"/><circle cx="66.41" cy="204.36" r="0.74" fill="#f2a296"/><circle cx="59.74" cy="197.66" r="0.72" fill="#f2a296"/><circle cx="70.63" cy="203.11" r="0.66" fill="#e6786a"/><circle cx="68.10" cy="204.60" r="0.59" fill="#ffffff"/><circle cx="61.35" cy="198.85" r="0.58" fill="#de6a5a"/><circle cx="62.71" cy="200.09" r="0.61" fill="#de6a5a"/><circle cx="60.37" cy="200.32" r="0.80" fill="#e6786a"/><circle cx="62.32" cy="203.29" r="0.84" fill="#de6a5a"/><circle cx="65.76" cy="195.51" r="0.46" fill="#ec8c7e"/><circle cx="63.24" cy="201.92" r="0.73" fill="#ffffff"/><circle cx="68.41" cy="195.43" r="0.49" fill="#ec8c7e"/><circle cx="66.72" cy="204.17" r="0.77" fill="#f2a296"/><circle cx="59.52" cy="199.55" r="0.59" fill="#ffffff"/><circle cx="67.51" cy="197.69" r="0.69" fill="#ffffff"/><circle cx="67.96" cy="200.01" r="0.40" fill="#d86454"/><circle cx="61.93" cy="195.77" r="0.85" fill="#de6a5a"/><circle cx="68.51" cy="207.95" r="0.61" fill="#de6a5a"/><circle cx="67.97" cy="203.15" r="0.82" fill="#d86454"/><circle cx="59.30" cy="206.47" r="0.55" fill="#e6786a"/><circle cx="55.45" cy="199.48" r="0.63" fill="#de6a5a"/><circle cx="69.12" cy="204.50" r="0.79" fill="#ec8c7e"/><circle cx="64.78" cy="203.88" r="0.65" fill="#f2a296"/><circle cx="71.06" cy="203.37" r="0.57" fill="#ffffff"/><circle cx="61.53" cy="204.06" r="0.60" fill="#de6a5a"/><circle cx="64.49" cy="201.12" r="0.84" fill="#ec8c7e"/><circle cx="70.66" cy="196.64" r="0.63" fill="#ffffff"/><circle cx="55.88" cy="199.84" r="0.90" fill="#d86454"/><circle cx="65.73" cy="200.67" r="0.68" fill="#d86454"/><circle cx="66.06" cy="203.02" r="0.83" fill="#d86454"/><circle cx="65.00" cy="206.31" r="0.49" fill="#ffffff"/><circle cx="67.51" cy="203.33" r="0.79" fill="#f2a296"/><circle cx="69.08" cy="201.38" r="0.72" fill="#de6a5a"/><circle cx="68.76" cy="200.66" r="0.55" fill="#f2a296"/><circle cx="60.96" cy="199.26" r="0.60" fill="#ec8c7e"/><circle cx="66.77" cy="199.31" r="0.88" fill="#ffffff"/><circle cx="71.04" cy="200.96" r="0.55" fill="#ffffff"/><circle cx="65.98" cy="201.49" r="0.66" fill="#ffffff"/><circle cx="70.30" cy="204.70" r="0.65" fill="#ec8c7e"/><circle cx="58.27" cy="204.93" r="0.52" fill="#ffffff"/><circle cx="60.47" cy="202.04" r="0.84" fill="#f2a296"/><circle cx="71.30" cy="203.51" r="0.88" fill="#ffffff"/><circle cx="68.37" cy="202.81" r="0.84" fill="#e6786a"/><circle cx="59.07" cy="202.68" r="0.63" fill="#e6786a"/><circle cx="61.85" cy="201.01" r="0.53" fill="#ffffff"/><circle cx="66.63" cy="204.14" r="0.52" fill="#e6786a"/><circle cx="62.27" cy="209.30" r="0.68" fill="#e6786a"/><circle cx="64.71" cy="201.78" r="0.86" fill="#ffffff"/><circle cx="71.04" cy="199.58" r="0.72" fill="#ffffff"/><circle cx="63.44" cy="207.97" r="0.89" fill="#de6a5a"/><circle cx="56.34" cy="200.58" r="0.83" fill="#e6786a"/><circle cx="67.75" cy="206.14" r="0.40" fill="#e6786a"/><circle cx="60.02" cy="202.12" r="0.80" fill="#d86454"/><circle cx="70.42" cy="200.36" r="0.71" fill="#ec8c7e"/><circle cx="65.73" cy="202.86" r="0.82" fill="#ffffff"/><circle cx="65.14" cy="202.52" r="0.70" fill="#de6a5a"/><circle cx="66.68" cy="201.91" r="0.42" fill="#d86454"/><circle cx="68.54" cy="200.48" r="0.45" fill="#ec8c7e"/><circle cx="59.29" cy="206.65" r="0.55" fill="#de6a5a"/><circle cx="57.52" cy="198.81" r="0.62" fill="#e6786a"/><circle cx="70.60" cy="201.46" r="0.61" fill="#de6a5a"/><circle cx="64.36" cy="204.01" r="0.44" fill="#ec8c7e"/><circle cx="68.34" cy="205.67" r="0.82" fill="#ec8c7e"/><circle cx="64.78" cy="198.35" r="0.87" fill="#ec8c7e"/><circle cx="68.08" cy="202.18" r="0.76" fill="#e6786a"/><circle cx="69.83" cy="200.90" r="0.78" fill="#d86454"/><circle cx="64.01" cy="207.13" r="0.67" fill="#ec8c7e"/><circle cx="69.99" cy="204.48" r="0.90" fill="#de6a5a"/><circle cx="63.90" cy="200.44" r="0.86" fill="#d86454"/></g>
<text x="47.5" y="238.8" font-size="12" fill="#0a0a0a" text-anchor="middle" font-weight="normal" style="stroke-width:0.22px" >Lipopolyplex</text>
<text x="47.2" y="252.8" font-size="12.8" fill="#0a0a0a" text-anchor="middle" font-weight="normal" style="stroke-width:0.22px" >(LP)</text>
<text x="163.5" y="21" font-size="11.8" fill="#4472c4" text-anchor="middle" font-weight="bold" >L1a-4</text>
<text x="296.5" y="21" font-size="11.8" fill="#e8402a" text-anchor="middle" font-weight="bold" >L1b-4</text>
<defs><filter id="grain" x="0" y="0" width="1" height="1"><feTurbulence type="fractalNoise" baseFrequency="0.75" numOctaves="2" seed="3"/><feColorMatrix type="matrix" values="1 0 0 0 0  1 0 0 0 0  1 0 0 0 0  0 0 0 0 0.2"/><feComposite in2="SourceGraphic" operator="in"/></filter><filter id="soft" x="-20%" y="-20%" width="140%" height="140%"><feGaussianBlur stdDeviation="0.55"/></filter><filter id="soft2" x="-20%" y="-20%" width="140%" height="140%"><feGaussianBlur stdDeviation="0.6"/></filter><linearGradient id="in2g" x1="0" y1="0" x2="1" y2="1"><stop offset="0" stop-color="#9a9a9a"/><stop offset="0.55" stop-color="#727272"/><stop offset="1" stop-color="#4a4a4a"/></linearGradient></defs>
<rect x="98" y="27" width="132" height="132" fill="#bebebe"/>
<rect x="98" y="27" width="132" height="132" fill="#888" filter="url(#grain)"/>
<g filter="url(#soft)"><ellipse cx="170.1" cy="33.7" rx="3.44" ry="3.44" transform="rotate(0 170.1 33.7)" fill="#2c2c2c"/><ellipse cx="219.8" cy="34.7" rx="1.89" ry="1.38" transform="rotate(20 219.8 34.7)" fill="#2c2c2c"/><ellipse cx="203.1" cy="37.6" rx="1.20" ry="1.20" transform="rotate(0 203.1 37.6)" fill="#2c2c2c"/><ellipse cx="226" cy="49.3" rx="1.72" ry="1.72" transform="rotate(0 226 49.3)" fill="#2c2c2c"/><ellipse cx="225" cy="55.5" rx="1.55" ry="1.29" transform="rotate(0 225 55.5)" fill="#2c2c2c"/><ellipse cx="206" cy="55.1" rx="2.41" ry="1.72" transform="rotate(0 206 55.1)" fill="#2c2c2c"/><ellipse cx="188.7" cy="52.8" rx="0.95" ry="0.95" transform="rotate(0 188.7 52.8)" fill="#2c2c2c"/><ellipse cx="175.1" cy="50.2" rx="0.86" ry="0.86" transform="rotate(0 175.1 50.2)" fill="#2c2c2c"/><ellipse cx="182.9" cy="73.5" rx="3.01" ry="1.98" transform="rotate(0 182.9 73.5)" fill="#2c2c2c"/><ellipse cx="206.6" cy="69.2" rx="2.58" ry="1.72" transform="rotate(-20 206.6 69.2)" fill="#2c2c2c"/><ellipse cx="193" cy="81.3" rx="1.55" ry="3.44" transform="rotate(10 193 81.3)" fill="#2c2c2c"/><ellipse cx="177.9" cy="83.2" rx="1.20" ry="1.20" transform="rotate(0 177.9 83.2)" fill="#2c2c2c"/><ellipse cx="216.3" cy="84.8" rx="0.95" ry="0.95" transform="rotate(0 216.3 84.8)" fill="#2c2c2c"/><ellipse cx="217.2" cy="74.5" rx="0.86" ry="0.86" transform="rotate(0 217.2 74.5)" fill="#2c2c2c"/><ellipse cx="204.6" cy="91" rx="1.29" ry="1.29" transform="rotate(0 204.6 91)" fill="#2c2c2c"/><ellipse cx="108.8" cy="115.8" rx="2.41" ry="2.41" transform="rotate(0 108.8 115.8)" fill="#2c2c2c"/><ellipse cx="150.3" cy="124.9" rx="2.58" ry="2.24" transform="rotate(0 150.3 124.9)" fill="#2c2c2c"/><ellipse cx="122.8" cy="130.2" rx="1.72" ry="1.72" transform="rotate(0 122.8 130.2)" fill="#2c2c2c"/><ellipse cx="143.5" cy="108.9" rx="1.12" ry="1.12" transform="rotate(0 143.5 108.9)" fill="#2c2c2c"/><ellipse cx="103.2" cy="96" rx="1.72" ry="1.38" transform="rotate(0 103.2 96)" fill="#2c2c2c"/><ellipse cx="137.5" cy="96" rx="1.72" ry="1.38" transform="rotate(0 137.5 96)" fill="#2c2c2c"/><ellipse cx="156.4" cy="140.6" rx="1.29" ry="1.29" transform="rotate(0 156.4 140.6)" fill="#2c2c2c"/><ellipse cx="156.4" cy="150" rx="1.29" ry="1.29" transform="rotate(0 156.4 150)" fill="#2c2c2c"/><ellipse cx="124.7" cy="150.4" rx="1.12" ry="1.12" transform="rotate(0 124.7 150.4)" fill="#2c2c2c"/><ellipse cx="147" cy="141" rx="0.86" ry="0.86" transform="rotate(0 147 141)" fill="#2c2c2c"/><ellipse cx="100" cy="135" rx="1.03" ry="1.03" transform="rotate(0 100 135)" fill="#2c2c2c"/><ellipse cx="105" cy="146" rx="0.86" ry="0.86" transform="rotate(0 105 146)" fill="#2c2c2c"/><ellipse cx="125.2" cy="135.3" rx="0.86" ry="0.86" transform="rotate(0 125.2 135.3)" fill="#2c2c2c"/><ellipse cx="212.8" cy="99.7" rx="2.15" ry="1.55" transform="rotate(10 212.8 99.7)" fill="#2c2c2c"/><ellipse cx="183.3" cy="110.4" rx="1.72" ry="1.29" transform="rotate(-40 183.3 110.4)" fill="#2c2c2c"/><ellipse cx="201.1" cy="107.9" rx="1.29" ry="1.03" transform="rotate(0 201.1 107.9)" fill="#2c2c2c"/><ellipse cx="218.2" cy="113.7" rx="2.15" ry="1.72" transform="rotate(0 218.2 113.7)" fill="#2c2c2c"/><ellipse cx="164.9" cy="115.2" rx="1.03" ry="1.03" transform="rotate(0 164.9 115.2)" fill="#2c2c2c"/><ellipse cx="197.8" cy="117.6" rx="2.15" ry="1.29" transform="rotate(40 197.8 117.6)" fill="#2c2c2c"/><ellipse cx="181.3" cy="120" rx="0.86" ry="0.86" transform="rotate(0 181.3 120)" fill="#2c2c2c"/><ellipse cx="188.1" cy="130.8" rx="2.58" ry="1.55" transform="rotate(-30 188.1 130.8)" fill="#2c2c2c"/><ellipse cx="174" cy="129.8" rx="0.86" ry="0.86" transform="rotate(0 174 129.8)" fill="#2c2c2c"/><ellipse cx="173.6" cy="141.4" rx="1.29" ry="1.29" transform="rotate(0 173.6 141.4)" fill="#2c2c2c"/><ellipse cx="195.9" cy="136.6" rx="1.03" ry="1.03" transform="rotate(0 195.9 136.6)" fill="#2c2c2c"/><ellipse cx="206.6" cy="133.7" rx="1.03" ry="1.03" transform="rotate(0 206.6 133.7)" fill="#2c2c2c"/><ellipse cx="212.8" cy="140" rx="1.29" ry="1.29" transform="rotate(0 212.8 140)" fill="#2c2c2c"/><ellipse cx="222.1" cy="135.6" rx="1.03" ry="1.03" transform="rotate(0 222.1 135.6)" fill="#2c2c2c"/><ellipse cx="227" cy="141.4" rx="2.15" ry="1.72" transform="rotate(0 227 141.4)" fill="#2c2c2c"/><ellipse cx="217.2" cy="145.3" rx="1.29" ry="1.29" transform="rotate(0 217.2 145.3)" fill="#2c2c2c"/><ellipse cx="223" cy="142.8" rx="1.29" ry="1.29" transform="rotate(0 223 142.8)" fill="#2c2c2c"/><ellipse cx="183.3" cy="140.8" rx="0.86" ry="0.86" transform="rotate(0 183.3 140.8)" fill="#2c2c2c"/><circle cx="120.4" cy="117.7" r="0.60" fill="#5a5a5a"/><circle cx="202.0" cy="133.0" r="0.55" fill="#5a5a5a"/><circle cx="175.1" cy="37.0" r="0.67" fill="#5a5a5a"/><circle cx="104.5" cy="157.7" r="0.65" fill="#5a5a5a"/><circle cx="212.8" cy="108.1" r="0.36" fill="#5a5a5a"/><circle cx="114.1" cy="151.8" r="0.50" fill="#5a5a5a"/><circle cx="119.1" cy="134.3" r="0.40" fill="#5a5a5a"/><circle cx="219.6" cy="86.9" r="0.57" fill="#5a5a5a"/><circle cx="211.6" cy="58.5" r="0.66" fill="#5a5a5a"/><circle cx="126.1" cy="153.9" r="0.71" fill="#5a5a5a"/><circle cx="197.1" cy="127.2" r="0.58" fill="#5a5a5a"/><circle cx="193.9" cy="43.9" r="0.54" fill="#5a5a5a"/><circle cx="206.5" cy="54.1" r="0.72" fill="#5a5a5a"/><circle cx="214.4" cy="81.2" r="0.50" fill="#5a5a5a"/><circle cx="228.3" cy="78.3" r="0.36" fill="#5a5a5a"/><circle cx="111.1" cy="121.4" r="0.75" fill="#5a5a5a"/><circle cx="170.6" cy="125.3" r="0.44" fill="#5a5a5a"/><circle cx="178.2" cy="100.3" r="0.60" fill="#5a5a5a"/><circle cx="144.3" cy="148.5" r="0.49" fill="#5a5a5a"/><circle cx="176.6" cy="67.9" r="0.39" fill="#5a5a5a"/><circle cx="107.5" cy="133.8" r="0.66" fill="#5a5a5a"/><circle cx="147.7" cy="116.8" r="0.62" fill="#5a5a5a"/><circle cx="215.8" cy="152.6" r="0.51" fill="#5a5a5a"/><circle cx="227.6" cy="153.0" r="0.59" fill="#5a5a5a"/><circle cx="213.8" cy="91.8" r="0.50" fill="#5a5a5a"/><circle cx="131.1" cy="141.9" r="0.41" fill="#5a5a5a"/><circle cx="108.0" cy="132.7" r="0.66" fill="#5a5a5a"/><circle cx="161.8" cy="136.8" r="0.37" fill="#5a5a5a"/><circle cx="215.9" cy="155.8" r="0.65" fill="#5a5a5a"/><circle cx="223.7" cy="96.3" r="0.64" fill="#5a5a5a"/><circle cx="208.0" cy="131.4" r="0.70" fill="#5a5a5a"/><circle cx="177.2" cy="83.4" r="0.58" fill="#5a5a5a"/><circle cx="209.4" cy="68.0" r="0.56" fill="#5a5a5a"/><circle cx="134.9" cy="127.9" r="0.35" fill="#5a5a5a"/><circle cx="188.1" cy="152.0" r="0.36" fill="#5a5a5a"/><circle cx="176.2" cy="111.7" r="0.69" fill="#5a5a5a"/><circle cx="175.0" cy="61.4" r="0.51" fill="#5a5a5a"/><circle cx="223.6" cy="145.7" r="0.40" fill="#5a5a5a"/><circle cx="117.3" cy="140.8" r="0.61" fill="#5a5a5a"/><circle cx="115.4" cy="98.0" r="0.48" fill="#5a5a5a"/><circle cx="148.1" cy="120.3" r="0.57" fill="#5a5a5a"/><circle cx="105.0" cy="120.4" r="0.70" fill="#5a5a5a"/><circle cx="199.7" cy="130.8" r="0.35" fill="#5a5a5a"/><circle cx="198.3" cy="50.8" r="0.63" fill="#5a5a5a"/><circle cx="131.9" cy="118.6" r="0.48" fill="#5a5a5a"/><circle cx="139.2" cy="145.1" r="0.47" fill="#5a5a5a"/><circle cx="164.4" cy="99.4" r="0.73" fill="#5a5a5a"/><circle cx="111.8" cy="106.2" r="0.55" fill="#5a5a5a"/><circle cx="194.5" cy="153.7" r="0.47" fill="#5a5a5a"/><circle cx="189.9" cy="96.4" r="0.57" fill="#5a5a5a"/><circle cx="107.3" cy="133.9" r="0.74" fill="#5a5a5a"/><circle cx="228.1" cy="42.0" r="0.38" fill="#5a5a5a"/><circle cx="108.5" cy="133.9" r="0.65" fill="#5a5a5a"/></g>
<rect x="204.6" y="151.8" width="21.5" height="3.6" fill="#fff"/>
<rect x="98" y="27" width="66.5" height="67.5" fill="#a4a4a4"/>
<rect x="98" y="27" width="66.5" height="67.5" fill="#888" filter="url(#grain)"/>
<g filter="url(#soft)"><ellipse cx="132" cy="57" rx="16" ry="14" fill="#8c8c8c" opacity="0.55"/><polygon points="124.15,38.51 125.31,35.69 127.67,33.53 130.89,34.83 132.10,37.74 130.11,40.24 126.79,40.57" fill="#8c8c8c" stroke="#303030" stroke-width="3.4" stroke-opacity="0.6" stroke-linejoin="round"/><polygon points="124.15,38.51 125.31,35.69 127.67,33.53 130.89,34.83 132.10,37.74 130.11,40.24 126.79,40.57" fill="none" stroke="#d2d2d2" stroke-width="1.5" stroke-linejoin="round"/><polygon points="136.02,42.02 134.05,41.78 133.43,40.06 134.18,38.26 136.51,37.85 138.21,39.32 137.84,41.27" fill="#8c8c8c" stroke="#303030" stroke-width="3.4" stroke-opacity="0.6" stroke-linejoin="round"/><polygon points="136.02,42.02 134.05,41.78 133.43,40.06 134.18,38.26 136.51,37.85 138.21,39.32 137.84,41.27" fill="none" stroke="#d2d2d2" stroke-width="1.5" stroke-linejoin="round"/><polygon points="143.61,52.00 139.59,50.78 138.01,47.05 140.23,43.18 144.71,44.12 147.93,46.34 147.35,50.19" fill="#8c8c8c" stroke="#303030" stroke-width="3.4" stroke-opacity="0.6" stroke-linejoin="round"/><polygon points="143.61,52.00 139.59,50.78 138.01,47.05 140.23,43.18 144.71,44.12 147.93,46.34 147.35,50.19" fill="none" stroke="#d2d2d2" stroke-width="1.5" stroke-linejoin="round"/><polygon points="128.94,45.81 133.15,46.93 134.70,50.57 133.01,54.13 128.86,54.83 125.39,52.49 125.69,48.48" fill="#8c8c8c" stroke="#303030" stroke-width="3.4" stroke-opacity="0.6" stroke-linejoin="round"/><polygon points="128.94,45.81 133.15,46.93 134.70,50.57 133.01,54.13 128.86,54.83 125.39,52.49 125.69,48.48" fill="none" stroke="#d2d2d2" stroke-width="1.5" stroke-linejoin="round"/><polygon points="117.39,53.47 120.54,52.82 121.99,55.57 121.49,58.41 118.60,59.88 115.44,58.52 114.71,55.24" fill="#8c8c8c" stroke="#303030" stroke-width="3.4" stroke-opacity="0.6" stroke-linejoin="round"/><polygon points="117.39,53.47 120.54,52.82 121.99,55.57 121.49,58.41 118.60,59.88 115.44,58.52 114.71,55.24" fill="none" stroke="#d2d2d2" stroke-width="1.5" stroke-linejoin="round"/><polygon points="139.36,60.17 137.46,63.46 133.44,64.27 130.70,61.59 130.20,57.80 133.92,56.16 137.74,56.77" fill="#8c8c8c" stroke="#303030" stroke-width="3.4" stroke-opacity="0.6" stroke-linejoin="round"/><polygon points="139.36,60.17 137.46,63.46 133.44,64.27 130.70,61.59 130.20,57.80 133.92,56.16 137.74,56.77" fill="none" stroke="#d2d2d2" stroke-width="1.5" stroke-linejoin="round"/><polygon points="152.60,62.80 151.65,67.23 147.63,68.96 142.57,68.90 141.12,64.21 144.30,60.97 148.60,60.23" fill="#8c8c8c" stroke="#303030" stroke-width="3.4" stroke-opacity="0.6" stroke-linejoin="round"/><polygon points="152.60,62.80 151.65,67.23 147.63,68.96 142.57,68.90 141.12,64.21 144.30,60.97 148.60,60.23" fill="none" stroke="#d2d2d2" stroke-width="1.5" stroke-linejoin="round"/><polygon points="102.81,57.03 106.28,56.79 109.67,58.15 108.89,61.43 106.35,63.19 102.73,63.19 102.00,60.03" fill="#8c8c8c" stroke="#303030" stroke-width="3.4" stroke-opacity="0.6" stroke-linejoin="round"/><polygon points="102.81,57.03 106.28,56.79 109.67,58.15 108.89,61.43 106.35,63.19 102.73,63.19 102.00,60.03" fill="none" stroke="#d2d2d2" stroke-width="1.5" stroke-linejoin="round"/><polygon points="115.86,60.94 117.96,60.67 119.05,62.36 118.65,64.20 116.76,65.46 114.85,64.19 114.43,62.27" fill="#8c8c8c" stroke="#303030" stroke-width="3.4" stroke-opacity="0.6" stroke-linejoin="round"/><polygon points="115.86,60.94 117.96,60.67 119.05,62.36 118.65,64.20 116.76,65.46 114.85,64.19 114.43,62.27" fill="none" stroke="#d2d2d2" stroke-width="1.5" stroke-linejoin="round"/><polygon points="118.76,76.64 121.71,75.72 124.64,76.87 125.02,79.70 122.84,81.68 119.23,82.36 118.22,79.28" fill="#8c8c8c" stroke="#303030" stroke-width="3.4" stroke-opacity="0.6" stroke-linejoin="round"/><polygon points="118.76,76.64 121.71,75.72 124.64,76.87 125.02,79.70 122.84,81.68 119.23,82.36 118.22,79.28" fill="none" stroke="#d2d2d2" stroke-width="1.5" stroke-linejoin="round"/><polygon points="133.86,74.53 135.37,76.28 134.50,78.08 132.98,79.30 131.27,78.30 130.23,76.64 131.47,74.86" fill="#8c8c8c" stroke="#303030" stroke-width="3.4" stroke-opacity="0.6" stroke-linejoin="round"/><polygon points="133.86,74.53 135.37,76.28 134.50,78.08 132.98,79.30 131.27,78.30 130.23,76.64 131.47,74.86" fill="none" stroke="#d2d2d2" stroke-width="1.5" stroke-linejoin="round"/><polygon points="146.31,83.32 141.48,82.55 140.94,78.04 143.27,74.33 148.23,73.79 152.57,77.02 150.68,81.81" fill="#8c8c8c" stroke="#303030" stroke-width="3.4" stroke-opacity="0.6" stroke-linejoin="round"/><polygon points="146.31,83.32 141.48,82.55 140.94,78.04 143.27,74.33 148.23,73.79 152.57,77.02 150.68,81.81" fill="none" stroke="#d2d2d2" stroke-width="1.5" stroke-linejoin="round"/><circle cx="108.4" cy="75.7" r="0.81" fill="#c4c4c4"/><circle cx="132.8" cy="31.9" r="0.49" fill="#c4c4c4"/><circle cx="125.0" cy="61.6" r="0.51" fill="#c4c4c4"/><circle cx="149.7" cy="78.8" r="0.86" fill="#c4c4c4"/><circle cx="154.8" cy="30.0" r="0.69" fill="#c4c4c4"/><circle cx="105.0" cy="82.1" r="0.77" fill="#c4c4c4"/><circle cx="147.1" cy="40.1" r="0.43" fill="#c4c4c4"/><circle cx="150.5" cy="64.8" r="0.71" fill="#c4c4c4"/><circle cx="129.2" cy="76.2" r="0.57" fill="#c4c4c4"/><circle cx="116.7" cy="49.8" r="0.55" fill="#c4c4c4"/><circle cx="138.9" cy="81.5" r="0.44" fill="#c4c4c4"/><circle cx="104.2" cy="59.2" r="0.74" fill="#c4c4c4"/><circle cx="111.8" cy="44.9" r="0.43" fill="#c4c4c4"/><circle cx="102.3" cy="58.2" r="0.74" fill="#c4c4c4"/><circle cx="140.5" cy="38.3" r="0.45" fill="#c4c4c4"/><circle cx="157.7" cy="60.8" r="0.60" fill="#c4c4c4"/><circle cx="142.8" cy="71.9" r="0.66" fill="#c4c4c4"/><circle cx="104.9" cy="77.8" r="0.51" fill="#c4c4c4"/><circle cx="102.5" cy="49.8" r="0.67" fill="#c4c4c4"/><circle cx="139.0" cy="39.3" r="0.75" fill="#c4c4c4"/><circle cx="130.6" cy="38.6" r="0.83" fill="#c4c4c4"/><circle cx="150.0" cy="82.5" r="0.74" fill="#c4c4c4"/><circle cx="113.5" cy="74.9" r="0.85" fill="#c4c4c4"/><circle cx="133.1" cy="82.6" r="0.89" fill="#c4c4c4"/><circle cx="124.2" cy="84.6" r="0.87" fill="#c4c4c4"/><circle cx="149.2" cy="29.7" r="0.58" fill="#c4c4c4"/><circle cx="138.0" cy="64.8" r="0.78" fill="#c4c4c4"/><circle cx="140.1" cy="38.5" r="0.87" fill="#c4c4c4"/><circle cx="133.2" cy="81.0" r="0.50" fill="#c4c4c4"/><circle cx="161.9" cy="61.7" r="0.79" fill="#c4c4c4"/><circle cx="145.9" cy="81.1" r="0.58" fill="#c4c4c4"/><circle cx="105.1" cy="52.9" r="0.49" fill="#c4c4c4"/><circle cx="133.5" cy="77.1" r="0.58" fill="#c4c4c4"/><circle cx="108.1" cy="30.6" r="0.61" fill="#c4c4c4"/><circle cx="136.0" cy="30.6" r="0.73" fill="#c4c4c4"/><circle cx="113.1" cy="35.3" r="0.86" fill="#c4c4c4"/><circle cx="132.4" cy="81.8" r="0.66" fill="#c4c4c4"/><circle cx="107.6" cy="43.2" r="0.61" fill="#c4c4c4"/><circle cx="139.7" cy="74.5" r="0.78" fill="#c4c4c4"/><circle cx="140.3" cy="43.9" r="0.62" fill="#c4c4c4"/><circle cx="123.4" cy="57.9" r="0.53" fill="#c4c4c4"/><circle cx="133.3" cy="56.1" r="0.42" fill="#c4c4c4"/><circle cx="151.0" cy="63.6" r="0.80" fill="#c4c4c4"/><circle cx="145.7" cy="72.1" r="0.90" fill="#c4c4c4"/><circle cx="123.4" cy="52.2" r="0.40" fill="#c4c4c4"/><circle cx="141.2" cy="63.3" r="0.69" fill="#c4c4c4"/><circle cx="161.9" cy="40.6" r="0.51" fill="#c4c4c4"/><circle cx="145.5" cy="76.9" r="0.64" fill="#c4c4c4"/><circle cx="103.4" cy="50.9" r="0.81" fill="#c4c4c4"/><circle cx="131.0" cy="56.2" r="0.59" fill="#c4c4c4"/><circle cx="139.0" cy="64.3" r="0.75" fill="#c4c4c4"/><circle cx="153.6" cy="73.3" r="0.59" fill="#c4c4c4"/><circle cx="115.5" cy="75.1" r="0.80" fill="#c4c4c4"/><circle cx="157.5" cy="40.7" r="0.82" fill="#c4c4c4"/><circle cx="155.2" cy="33.6" r="0.55" fill="#c4c4c4"/><circle cx="139.3" cy="37.6" r="0.82" fill="#c4c4c4"/><circle cx="116.4" cy="69.3" r="0.55" fill="#c4c4c4"/><circle cx="113.5" cy="41.2" r="0.65" fill="#c4c4c4"/><circle cx="144.2" cy="41.9" r="0.74" fill="#c4c4c4"/><circle cx="120.8" cy="67.3" r="0.58" fill="#c4c4c4"/></g>
<rect x="145.1" y="90.3" width="17" height="2.2" fill="#fff"/>
<path d="M98 94.5 H164.5 V27" fill="none" stroke="#111" stroke-width="1.5"/>
<rect x="98.8" y="28.2" width="130.6" height="130.2" fill="none" stroke="#111" stroke-width="1.6"/>
<rect x="231.5" y="27" width="132" height="132" fill="#bcbcbc"/>
<rect x="231.5" y="27" width="132" height="132" fill="#888" filter="url(#grain)"/>
<g filter="url(#soft)"><ellipse cx="319.8" cy="50.2" rx="2.58" ry="1.72" transform="rotate(35 319.8 50.2)" fill="#2c2c2c"/><ellipse cx="343.5" cy="49.8" rx="3.44" ry="2.24" transform="rotate(40 343.5 49.8)" fill="#2c2c2c"/><ellipse cx="329.3" cy="60.5" rx="2.15" ry="1.72" transform="rotate(0 329.3 60.5)" fill="#2c2c2c"/><ellipse cx="338.7" cy="72.5" rx="2.58" ry="1.72" transform="rotate(55 338.7 72.5)" fill="#2c2c2c"/><ellipse cx="349.3" cy="87.5" rx="2.75" ry="4.30" transform="rotate(-20 349.3 87.5)" fill="#2c2c2c"/><ellipse cx="314.4" cy="85.5" rx="1.29" ry="1.29" transform="rotate(0 314.4 85.5)" fill="#2c2c2c"/><ellipse cx="313.4" cy="71.2" rx="1.03" ry="1.03" transform="rotate(0 313.4 71.2)" fill="#2c2c2c"/><ellipse cx="306.3" cy="42.9" rx="0.86" ry="0.86" transform="rotate(0 306.3 42.9)" fill="#2c2c2c"/><ellipse cx="333.8" cy="40.5" rx="0.86" ry="0.86" transform="rotate(0 333.8 40.5)" fill="#2c2c2c"/><ellipse cx="266.8" cy="99.1" rx="5.16" ry="3.01" transform="rotate(15 266.8 99.1)" fill="#2c2c2c"/><ellipse cx="249.8" cy="98.5" rx="1.72" ry="1.72" transform="rotate(0 249.8 98.5)" fill="#2c2c2c"/><ellipse cx="248.9" cy="117.9" rx="3.01" ry="2.58" transform="rotate(0 248.9 117.9)" fill="#2c2c2c"/><ellipse cx="294.2" cy="117.9" rx="3.87" ry="2.58" transform="rotate(0 294.2 117.9)" fill="#2c2c2c"/><ellipse cx="297.9" cy="104.2" rx="1.72" ry="1.72" transform="rotate(0 297.9 104.2)" fill="#2c2c2c"/><ellipse cx="261.1" cy="129.6" rx="2.15" ry="1.72" transform="rotate(0 261.1 129.6)" fill="#2c2c2c"/><ellipse cx="274.7" cy="131.1" rx="1.72" ry="2.41" transform="rotate(0 274.7 131.1)" fill="#2c2c2c"/><ellipse cx="235.7" cy="134.3" rx="2.15" ry="1.72" transform="rotate(30 235.7 134.3)" fill="#2c2c2c"/><ellipse cx="254.5" cy="144.7" rx="3.44" ry="2.15" transform="rotate(0 254.5 144.7)" fill="#2c2c2c"/><ellipse cx="286.6" cy="143.2" rx="2.15" ry="1.72" transform="rotate(0 286.6 143.2)" fill="#2c2c2c"/><ellipse cx="290.4" cy="155.1" rx="2.15" ry="1.72" transform="rotate(0 290.4 155.1)" fill="#2c2c2c"/><ellipse cx="244.2" cy="141.9" rx="0.86" ry="0.86" transform="rotate(0 244.2 141.9)" fill="#2c2c2c"/><ellipse cx="239.4" cy="150" rx="1.03" ry="1.03" transform="rotate(0 239.4 150)" fill="#2c2c2c"/><ellipse cx="273.8" cy="111.1" rx="0.86" ry="0.86" transform="rotate(0 273.8 111.1)" fill="#2c2c2c"/><ellipse cx="291.9" cy="99.4" rx="0.86" ry="0.86" transform="rotate(0 291.9 99.4)" fill="#2c2c2c"/><ellipse cx="324.5" cy="102.6" rx="4.30" ry="2.58" transform="rotate(-10 324.5 102.6)" fill="#2c2c2c"/><ellipse cx="313.4" cy="108.4" rx="3.44" ry="1.55" transform="rotate(-15 313.4 108.4)" fill="#2c2c2c"/><ellipse cx="300.8" cy="96.8" rx="2.58" ry="1.72" transform="rotate(40 300.8 96.8)" fill="#2c2c2c"/><ellipse cx="337.7" cy="122.6" rx="2.15" ry="1.89" transform="rotate(0 337.7 122.6)" fill="#2c2c2c"/><ellipse cx="356.1" cy="122.6" rx="2.15" ry="1.72" transform="rotate(0 356.1 122.6)" fill="#2c2c2c"/><ellipse cx="321.2" cy="124.5" rx="1.72" ry="2.58" transform="rotate(0 321.2 124.5)" fill="#2c2c2c"/><ellipse cx="347.4" cy="130.8" rx="1.29" ry="1.29" transform="rotate(0 347.4 130.8)" fill="#2c2c2c"/><ellipse cx="321.2" cy="137.5" rx="2.15" ry="1.55" transform="rotate(0 321.2 137.5)" fill="#2c2c2c"/><ellipse cx="306.3" cy="144.7" rx="1.89" ry="1.38" transform="rotate(0 306.3 144.7)" fill="#2c2c2c"/><ellipse cx="337.3" cy="143.4" rx="1.72" ry="1.89" transform="rotate(0 337.3 143.4)" fill="#2c2c2c"/><ellipse cx="324.5" cy="149.2" rx="1.55" ry="1.55" transform="rotate(0 324.5 149.2)" fill="#2c2c2c"/><ellipse cx="332.8" cy="111" rx="0.86" ry="0.86" transform="rotate(0 332.8 111)" fill="#2c2c2c"/><ellipse cx="297.3" cy="104.6" rx="1.29" ry="1.29" transform="rotate(0 297.3 104.6)" fill="#2c2c2c"/><circle cx="240.4" cy="118.5" r="0.52" fill="#5a5a5a"/><circle cx="248.9" cy="142.5" r="0.61" fill="#5a5a5a"/><circle cx="235.7" cy="122.2" r="0.59" fill="#5a5a5a"/><circle cx="357.1" cy="76.6" r="0.60" fill="#5a5a5a"/><circle cx="315.0" cy="75.5" r="0.49" fill="#5a5a5a"/><circle cx="330.4" cy="110.6" r="0.53" fill="#5a5a5a"/><circle cx="299.3" cy="57.1" r="0.67" fill="#5a5a5a"/><circle cx="235.6" cy="111.6" r="0.53" fill="#5a5a5a"/><circle cx="261.6" cy="104.3" r="0.58" fill="#5a5a5a"/><circle cx="254.3" cy="131.9" r="0.48" fill="#5a5a5a"/><circle cx="252.6" cy="109.1" r="0.69" fill="#5a5a5a"/><circle cx="301.9" cy="43.0" r="0.51" fill="#5a5a5a"/><circle cx="331.2" cy="54.4" r="0.63" fill="#5a5a5a"/><circle cx="302.5" cy="39.0" r="0.45" fill="#5a5a5a"/><circle cx="310.3" cy="40.5" r="0.43" fill="#5a5a5a"/><circle cx="307.4" cy="134.4" r="0.56" fill="#5a5a5a"/><circle cx="318.6" cy="29.2" r="0.47" fill="#5a5a5a"/><circle cx="274.0" cy="146.7" r="0.49" fill="#5a5a5a"/><circle cx="334.2" cy="32.5" r="0.55" fill="#5a5a5a"/><circle cx="348.0" cy="128.3" r="0.58" fill="#5a5a5a"/><circle cx="256.5" cy="148.4" r="0.38" fill="#5a5a5a"/><circle cx="357.4" cy="128.9" r="0.64" fill="#5a5a5a"/><circle cx="301.5" cy="49.3" r="0.49" fill="#5a5a5a"/><circle cx="318.6" cy="113.3" r="0.51" fill="#5a5a5a"/><circle cx="336.4" cy="34.9" r="0.46" fill="#5a5a5a"/><circle cx="335.3" cy="125.9" r="0.41" fill="#5a5a5a"/><circle cx="318.4" cy="85.5" r="0.44" fill="#5a5a5a"/><circle cx="281.3" cy="140.5" r="0.52" fill="#5a5a5a"/><circle cx="322.1" cy="109.6" r="0.54" fill="#5a5a5a"/><circle cx="304.8" cy="75.3" r="0.43" fill="#5a5a5a"/><circle cx="350.8" cy="83.3" r="0.43" fill="#5a5a5a"/><circle cx="345.0" cy="71.8" r="0.62" fill="#5a5a5a"/><circle cx="262.7" cy="112.6" r="0.53" fill="#5a5a5a"/><circle cx="328.0" cy="96.7" r="0.50" fill="#5a5a5a"/><circle cx="269.1" cy="105.3" r="0.68" fill="#5a5a5a"/><circle cx="322.2" cy="90.4" r="0.48" fill="#5a5a5a"/><circle cx="348.0" cy="138.0" r="0.41" fill="#5a5a5a"/><circle cx="320.6" cy="128.4" r="0.62" fill="#5a5a5a"/><circle cx="357.4" cy="142.3" r="0.45" fill="#5a5a5a"/><circle cx="361.6" cy="70.6" r="0.50" fill="#5a5a5a"/><circle cx="359.0" cy="49.7" r="0.51" fill="#5a5a5a"/><circle cx="313.7" cy="63.5" r="0.46" fill="#5a5a5a"/><circle cx="335.5" cy="107.6" r="0.65" fill="#5a5a5a"/><circle cx="334.9" cy="141.4" r="0.71" fill="#5a5a5a"/><circle cx="339.2" cy="155.2" r="0.55" fill="#5a5a5a"/><circle cx="323.5" cy="94.8" r="0.74" fill="#5a5a5a"/><circle cx="317.5" cy="84.0" r="0.62" fill="#5a5a5a"/><circle cx="291.6" cy="127.2" r="0.37" fill="#5a5a5a"/><circle cx="315.1" cy="42.5" r="0.55" fill="#5a5a5a"/><circle cx="324.8" cy="81.7" r="0.51" fill="#5a5a5a"/><circle cx="327.0" cy="43.1" r="0.49" fill="#5a5a5a"/><circle cx="323.5" cy="136.5" r="0.74" fill="#5a5a5a"/><circle cx="266.2" cy="109.3" r="0.48" fill="#5a5a5a"/><circle cx="323.5" cy="138.0" r="0.40" fill="#5a5a5a"/><circle cx="277.5" cy="149.7" r="0.49" fill="#5a5a5a"/><circle cx="314.5" cy="134.4" r="0.46" fill="#5a5a5a"/><circle cx="334.1" cy="28.5" r="0.49" fill="#5a5a5a"/><circle cx="336.6" cy="50.6" r="0.58" fill="#5a5a5a"/></g>
<rect x="337.7" y="151.8" width="21.7" height="3.6" fill="#fff"/>
<rect x="231.5" y="27" width="67" height="67.5" fill="url(#in2g)"/>
<rect x="231.5" y="27" width="67" height="67.5" fill="#888" filter="url(#grain)"/>
<g filter="url(#soft2)"><ellipse cx="265.5" cy="61.5" rx="24" ry="23" fill="#4e4e4e" opacity="0.45"/><path d="M242 60 Q244 50 250 45 Q255 39 262 40 Q270 36 278 42 Q286 46 287 53 Q291 61 287 69 Q284 77 276 80 Q268 85 258 84 Q249 82 245 74 Q240 67 242 60 Z" fill="#9e9e9e" stroke="#555" stroke-width="1"/><ellipse cx="251" cy="68" rx="10" ry="9" transform="rotate(20 251 68)" fill="#c2c2c2" stroke="#666" stroke-width="0.9"/><ellipse cx="273" cy="47" rx="9.5" ry="7" transform="rotate(-20 273 47)" fill="#bdbdbd" stroke="#666" stroke-width="0.9"/><ellipse cx="283" cy="61" rx="5.5" ry="9" transform="rotate(0 283 61)" fill="#b8b8b8" stroke="#666" stroke-width="0.9"/><ellipse cx="263" cy="79" rx="9" ry="5" transform="rotate(0 263 79)" fill="#b4b4b4" stroke="#666" stroke-width="0.9"/><ellipse cx="254" cy="49" rx="7" ry="6" transform="rotate(0 254 49)" fill="#b6b6b6" stroke="#666" stroke-width="0.9"/><ellipse cx="276" cy="72" rx="7" ry="6" transform="rotate(30 276 72)" fill="#b6b6b6" stroke="#666" stroke-width="0.9"/><path d="M260 57 Q265 54 270 57 Q271 62 267 64 Q262 65 260 61 Z" fill="#626262"/><path d="M262 66 Q266 70 271 67" fill="none" stroke="#505050" stroke-width="1.3"/><path d="M276 56 Q279 60 277 64" fill="none" stroke="#505050" stroke-width="1.3"/><path d="M254 57 Q258 60 256 64" fill="none" stroke="#505050" stroke-width="1.3"/><path d="M284 86 Q292 82 296 88" fill="none" stroke="#b0b0b0" stroke-width="2"/></g>
<rect x="278.3" y="90" width="18.7" height="2.8" fill="#fff"/>
<path d="M231.5 94.3 H298.3 V27" fill="none" stroke="#111" stroke-width="1.5"/>
<rect x="232.3" y="28.2" width="130.6" height="130.2" fill="none" stroke="#111" stroke-width="1.6"/>
<rect x="98" y="164.29999999999998" width="265.3" height="1.6" fill="#111"/>
<rect x="98" y="221.1" width="265.3" height="1.6" fill="#111"/>
<rect x="98" y="259.2" width="265.3" height="1.6" fill="#111"/>
<text x="271" y="176.7" font-size="10.4" fill="#0a0a0a" text-anchor="middle" font-weight="normal" style="stroke-width:0.14px" >Complex diameter (nm)</text>
<text x="113" y="197" font-size="10.5" fill="#0a0a0a" text-anchor="middle" font-weight="normal" style="stroke-width:0.14px" >LP</text>
<text x="153.6" y="197.4" font-size="10.5" fill="#0a0a0a" text-anchor="middle" font-weight="normal" style="stroke-width:0.14px" >ZP (mV)</text>
<text x="210.1" y="205.6" font-size="10.5" fill="#0a0a0a" text-anchor="middle" font-weight="normal" style="stroke-width:0.14px" >DLS</text>
<text x="272.2" y="199.2" font-size="10.5" fill="#0a0a0a" text-anchor="middle" font-weight="normal" style="stroke-width:0.14px" >TEM</text>
<text x="272.2" y="210.2" font-size="10.5" fill="#0a0a0a" text-anchor="middle" font-weight="normal" style="stroke-width:0.14px" >(aggregates)</text>
<text x="333.6" y="192.8" font-size="10.5" fill="#0a0a0a" text-anchor="middle" font-weight="normal" style="stroke-width:0.14px" >TEM (sub-</text>
<text x="333.6" y="206" font-size="10.5" fill="#0a0a0a" text-anchor="middle" font-weight="normal" style="stroke-width:0.14px" >species,</text>
<text x="333.6" y="216.8" font-size="10.5" fill="#0a0a0a" text-anchor="middle" font-weight="normal" style="stroke-width:0.14px" >inset)</text>
<text x="98.6" y="235.7" font-size="9.6" fill="#0a0a0a" text-anchor="start" font-weight="normal" style="stroke-width:0.06px" >L1a-4</text>
<text x="129.3" y="235.7" font-size="9.6" fill="#0a0a0a" text-anchor="start" font-weight="normal" style="stroke-width:0.06px" >15.4 ± 2.9</text>
<text x="179.5" y="235.7" font-size="9.6" fill="#0a0a0a" text-anchor="start" font-weight="normal" style="stroke-width:0.06px" >334 ± 9</text>
<text x="241" y="235.7" font-size="9.6" fill="#0a0a0a" text-anchor="start" font-weight="normal" style="stroke-width:0.06px" >338 ± 174</text>
<text x="304.7" y="235.7" font-size="9.6" fill="#0a0a0a" text-anchor="start" font-weight="normal" style="stroke-width:0.06px" >121 ± 90</text>
<text x="98.6" y="254.3" font-size="9.6" fill="#0a0a0a" text-anchor="start" font-weight="normal" style="stroke-width:0.06px" >L1b-4</text>
<text x="129.3" y="254.3" font-size="9.6" fill="#0a0a0a" text-anchor="start" font-weight="normal" style="stroke-width:0.06px" >16.9 ± 3.2</text>
<text x="179.5" y="254.3" font-size="9.6" fill="#0a0a0a" text-anchor="start" font-weight="normal" style="stroke-width:0.06px" >2460 ± 1760</text>
<text x="241" y="254.3" font-size="9.6" fill="#0a0a0a" text-anchor="start" font-weight="normal" style="stroke-width:0.06px" >615 ± 460</text>
<text x="304.7" y="254.3" font-size="9.6" fill="#0a0a0a" text-anchor="start" font-weight="normal" style="stroke-width:0.06px" >335 ± 230</text>
<text x="10.5" y="284.8" font-size="20" fill="#0a0a0a" text-anchor="start" font-weight="normal" style="stroke-width:0.22px" >b</text>
<path d="M64.1 477.9 V299.6 H363.1 V477.9" fill="none" stroke="#151515" stroke-width="1.8" stroke-linejoin="miter"/>
<line x1="59.9" y1="477.90" x2="64.1" y2="477.90" stroke="#111" stroke-width="1.1"/>
<text x="53.6" y="481.79999999999995" font-size="11.8" fill="#0a0a0a" text-anchor="end" font-weight="normal" style="stroke-width:0.22px" >0.0</text>
<line x1="61.3" y1="460.07" x2="64.1" y2="460.07" stroke="#111" stroke-width="1.1"/>
<line x1="59.9" y1="442.24" x2="64.1" y2="442.24" stroke="#111" stroke-width="1.1"/>
<text x="53.6" y="446.14" font-size="11.8" fill="#0a0a0a" text-anchor="end" font-weight="normal" style="stroke-width:0.22px" >0.2</text>
<line x1="61.3" y1="424.41" x2="64.1" y2="424.41" stroke="#111" stroke-width="1.1"/>
<line x1="59.9" y1="406.58" x2="64.1" y2="406.58" stroke="#111" stroke-width="1.1"/>
<text x="53.6" y="410.47999999999996" font-size="11.8" fill="#0a0a0a" text-anchor="end" font-weight="normal" style="stroke-width:0.22px" >0.4</text>
<line x1="61.3" y1="388.75" x2="64.1" y2="388.75" stroke="#111" stroke-width="1.1"/>
<line x1="59.9" y1="370.92" x2="64.1" y2="370.92" stroke="#111" stroke-width="1.1"/>
<text x="53.6" y="374.82" font-size="11.8" fill="#0a0a0a" text-anchor="end" font-weight="normal" style="stroke-width:0.22px" >0.6</text>
<line x1="61.3" y1="353.09" x2="64.1" y2="353.09" stroke="#111" stroke-width="1.1"/>
<line x1="59.9" y1="335.26" x2="64.1" y2="335.26" stroke="#111" stroke-width="1.1"/>
<text x="53.6" y="339.15999999999997" font-size="11.8" fill="#0a0a0a" text-anchor="end" font-weight="normal" style="stroke-width:0.22px" >0.8</text>
<line x1="61.3" y1="317.43" x2="64.1" y2="317.43" stroke="#111" stroke-width="1.1"/>
<line x1="59.9" y1="299.60" x2="64.1" y2="299.60" stroke="#111" stroke-width="1.1"/>
<text x="53.6" y="303.5" font-size="11.8" fill="#0a0a0a" text-anchor="end" font-weight="normal" style="stroke-width:0.22px" >1.0</text>
<text x="22.5" y="384.8" font-size="13.1" fill="#0a0a0a" text-anchor="middle" transform="rotate(-90 22.5 384.8)">Normalised fluorescence</text>
<rect x="79.7" y="475.7" width="14.200000000000003" height="2.1999999999999886" fill="#4a61d0"/>
<rect x="97.6" y="392.8" width="14.099999999999998" height="85.1" fill="none" stroke="#5068d8" stroke-width="1.2"/>
<rect x="115.7" y="475" width="14.299999999999997" height="2.8999999999999773" fill="#ef4a26"/>
<rect x="133.6" y="377.1" width="13.99999999999999" height="100.79999999999998" fill="none" stroke="#f05a3c" stroke-width="1.2"/>
<rect x="179.1" y="476.5" width="14.199999999999989" height="1.3999999999999773" fill="#4a61d0"/>
<rect x="197.6" y="458.1" width="14.100000000000012" height="19.799999999999976" fill="none" stroke="#5068d8" stroke-width="1.2"/>
<rect x="215.3" y="476.3" width="14.300000000000011" height="1.599999999999966" fill="#ef4a26"/>
<rect x="233.6" y="400.70000000000005" width="13.99999999999999" height="77.19999999999996" fill="none" stroke="#f05a3c" stroke-width="1.2"/>
<rect x="279" y="436.2" width="14.199999999999989" height="41.69999999999999" fill="#4a61d0"/>
<rect x="297.0" y="372.90000000000003" width="14.100000000000012" height="104.99999999999997" fill="none" stroke="#5068d8" stroke-width="1.2"/>
<rect x="314.9" y="472.2" width="14.300000000000011" height="5.699999999999989" fill="#ef4a26"/>
<rect x="333.20000000000005" y="382.90000000000003" width="13.99999999999999" height="94.99999999999997" fill="none" stroke="#f05a3c" stroke-width="1.2"/>
<line x1="63.2" y1="477.9" x2="364" y2="477.9" stroke="#111" stroke-width="1.7"/>
<text x="113.8" y="497" font-size="11.8" fill="#0a0a0a" text-anchor="middle" font-weight="normal" style="stroke-width:0.22px" >1x-4</text>
<text x="213.4" y="497" font-size="11.8" fill="#0a0a0a" text-anchor="middle" font-weight="normal" style="stroke-width:0.22px" >2x-4</text>
<text x="313.2" y="497" font-size="11.8" fill="#0a0a0a" text-anchor="middle" font-weight="normal" style="stroke-width:0.22px" >L1x-4</text>
<text x="215.5" y="317.5" font-size="13.4" fill="#0a0a0a" text-anchor="start" font-weight="normal" style="stroke-width:0.22px" >x =</text>
<rect x="215.4" y="326.1" width="6.9" height="6.9" fill="#4a61d0"/>
<rect x="215.4" y="342.5" width="6.9" height="6.9" fill="#ef4a26"/>
<rect x="289.6" y="327.3" width="6.8" height="6.4" fill="none" stroke="#5068d8" stroke-width="1.1"/>
<rect x="289.6" y="342.9" width="6.8" height="6.4" fill="none" stroke="#f05a3c" stroke-width="1.1"/>
<text x="224.3" y="334.8" font-size="13.4" fill="#0a0a0a" text-anchor="start" font-weight="normal" style="stroke-width:0.22px" >a (GFP)</text>
<text x="224.3" y="350.8" font-size="13.4" fill="#0a0a0a" text-anchor="start" font-weight="normal" style="stroke-width:0.22px" >b (GFP)</text>
<text x="298.5" y="335.4" font-size="13.4" fill="#0a0a0a" text-anchor="start" font-weight="normal" style="stroke-width:0.22px" >a (Cy3)</text>
<text x="298.5" y="350.8" font-size="13.4" fill="#0a0a0a" text-anchor="start" font-weight="normal" style="stroke-width:0.22px" >b (Cy3)</text>
<text x="13.0" y="531.3" font-size="20.5" fill="#0a0a0a" text-anchor="start" font-weight="normal" style="stroke-width:0.6px">c</text>
<line x1="64.4" y1="658.50" x2="362" y2="658.50" stroke="#d4d4d4" stroke-width="1"/>
<line x1="64.4" y1="592.40" x2="362" y2="592.40" stroke="#d4d4d4" stroke-width="1"/>
<path d="M64.4 724.5 V546.9 H363.2 V724.5" fill="none" stroke="#111" stroke-width="1.7"/>
<line x1="59.8" y1="724.60" x2="64.4" y2="724.60" stroke="#111" stroke-width="1.1"/>
<line x1="61.9" y1="704.70" x2="64.4" y2="704.70" stroke="#111" stroke-width="1"/>
<line x1="61.9" y1="693.06" x2="64.4" y2="693.06" stroke="#111" stroke-width="1"/>
<line x1="61.9" y1="684.80" x2="64.4" y2="684.80" stroke="#111" stroke-width="1"/>
<line x1="61.9" y1="678.40" x2="64.4" y2="678.40" stroke="#111" stroke-width="1"/>
<line x1="61.9" y1="673.16" x2="64.4" y2="673.16" stroke="#111" stroke-width="1"/>
<line x1="61.9" y1="668.74" x2="64.4" y2="668.74" stroke="#111" stroke-width="1"/>
<line x1="61.9" y1="664.91" x2="64.4" y2="664.91" stroke="#111" stroke-width="1"/>
<line x1="61.9" y1="661.52" x2="64.4" y2="661.52" stroke="#111" stroke-width="1"/>
<line x1="59.8" y1="658.50" x2="64.4" y2="658.50" stroke="#111" stroke-width="1.1"/>
<line x1="61.9" y1="638.60" x2="64.4" y2="638.60" stroke="#111" stroke-width="1"/>
<line x1="61.9" y1="626.96" x2="64.4" y2="626.96" stroke="#111" stroke-width="1"/>
<line x1="61.9" y1="618.70" x2="64.4" y2="618.70" stroke="#111" stroke-width="1"/>
<line x1="61.9" y1="612.30" x2="64.4" y2="612.30" stroke="#111" stroke-width="1"/>
<line x1="61.9" y1="607.06" x2="64.4" y2="607.06" stroke="#111" stroke-width="1"/>
<line x1="61.9" y1="602.64" x2="64.4" y2="602.64" stroke="#111" stroke-width="1"/>
<line x1="61.9" y1="598.81" x2="64.4" y2="598.81" stroke="#111" stroke-width="1"/>
<line x1="61.9" y1="595.42" x2="64.4" y2="595.42" stroke="#111" stroke-width="1"/>
<line x1="59.8" y1="592.40" x2="64.4" y2="592.40" stroke="#111" stroke-width="1.1"/>
<line x1="61.9" y1="572.50" x2="64.4" y2="572.50" stroke="#111" stroke-width="1"/>
<line x1="61.9" y1="560.86" x2="64.4" y2="560.86" stroke="#111" stroke-width="1"/>
<line x1="61.9" y1="552.60" x2="64.4" y2="552.60" stroke="#111" stroke-width="1"/>
<line x1="61.9" y1="546.20" x2="64.4" y2="546.20" stroke="#111" stroke-width="1"/>
<text x="53.8" y="596.2" font-size="11.8" fill="#0a0a0a" text-anchor="end" font-weight="normal" style="stroke-width:0.22px" >100</text>
<text x="53.8" y="662.3" font-size="11.8" fill="#0a0a0a" text-anchor="end" font-weight="normal" style="stroke-width:0.22px" >10</text>
<text x="53.8" y="728" font-size="11.8" fill="#0a0a0a" text-anchor="end" font-weight="normal" style="stroke-width:0.22px" >1</text>
<text x="22.8" y="633.3" font-size="13.6" fill="#0a0a0a" text-anchor="middle" transform="rotate(-90 22.8 633.3)">MFI (GFP) x10<tspan font-size="8.8" dy="-5">3</tspan></text>
<rect x="76" y="598.6" width="10.299999999999997" height="126.0" fill="#6aae3c"/>
<path d="M81.1 584.5 V627.5 M77.44999999999999 584.5 H84.75 M77.44999999999999 627.5 H84.75" stroke="#111" stroke-width="1.2" fill="none"/>
<rect x="89.3" y="705.4" width="10.5" height="19.200000000000045" fill="#848484"/>
<path d="M94.6 702.6 V708.1 M91.35 702.6 H97.85 M91.35 708.1 H97.85" stroke="#111" stroke-width="1.2" fill="none"/>
<rect x="102.5" y="703.7" width="10.200000000000003" height="20.899999999999977" fill="#7030a0"/>
<path d="M107.6 702.1 V704.9 M104.35 702.1 H110.85 M104.35 704.9 H110.85" stroke="#111" stroke-width="1.2" fill="none"/>
<rect x="135.4" y="671.9" width="10.5" height="52.700000000000045" fill="#4b63d3"/>
<path d="M140.65 662.6 V686.3 M137.4 662.6 H143.9 M137.4 686.3 H143.9" stroke="#111" stroke-width="1.2" fill="none"/>
<rect x="148.8" y="692.2" width="10.299999999999983" height="32.39999999999998" fill="#f2481f"/>
<path d="M153.95 683.9 V703.5 M150.7 683.9 H157.2 M150.7 703.5 H157.2" stroke="#111" stroke-width="1.2" fill="none"/>
<rect x="195.5" y="618.0" width="10.400000000000006" height="106.60000000000002" fill="#4b63d3"/>
<path d="M200.7 605.7 V640.6 M197.45 605.7 H203.95 M197.45 640.6 H203.95" stroke="#111" stroke-width="1.2" fill="none"/>
<rect x="208.6" y="685.3" width="10.5" height="39.30000000000007" fill="#f2481f"/>
<path d="M213.85 672.5 V708.8 M210.6 672.5 H217.1 M210.6 708.8 H217.1" stroke="#111" stroke-width="1.2" fill="none"/>
<rect x="255.4" y="642.3" width="10.200000000000017" height="82.30000000000007" fill="#4b63d3"/>
<path d="M260.5 628.1 V668.6 M257.25 628.1 H263.75 M257.25 668.6 H263.75" stroke="#111" stroke-width="1.2" fill="none"/>
<rect x="268.7" y="692.6" width="10.199999999999989" height="32.0" fill="#f2481f"/>
<path d="M273.79999999999995 685.3 V702.4 M270.54999999999995 685.3 H277.04999999999995 M270.54999999999995 702.4 H277.04999999999995" stroke="#111" stroke-width="1.2" fill="none"/>
<rect x="315.3" y="672.7" width="9.599999999999966" height="51.89999999999998" fill="#4b63d3"/>
<path d="M320.1 658.4 V700.5 M316.85 658.4 H323.35 M316.85 700.5 H323.35" stroke="#111" stroke-width="1.2" fill="none"/>
<rect x="328.3" y="675" width="10.399999999999977" height="49.60000000000002" fill="#f2481f"/>
<path d="M333.5 670.8 V680 M330.25 670.8 H336.75 M330.25 680 H336.75" stroke="#111" stroke-width="1.2" fill="none"/>
<line x1="63.5" y1="724.5" x2="364" y2="724.5" stroke="#111" stroke-width="1.7"/>
<path d="M79.1 567.6 V563.3 H199.9 V567.4" stroke="#111" stroke-width="1.2" fill="none"/>
<text x="141.2" y="560.6" font-size="10.8" fill="#0a0a0a" text-anchor="middle" font-weight="normal" style="stroke-width:0.14px" >NS</text>
<path d="M107.6 695 V581.2 H272.8 V585 M212.9 581.2 V585.6" stroke="#111" stroke-width="1.2" fill="none"/>
<text x="190.1" y="578.5" font-size="10.8" fill="#0a0a0a" text-anchor="middle" font-weight="normal" style="stroke-width:0.14px" >NS</text>
<path d="M107.6 632.3 H154.1 V636" stroke="#111" stroke-width="1.2" fill="none"/>
<text x="130.3" y="628.1" font-size="10.8" fill="#0a0a0a" text-anchor="middle" font-weight="normal" style="stroke-width:0.14px" >NS</text>
<path d="M140.5 656.6 V652.4 H154.1 V656.6" stroke="#111" stroke-width="1.2" fill="none"/>
<text x="147" y="651.2" font-size="8.5" fill="#0a0a0a" text-anchor="middle" font-weight="normal" style="stroke-width:0.06px" >*</text>
<path d="M200.4 603.2 V600 H214 V603.2" stroke="#111" stroke-width="1.2" fill="none"/>
<text x="207.1" y="598.8" font-size="8.5" fill="#0a0a0a" text-anchor="middle" font-weight="normal" style="stroke-width:0.06px" >**</text>
<path d="M260.2 625.3 V621.3 H273.8 V625.2" stroke="#111" stroke-width="1.2" fill="none"/>
<text x="266.6" y="620.3" font-size="8.5" fill="#0a0a0a" text-anchor="middle" font-weight="normal" style="stroke-width:0.06px" >*</text>
<path d="M320 654.5 V650.7 H333.6 V654.5" stroke="#111" stroke-width="1.2" fill="none"/>
<text x="326.8" y="647.5" font-size="10.8" fill="#0a0a0a" text-anchor="middle" font-weight="normal" style="stroke-width:0.14px" >NS</text>
<text x="154" y="742.6" font-size="11.8" fill="#0a0a0a" text-anchor="middle" font-weight="normal" style="stroke-width:0.22px" >L1x-2</text>
<text x="213.5" y="742.6" font-size="11.8" fill="#0a0a0a" text-anchor="middle" font-weight="normal" style="stroke-width:0.22px" >L1x-4</text>
<text x="272.8" y="742.6" font-size="11.8" fill="#0a0a0a" text-anchor="middle" font-weight="normal" style="stroke-width:0.22px" >L1x-8</text>
<text x="333.5" y="742.6" font-size="11.8" fill="#0a0a0a" text-anchor="middle" font-weight="normal" style="stroke-width:0.22px" >L1x-16</text>
<text x="85" y="726.2" font-size="10.4" fill="#0a0a0a" text-anchor="end" transform="rotate(-90 85 726.2)">Lipid</text>
<text x="99" y="726.2" font-size="10.4" fill="#0a0a0a" text-anchor="end" transform="rotate(-90 99 726.2)">Cells</text>
<text x="111.3" y="726.2" font-size="10.4" fill="#0a0a0a" text-anchor="end" transform="rotate(-90 111.3 726.2)">pDNA</text>
<text x="108.6" y="537.8" font-size="13.4" fill="#0a0a0a" text-anchor="start" font-weight="normal" style="stroke-width:0.22px" >x =</text>
<rect x="140.9" y="530.5" width="6.5" height="6.5" fill="#4b63d3"/>
<text x="151" y="538.3" font-size="13.4" fill="#0a0a0a" text-anchor="start" font-weight="normal" style="stroke-width:0.22px" >a (responsive)</text>
<rect x="253.4" y="530.8" width="6.5" height="6.5" fill="#f2481f"/>
<text x="263.4" y="538.3" font-size="13.4" fill="#0a0a0a" text-anchor="start" font-weight="normal" style="stroke-width:0.22px" >b (control)</text></svg>
</body></html>
